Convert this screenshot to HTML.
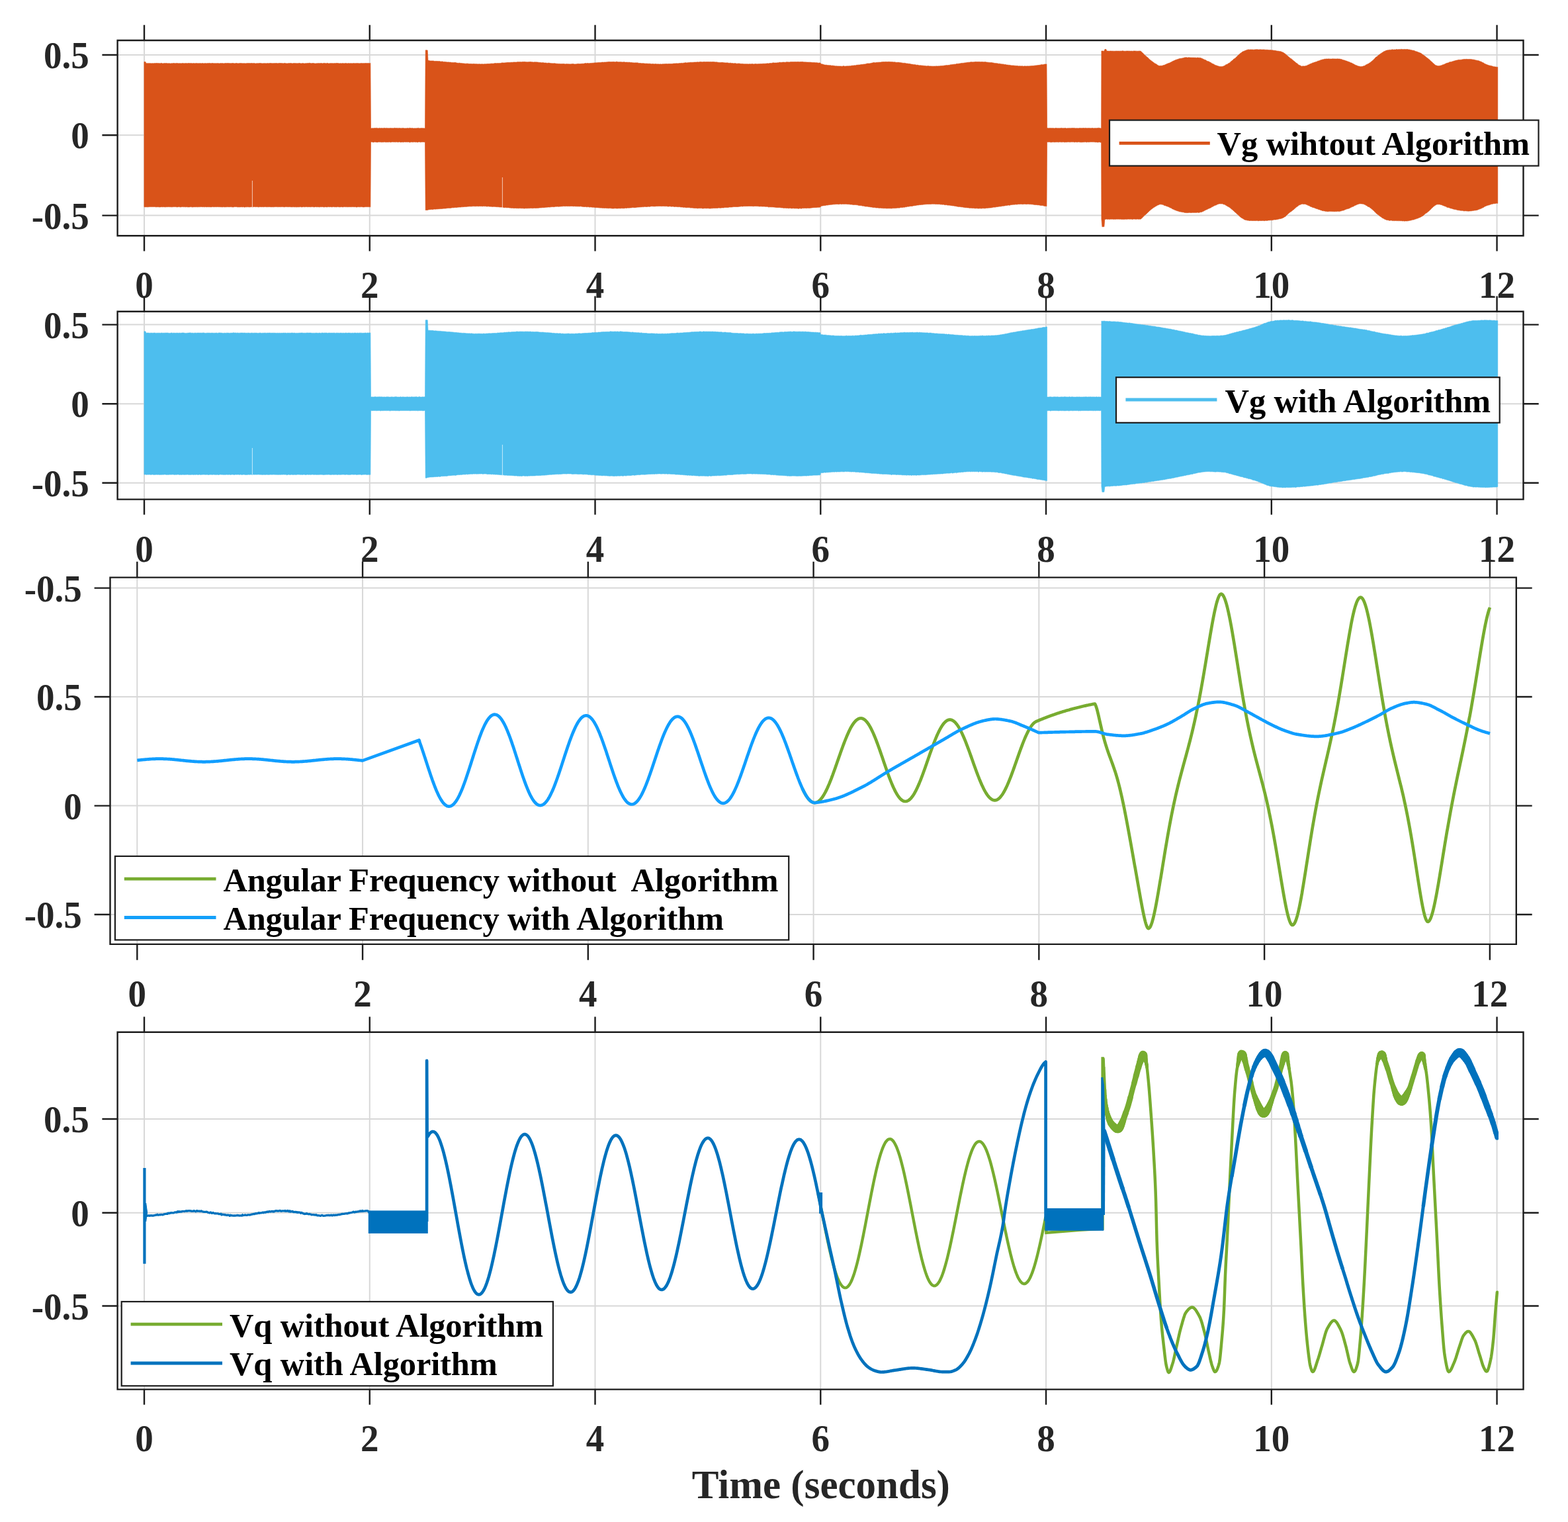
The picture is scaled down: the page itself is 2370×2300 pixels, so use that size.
<!DOCTYPE html>
<html lang="en">
<head>
<meta charset="utf-8">
<title>Vg, Angular Frequency and Vq with and without Algorithm</title>
<style>
html,body{margin:0;padding:0;background:#fff;}
body{width:2370px;height:2300px;overflow:hidden;}
svg{display:block;filter:blur(0.45px);}
text{font-family:"Liberation Serif", "DejaVu Serif", serif;font-weight:bold;}
.tk{font-size:55px;fill:#262626;}
.lg{font-size:50.5px;fill:#000;white-space:pre;}
.xl{font-size:61px;fill:#262626;}
.ax{stroke:#1c1c1c;stroke-width:2.4;fill:none;stroke-linecap:butt;}
.gr{stroke:#d8d8d8;stroke-width:2;fill:none;}
.lb{fill:#fff;stroke:#1c1c1c;stroke-width:2.2;}
</style>
</head>
<body>
<svg width="2370" height="2300" viewBox="0 0 2370 2300">
<rect x="0" y="0" width="2370" height="2300" fill="#fff"/>
<g id="plot1">
<path class="gr" d="M218 61V356.2M558.76 61V356.2M899.52 61V356.2M1240.28 61V356.2M1581.04 61V356.2M1921.8 61V356.2M2262.56 61V356.2M177.6 83H2302.5M177.6 204.2H2302.5M177.6 325.6H2302.5"/>
<clipPath id="cp1"><rect x="177.6" y="61" width="2087.36" height="295.2"/></clipPath>
<g clip-path="url(#cp1)">
<path d="M217.9 93.5L218.9 93.4L219.9 93.4L220.9 95.7L221.9 95.8L222.9 95.6L223.9 95.9L224.9 95.5L225.9 95.8L226.9 95.7L227.9 95.8L228.9 95.8L229.9 95.9L230.9 95.6L231.9 95.9L232.9 95.7L233.9 95.5L234.9 95.8L235.9 95.4L236.9 95.6L237.9 95.4L238.9 95.8L239.9 95.6L240.9 95.8L241.9 95.8L242.9 95.8L243.9 95.2L244.9 95.7L245.9 95.9L246.9 95.9L247.9 95.5L248.9 95.8L249.9 95.6L250.9 95.7L251.9 95.6L252.9 95.7L253.9 95.9L254.9 95.7L255.9 95.7L256.9 95.9L257.9 95.9L258.9 95.9L259.9 95.6L260.9 95.9L261.9 95.5L262.9 95.5L263.9 95.7L264.9 95.8L265.9 95.7L266.9 95.4L267.9 95.7L268.9 95.6L269.9 95.9L270.9 95.7L271.9 95.8L272.9 95.7L273.9 95.9L274.9 95.7L275.9 95.5L276.9 95.7L277.9 95.8L278.9 95.8L279.9 95.8L280.9 95.6L281.9 95.7L282.9 95.8L283.9 95.7L284.9 95.6L285.9 95.5L286.9 95.7L287.9 95.7L288.9 95.4L289.9 95.8L290.9 95.9L291.9 95.6L292.9 95.7L293.9 95.8L294.9 95.8L295.9 95.8L296.9 95.5L297.9 95.8L298.9 95.8L299.9 95.8L300.9 95.8L301.9 95.8L302.9 95.6L303.9 95.9L304.9 95.8L305.9 95.6L306.9 95.7L307.9 95.9L308.9 95.7L309.9 95.8L310.9 95.6L311.9 95.9L312.9 95.7L313.9 95.6L314.9 95.8L315.9 95.5L316.9 95.4L317.9 95.8L318.9 95.7L319.9 95.8L320.9 95.3L321.9 95.7L322.9 95.7L323.9 95.8L324.9 95.8L325.9 95.8L326.9 95.8L327.9 95.7L328.9 95.7L329.9 95.6L330.9 95.9L331.9 95.9L332.9 95.6L333.9 95.8L334.9 95.7L335.9 95.6L336.9 95.8L337.9 95.9L338.9 95.7L339.9 95.8L340.9 95.4L341.9 95.6L342.9 95.8L343.9 95.3L344.9 95.7L345.9 95.4L346.9 95.7L347.9 95.7L348.9 95.7L349.9 95.8L350.9 95.5L351.9 95.6L352.9 95.5L353.9 95.9L354.9 95.8L355.9 95.8L356.9 95.6L357.9 95.6L358.9 95.7L359.9 95.9L360.9 95.7L361.9 95.7L362.9 95.6L363.9 95.6L364.9 95.8L365.9 95.6L366.9 95.9L367.9 95.7L368.9 95.8L369.9 95.7L370.9 95.9L371.9 95.8L372.9 95.8L373.9 95.5L374.9 95.7L375.9 95.5L376.9 95.7L377.9 95.6L378.9 95.8L379.9 95.5L380.9 95.5L381.9 95.8L382.9 95.7L383.9 95.4L384.9 95.7L385.9 95.9L386.9 95.9L387.9 95.7L388.9 95.8L389.9 95.7L390.9 95.8L391.9 95.6L392.9 95.6L393.9 95.5L394.9 95.8L395.9 95.8L396.9 95.9L397.9 95.8L398.9 95.8L399.9 95.7L400.9 95.8L401.9 95.8L402.9 95.9L403.9 95.6L404.9 95.7L405.9 95.8L406.9 95.7L407.9 95.5L408.9 95.6L409.9 95.6L410.9 95.8L411.9 95.7L412.9 95.7L413.9 95.7L414.9 95.6L415.9 95.8L416.9 95.5L417.9 95.6L418.9 95.7L419.9 95.8L420.9 95.7L421.9 95.4L422.9 95.5L423.9 95.6L424.9 95.5L425.9 95.7L426.9 95.6L427.9 95.9L428.9 95.7L429.9 95.5L430.9 95.4L431.9 95.8L432.9 95.9L433.9 95.8L434.9 95.9L435.9 95.7L436.9 95.5L437.9 95.8L438.9 95.6L439.9 95.5L440.9 95.8L441.9 95.9L442.9 95.8L443.9 95.6L444.9 95.7L445.9 95.6L446.9 95.7L447.9 95.8L448.9 95.7L449.9 95.8L450.9 95.8L451.9 95.4L452.9 95.5L453.9 95.7L454.9 95.9L455.9 95.9L456.9 95.5L457.9 95.8L458.9 95.7L459.9 95.9L460.9 95.9L461.9 95.8L462.9 95.6L463.9 95.9L464.9 95.3L465.9 95.7L466.9 95.4L467.9 95.1L468.9 95.7L469.9 95.5L470.9 95.9L471.9 95.6L472.9 95.6L473.9 95.6L474.9 95.8L475.9 95.9L476.9 95.9L477.9 95.9L478.9 95.7L479.9 95.7L480.9 95.8L481.9 95.6L482.9 95.8L483.9 95.7L484.9 95.6L485.9 95.6L486.9 95.8L487.9 95.9L488.9 95.5L489.9 95.4L490.9 95.5L491.9 95.8L492.9 95.7L493.9 95.8L494.9 95.2L495.9 95.8L496.9 95.9L497.9 95.9L498.9 95.6L499.9 95.8L500.9 95.8L501.9 95.6L502.9 95.8L503.9 95.9L504.9 95.5L505.9 95.7L506.9 95.8L507.9 95.4L508.9 95.5L509.9 95.6L510.9 95.6L511.9 95.7L512.9 95.9L513.9 95.8L514.9 95.8L515.9 95.8L516.9 95.9L517.9 95.5L518.9 95.7L519.9 95.9L520.9 95.7L521.9 95.7L522.9 95.5L523.9 95.8L524.9 95.9L525.9 95.8L526.9 95.6L527.9 95.9L528.9 95.7L529.9 95.8L530.9 95.8L531.9 95.8L532.9 95.9L533.9 95.5L534.9 95.8L535.9 95.7L536.9 95.7L537.9 95.7L538.9 95.7L539.9 95.5L540.9 95.8L541.9 95.7L542.9 95.8L543.9 95.9L544.9 95.6L545.9 95.8L546.9 95.4L547.9 95.8L548.9 95.8L549.9 95.6L550.9 95.8L551.9 95.6L552.9 95.6L553.9 95.6L554.9 95.7L555.9 95.6L556.9 95.5L557.9 95.8L558.9 95.7L559.9 95.4L560.5 193.6L561.5 193.9L562.5 193.7L563.5 193.8L564.5 193.8L565.5 193.7L566.5 193.5L567.5 193.6L568.5 193.8L569.5 193.3L570.5 193.7L571.5 193.9L572.5 193.7L573.5 193.4L574.5 193.8L575.5 193.8L576.5 193.6L577.5 193.8L578.5 193.7L579.5 193.8L580.5 193.4L581.5 193.5L582.5 193.7L583.5 193.7L584.5 193.4L585.5 193.7L586.5 193.8L587.5 193.8L588.5 193.7L589.5 193.8L590.5 193.5L591.5 193.8L592.5 193.7L593.5 193.8L594.5 193.7L595.5 193.8L596.5 193.3L597.5 193.6L598.5 193.8L599.5 193.6L600.5 193.4L601.5 193.9L602.5 193.4L603.5 193.7L604.5 193.6L605.5 193.8L606.5 193.9L607.5 193.4L608.5 193.8L609.5 193.5L610.5 193.8L611.5 193.9L612.5 193.8L613.5 193.9L614.5 193.8L615.5 193.7L616.5 193.5L617.5 193.9L618.5 193.4L619.5 193.4L620.5 193.6L621.5 193.7L622.5 193.7L623.5 193.5L624.5 193.9L625.5 193.9L626.5 193.8L627.5 193.9L628.5 193.8L629.5 193.9L630.5 193.6L631.5 193.8L632.5 193.3L633.5 193.9L634.5 193.8L635.5 193.8L636.5 193.7L637.5 193.6L638.5 193.8L639.5 193.7L640.5 193.8L641.5 193.9L642.5 193.5L643.2 75.8L644.2 75.9L645.2 75.7L646.2 76.1L647 91.7L648 91.2L649 91.7L650 91.9L651 92L652 92L653 91.9L654 92.1L655 91.9L656 92.3L657 92.5L658 92.5L659 92.3L660 92.6L661 92.5L662 92.5L663 92.7L664 92.4L665 92.8L666 93L667 93.2L668 92.8L669 93.1L670 93.4L671 93.4L672 93.4L673 93.6L674 93.7L675 93.8L676 93.9L677 94L678 93.8L679 94.2L680 94.1L681 94.1L682 94.4L683 94.4L684 94.4L685 94.7L686 94.5L687 94.6L688 94.4L689 94.6L690 95.1L691 95.1L692 95.3L693 95.4L694 95.1L695 95.3L696 95.4L697 95.7L698 95.5L699 95.9L700 95.8L701 96L702 96L703 96.2L704 96.2L705 96.2L706 95.9L707 96.2L708 96.3L709 96.5L710 96.6L711 96.4L712 96.6L713 96.6L714 96.8L715 96.5L716 96.5L717 96.6L718 96.8L719 96.7L720 96.6L721 96.9L722 96.7L723 96.9L724 96.8L725 96.7L726 96.9L727 96.9L728 96.8L729 96.8L730 96.9L731 96.9L732 96.8L733 96.7L734 96.8L735 96.8L736 96.6L737 96.6L738 96.4L739 96.6L740 96.4L741 96.2L742 96.3L743 95.9L744 96.2L745 96.1L746 96.2L747 95.7L748 95.7L749 95.6L750 95.7L751 95.8L752 95.6L753 95.6L754 95.7L755 95.5L756 95.4L757 95.5L758 95.1L759 94.8L760 95.1L761 94.9L762 94.9L763 95L764 94.7L765 94.8L766 94.6L767 94.5L768 94.3L769 94.6L770 94.4L771 94.2L772 94.4L773 94.1L774 94.3L775 94.2L776 94L777 93.9L778 94L779 94L780 94L781 93.9L782 93.7L783 93.6L784 93.8L785 93.7L786 93.6L787 93.7L788 93.7L789 93.7L790 93.2L791 93.7L792 93.3L793 93.5L794 93.6L795 93.7L796 93.7L797 93.8L798 93.8L799 93.7L800 93.4L801 93.8L802 93.3L803 93.8L804 93.8L805 93.8L806 94L807 94L808 93.8L809 93.8L810 94L811 93.8L812 94.1L813 94L814 94.2L815 94.4L816 94.3L817 94.6L818 94.7L819 94.8L820 94.7L821 94.5L822 95L823 95.1L824 94.9L825 95.1L826 95.3L827 95.2L828 95.5L829 95.1L830 95.1L831 95.6L832 95.6L833 95.8L834 95.7L835 95.9L836 95.7L837 96.1L838 95.6L839 96L840 96L841 96.2L842 96.3L843 96.3L844 96.4L845 96.4L846 96.4L847 96.5L848 96.7L849 96.5L850 96.4L851 96.7L852 96.3L853 96.7L854 96.8L855 96.9L856 96.5L857 96.7L858 96.7L859 96.8L860 96.8L861 96.9L862 96.8L863 97L864 96.6L865 96.7L866 96.4L867 96.7L868 96.9L869 96.9L870 96.9L871 96.8L872 96.8L873 96.5L874 96.2L875 96.7L876 96.5L877 96.6L878 96.5L879 96.3L880 96.3L881 96.2L882 96.3L883 96.1L884 95.7L885 95.6L886 95.7L887 95.9L888 95.3L889 95.7L890 95.8L891 95.7L892 95.5L893 95.5L894 95.4L895 95.3L896 95.3L897 95.2L898 94.9L899 95.1L900 94.8L901 94.9L902 94.7L903 94.8L904 94.6L905 94.6L906 94.6L907 94.5L908 94.4L909 94.3L910 94.1L911 94L912 94.3L913 94L914 94L915 93.9L916 94L917 93.8L918 93.7L919 93.7L920 93.3L921 93.7L922 93.3L923 93.8L924 93.5L925 93.6L926 93.4L927 93.6L928 93.3L929 93.7L930 93.7L931 93.5L932 93.1L933 93.4L934 93.7L935 93.7L936 93.7L937 93.7L938 93.6L939 93.9L940 93.7L941 93.9L942 94L943 93.4L944 93.9L945 94.1L946 94.1L947 94.1L948 94L949 94.2L950 94.2L951 94L952 94.3L953 94.4L954 94.6L955 94.5L956 94.7L957 94.9L958 94.8L959 94.9L960 95L961 94.7L962 94.9L963 94.9L964 94.8L965 95.4L966 95.5L967 95.5L968 95.5L969 95.7L970 95.8L971 95.9L972 95.5L973 96L974 95.9L975 96L976 96.2L977 96.1L978 96.1L979 96.3L980 96.3L981 96.2L982 96.3L983 96.3L984 96.7L985 96.7L986 96.6L987 96.5L988 96.8L989 96.8L990 96.8L991 96.5L992 96.7L993 97L994 96.8L995 96.8L996 97L997 97L998 96.8L999 96.9L1000 97L1001 96.9L1002 96.6L1003 97L1004 96.6L1005 96.8L1006 96.6L1007 96.6L1008 96.6L1009 96.8L1010 96.4L1011 96.6L1012 96.4L1013 96.6L1014 96.5L1015 96.5L1016 96.5L1017 96.3L1018 96.1L1019 96.1L1020 96L1021 95.9L1022 96L1023 95.7L1024 96L1025 95.9L1026 95.8L1027 95.6L1028 95.7L1029 95.5L1030 95.3L1031 95.4L1032 95.4L1033 95.2L1034 95L1035 95.1L1036 94.5L1037 94.9L1038 94.9L1039 94.7L1040 94.8L1041 94.5L1042 94.6L1043 94.4L1044 94.1L1045 94.4L1046 94.2L1047 94.3L1048 94.2L1049 94.1L1050 94L1051 94.1L1052 93.9L1053 94L1054 93.8L1055 93.8L1056 93.9L1057 93.9L1058 93.2L1059 93.7L1060 93.5L1061 93.8L1062 93.8L1063 93.6L1064 93.5L1065 93.4L1066 93.7L1067 93.6L1068 93.6L1069 93.6L1070 93.6L1071 93.4L1072 93.7L1073 93.5L1074 93.4L1075 93.8L1076 93.5L1077 93.6L1078 93.6L1079 93.6L1080 93.8L1081 93.8L1082 94L1083 93.7L1084 94L1085 94.2L1086 94.3L1087 94.4L1088 94.4L1089 94.4L1090 94.6L1091 94.2L1092 94.3L1093 94.7L1094 94.6L1095 94.9L1096 94.8L1097 95L1098 94.9L1099 94.8L1100 95L1101 95.2L1102 95.3L1103 95.5L1104 94.9L1105 95.5L1106 95.7L1107 95.4L1108 95.8L1109 95.9L1110 95.7L1111 95.7L1112 95.7L1113 96.2L1114 96.2L1115 95.9L1116 96.2L1117 95.8L1118 96.3L1119 96.3L1120 96.5L1121 96.4L1122 96.4L1123 96.5L1124 96.8L1125 96.8L1126 96.7L1127 96.8L1128 96.8L1129 96.8L1130 96.7L1131 97L1132 96.8L1133 96.7L1134 96.7L1135 96.9L1136 96.6L1137 96.7L1138 96.6L1139 97L1140 96.9L1141 96.5L1142 96.6L1143 96.8L1144 96.7L1145 96.8L1146 96.8L1147 96.4L1148 96.7L1149 96.5L1150 96.4L1151 96.6L1152 96.5L1153 96.2L1154 96.3L1155 96.3L1156 96.2L1157 96.2L1158 96.1L1159 96.1L1160 95.7L1161 96L1162 95.9L1163 95.8L1164 95.3L1165 95.7L1166 95.5L1167 95.2L1168 95L1169 94.8L1170 95.1L1171 95.1L1172 95L1173 94.9L1174 95.1L1175 94.7L1176 94.8L1177 94.7L1178 94.2L1179 94L1180 94.5L1181 94.2L1182 94.3L1183 94.1L1184 94L1185 94L1186 94.3L1187 93.9L1188 94.2L1189 93.6L1190 93.7L1191 94L1192 93.8L1193 93.9L1194 93.9L1195 93.4L1196 93.5L1197 93.8L1198 93.5L1199 93.6L1200 93.7L1201 93.5L1202 93.4L1203 93.7L1204 93.4L1205 93.7L1206 93.3L1207 93.6L1208 93.7L1209 93.6L1210 93.5L1211 93.5L1212 93.5L1213 93.3L1214 93.8L1215 93.8L1216 93.8L1217 93.9L1218 93.8L1219 94L1220 94.1L1221 94L1222 94.1L1223 94.2L1224 93.9L1225 94.3L1226 94.1L1227 94.5L1228 94.4L1229 94.6L1230 94.6L1231 94.5L1232 94.7L1233 94.7L1234 94.8L1235 94.7L1236 95L1237 95.2L1238 95L1239 95L1240 95.1L1241 97.1L1242 96.7L1243 96.9L1244 97.3L1245 97.6L1246 98L1247 98.1L1248 98.3L1249 98.1L1250 98.4L1251 98.6L1252 98.8L1253 98.6L1254 99L1255 98.6L1256 99.1L1257 99.3L1258 99L1259 99.3L1260 99.3L1261 99.5L1262 99.7L1263 99.9L1264 99.7L1265 99.9L1266 99.9L1267 100L1268 100L1269 100L1270 100.1L1271 100L1272 100.2L1273 100.2L1274 100L1275 99.6L1276 100L1277 100.2L1278 100.1L1279 99.9L1280 99.9L1281 99.8L1282 99.9L1283 99.8L1284 99.7L1285 99.7L1286 99.7L1287 99.3L1288 99.1L1289 99.3L1290 98.9L1291 99L1292 98.7L1293 98.9L1294 98.7L1295 98.1L1296 98.3L1297 98.2L1298 97.9L1299 98.1L1300 97.9L1301 97.6L1302 97.6L1303 97.5L1304 97.3L1305 97.2L1306 97L1307 97L1308 96.9L1309 96.6L1310 96.2L1311 95.9L1312 96L1313 96L1314 95.9L1315 95.9L1316 95.6L1317 95.5L1318 95L1319 95.1L1320 94.5L1321 94.6L1322 94.7L1323 94.7L1324 94.7L1325 94.3L1326 94.2L1327 94.4L1328 94L1329 94.2L1330 94.1L1331 94.1L1332 93.9L1333 93.6L1334 93.7L1335 93.6L1336 93.5L1337 93.6L1338 93.7L1339 93.1L1340 93.7L1341 93.4L1342 93.6L1343 93.3L1344 93.4L1345 93.5L1346 93.4L1347 93.8L1348 93.4L1349 93.8L1350 93.7L1351 94L1352 93.7L1353 93.9L1354 94.2L1355 94.3L1356 94.3L1357 94.3L1358 94.1L1359 94.6L1360 94.5L1361 94.7L1362 94.8L1363 94.9L1364 95.2L1365 95.2L1366 95.5L1367 95.2L1368 95.4L1369 95.7L1370 95.9L1371 96.1L1372 96L1373 96.3L1374 96.6L1375 96.2L1376 96.8L1377 97L1378 97.1L1379 97.3L1380 97.3L1381 97.7L1382 97.8L1383 97.5L1384 98.1L1385 98.2L1386 98.3L1387 98.1L1388 98.6L1389 98.8L1390 98.9L1391 98.7L1392 99L1393 98.9L1394 99.3L1395 99.1L1396 99.4L1397 99.5L1398 99.4L1399 99.7L1400 99.8L1401 99.9L1402 99.7L1403 99.5L1404 99.9L1405 99.9L1406 99.9L1407 100L1408 100L1409 100.2L1410 100L1411 100.2L1412 100.1L1413 100L1414 100.2L1415 99.8L1416 100.1L1417 99.9L1418 100L1419 99.8L1420 99.9L1421 99.7L1422 99.6L1423 99.7L1424 99.4L1425 99.4L1426 99.4L1427 99.1L1428 99L1429 99L1430 98.5L1431 98.8L1432 98.7L1433 98.5L1434 98.5L1435 98.2L1436 98.2L1437 97.6L1438 97.9L1439 97.5L1440 97.6L1441 97.4L1442 97L1443 97.2L1444 97.1L1445 96.9L1446 96.3L1447 96.4L1448 96.4L1449 96.2L1450 96.1L1451 96L1452 95.8L1453 95.5L1454 95.4L1455 95.4L1456 95.3L1457 95.2L1458 95L1459 94.8L1460 94.9L1461 94.5L1462 94.4L1463 94.2L1464 94.2L1465 94.2L1466 94.1L1467 93.8L1468 93.7L1469 93.7L1470 93.9L1471 93.8L1472 93.7L1473 93.8L1474 93.3L1475 93.6L1476 93.4L1477 93.5L1478 93.6L1479 93.4L1480 93.4L1481 93.5L1482 93.7L1483 93.6L1484 93.6L1485 93.6L1486 93.7L1487 93.7L1488 93.8L1489 93.5L1490 93.8L1491 94L1492 94L1493 94.2L1494 94.2L1495 94.4L1496 94.4L1497 94.7L1498 94.5L1499 94.6L1500 95L1501 94.8L1502 95.3L1503 95.4L1504 95.4L1505 95.7L1506 95.7L1507 95.7L1508 96L1509 96.2L1510 96.4L1511 96L1512 96.7L1513 96.7L1514 96.8L1515 97.2L1516 96.7L1517 97.3L1518 97.5L1519 97.6L1520 97.5L1521 97.9L1522 98.1L1523 98.1L1524 98.2L1525 98.5L1526 98.2L1527 98.7L1528 98.8L1529 99L1530 99L1531 99L1532 99L1533 99.3L1534 99.2L1535 99.4L1536 99.5L1537 99.6L1538 99.6L1539 99.8L1540 100L1541 99.7L1542 99.8L1543 99.9L1544 100L1545 99.6L1546 100.2L1547 100.1L1548 100L1549 99.8L1550 100.1L1551 99.9L1552 100.1L1553 99.8L1554 100L1555 99.9L1556 99.8L1557 99.9L1558 99.6L1559 99.7L1560 99.6L1561 99.6L1562 99.6L1563 99.2L1564 99.2L1565 98.9L1566 99.1L1567 98.8L1568 98.8L1569 98.6L1570 98.6L1571 98.3L1572 98.2L1573 98L1574 97.6L1575 97.8L1576 97.7L1577 97.7L1578 97.2L1579 97.1L1580 97L1581 97.1L1582 96.9L1582.6 193.5L1583.6 193.5L1584.6 193.8L1585.6 193.8L1586.6 193.6L1587.6 193.8L1588.6 193.5L1589.6 193.8L1590.6 193.7L1591.6 193.6L1592.6 193.8L1593.6 193.9L1594.6 193.7L1595.6 193.5L1596.6 193.6L1597.6 193.8L1598.6 193.8L1599.6 193.8L1600.6 193.8L1601.6 193.8L1602.6 193.8L1603.6 193.6L1604.6 193.4L1605.6 193.8L1606.6 193.7L1607.6 193.7L1608.6 193.8L1609.6 193.6L1610.6 193.6L1611.6 193.9L1612.6 193.9L1613.6 193.7L1614.6 193.8L1615.6 193.8L1616.6 193.6L1617.6 193.9L1618.6 193.4L1619.6 193.7L1620.6 193.6L1621.6 193.5L1622.6 193.5L1623.6 193.7L1624.6 193.4L1625.6 193.9L1626.6 193.8L1627.6 193.8L1628.6 193.7L1629.6 193.9L1630.6 193.8L1631.6 193.6L1632.6 193.7L1633.6 193.6L1634.6 193.7L1635.6 193.7L1636.6 193.6L1637.6 193.6L1638.6 193.6L1639.6 193.8L1640.6 193.4L1641.6 193.6L1642.6 193.8L1643.6 193.8L1644.6 193.5L1645.6 193.7L1646.6 193.6L1647.6 193.8L1648.6 193.7L1649.6 193.7L1650.6 193.6L1651.6 193.6L1652.6 193.7L1653.6 193.9L1654.6 193.6L1655.6 193.7L1656.6 193.7L1657.6 193.7L1658.6 193.5L1659.6 193.6L1660.6 193.2L1661.6 193.5L1662.6 193.6L1663.6 193.9L1664.6 193.7L1664.9 77L1665.9 77L1666.9 77.1L1667.9 77.3L1668.9 77.3L1669.9 74.6L1670.9 74.6L1671.9 74.6L1672.9 77.3L1673.9 77.1L1674.9 77.1L1675.9 77.3L1676.9 77.3L1677.9 77L1678.9 77.1L1679.9 77.3L1680.9 77L1681.9 77.3L1682.9 77.2L1683.9 77.2L1684.9 77.3L1685.9 77.2L1686.9 77.1L1687.9 77.2L1688.9 77.1L1689.9 77.3L1690.9 77.1L1691.9 77.2L1692.9 77.2L1693.9 77.1L1694.9 77.2L1695.9 77.1L1696.9 76.8L1697.9 77L1698.9 77.3L1699.9 77.3L1700.9 77.2L1701.9 77.3L1702.9 77L1703.9 77.1L1704.9 77.1L1705.9 77.2L1706.9 77L1707.9 77.3L1708.9 77.3L1709.9 77.1L1710.9 77.3L1711.9 77.3L1712.9 77.2L1713.9 76.9L1714.9 77.1L1715.9 77L1716.9 77.2L1717.9 77.2L1718.9 77.2L1719.9 77.3L1720.9 77.3L1721.9 76.9L1722.9 77.3L1723.9 77.1L1724.9 77.9L1725.9 78.7L1726.9 79.9L1727.9 80.5L1728.9 81.9L1729.9 82.7L1730.9 83.7L1731.9 84.6L1732.9 85.4L1733.9 86.3L1734.9 87.1L1735.9 88.1L1736.9 89.2L1737.9 90L1738.9 91L1739.9 91.6L1740.9 92.4L1741.9 93L1742.9 94.1L1743.9 94.5L1744.9 95.4L1745.9 96.1L1746.9 96.4L1747.9 96.9L1748.9 97.7L1749.9 98.6L1750.9 99.1L1751.9 99.4L1752.9 99.6L1753.9 99.6L1754.9 99.2L1755.9 99.5L1756.9 99.2L1757.9 98.8L1758.9 98.6L1759.9 98.3L1760.9 97.9L1761.9 97.2L1762.9 97.1L1763.9 96.3L1764.9 96.2L1765.9 95.6L1766.9 95.5L1767.9 95L1768.9 94.5L1769.9 93.9L1770.9 93.4L1771.9 92.9L1772.9 92.3L1773.9 92L1774.9 91.6L1775.9 91L1776.9 90.6L1777.9 90.4L1778.9 89.8L1779.9 89.7L1780.9 89.2L1781.9 88.9L1782.9 88.6L1783.9 88.5L1784.9 88.2L1785.9 88.2L1786.9 88L1787.9 87.7L1788.9 87.6L1789.9 87.2L1790.9 86.8L1791.9 87.1L1792.9 86.6L1793.9 87.1L1794.9 87.1L1795.9 87L1796.9 86.7L1797.9 86.9L1798.9 87.1L1799.9 87.1L1800.9 87L1801.9 87.2L1802.9 87.1L1803.9 87.1L1804.9 87.3L1805.9 87.1L1806.9 87.2L1807.9 87.3L1808.9 87.4L1809.9 87.1L1810.9 87.1L1811.9 87.5L1812.9 87.2L1813.9 87.4L1814.9 87.6L1815.9 88L1816.9 88.5L1817.9 88.8L1818.9 89.4L1819.9 89.8L1820.9 90.4L1821.9 90.5L1822.9 91L1823.9 92L1824.9 92.4L1825.9 92.6L1826.9 93L1827.9 93.3L1828.9 94.2L1829.9 94.3L1830.9 95.2L1831.9 95.9L1832.9 96.3L1833.9 96.8L1834.9 97.2L1835.9 97.9L1836.9 98.4L1837.9 98.8L1838.9 99L1839.9 99.5L1840.9 99.8L1841.9 100.1L1842.9 100.4L1843.9 100.5L1844.9 100.7L1845.9 100.6L1846.9 100.7L1847.9 100.4L1848.9 100L1849.9 99.9L1850.9 98.9L1851.9 98.9L1852.9 97.6L1853.9 97.6L1854.9 97.2L1855.9 96.6L1856.9 95.5L1857.9 95.5L1858.9 94.7L1859.9 93.5L1860.9 92.8L1861.9 91.8L1862.9 91.3L1863.9 90.3L1864.9 89L1865.9 88.7L1866.9 87.9L1867.9 86.9L1868.9 86.1L1869.9 84.9L1870.9 84L1871.9 83.2L1872.9 82.3L1873.9 81.3L1874.9 80.4L1875.9 79.9L1876.9 78.9L1877.9 78.3L1878.9 77.8L1879.9 77.4L1880.9 77.1L1881.9 76.5L1882.9 76.2L1883.9 75.8L1884.9 75.4L1885.9 75.2L1886.9 74.8L1887.9 75.2L1888.9 75.1L1889.9 74.9L1890.9 75L1891.9 75L1892.9 75L1893.9 75.1L1894.9 75.2L1895.9 75.1L1896.9 74.9L1897.9 74.8L1898.9 75L1899.9 74.5L1900.9 74.9L1901.9 75.1L1902.9 74.9L1903.9 75L1904.9 74.8L1905.9 74.9L1906.9 75.1L1907.9 75L1908.9 75.1L1909.9 74.9L1910.9 75L1911.9 75.2L1912.9 75.3L1913.9 75.3L1914.9 75.3L1915.9 75.3L1916.9 75.6L1917.9 75.6L1918.9 75.7L1919.9 75.5L1920.9 75.7L1921.9 75.8L1922.9 76L1923.9 75.8L1924.9 76.3L1925.9 76.3L1926.9 76.3L1927.9 76.5L1928.9 76.7L1929.9 77L1930.9 77.2L1931.9 77.1L1932.9 77.4L1933.9 77.5L1934.9 77.8L1935.9 77.7L1936.9 78.3L1937.9 78.7L1938.9 79.1L1939.9 79.5L1940.9 80.2L1941.9 81L1942.9 81.4L1943.9 82.5L1944.9 83.4L1945.9 84.3L1946.8 84.9L1947.8 86.1L1948.8 86.7L1949.8 87.5L1950.8 88.4L1951.8 88.7L1952.8 89.7L1953.8 90.5L1954.8 91.5L1955.8 92.3L1956.8 93.1L1957.8 93.9L1958.8 94.8L1959.8 95.6L1960.8 95.9L1961.8 97.3L1962.8 97.9L1963.8 98.4L1964.8 98.8L1965.8 99.3L1966.8 100L1967.8 100.2L1968.8 99.9L1969.8 99.8L1970.8 100.1L1971.8 99.9L1972.8 99.8L1973.8 99.5L1974.8 99.2L1975.8 98.9L1976.8 98.1L1977.8 97.9L1978.8 97.5L1979.8 96.8L1980.8 96.4L1981.8 96.1L1982.8 95.7L1983.8 94.9L1984.8 94.9L1985.8 94.6L1986.8 94.1L1987.8 93.9L1988.8 93.4L1989.8 93.3L1990.8 92.9L1991.8 92.1L1992.8 92.2L1993.8 91.7L1994.8 91.5L1995.8 90.9L1996.8 90.5L1997.8 90.4L1998.8 90L1999.8 89.8L2000.8 89.8L2001.8 89.3L2002.8 89.1L2003.8 89.3L2004.8 88.9L2005.8 89L2006.8 89L2007.8 89.1L2008.8 88.7L2009.8 89.2L2010.8 89L2011.8 89.1L2012.8 89.1L2013.8 88.9L2014.8 88.8L2015.8 89L2016.8 88.9L2017.8 88.9L2018.8 89.1L2019.8 88.9L2020.8 89.1L2021.8 88.8L2022.8 89.1L2023.8 89.1L2024.8 89.1L2025.8 89.3L2026.8 89.5L2027.8 89.6L2028.8 90.2L2029.8 90.5L2030.8 90.8L2031.8 91.1L2032.8 91.2L2033.8 91.8L2034.8 92.1L2035.8 92.3L2036.8 92.7L2037.8 93.3L2038.8 93.3L2039.8 93.9L2040.8 94.3L2041.8 94.9L2042.8 95L2043.8 95.5L2044.8 96.2L2045.8 96.7L2046.8 97.1L2047.8 97.9L2048.8 98.2L2049.8 98.7L2050.8 99L2051.8 99.4L2052.8 99.9L2053.8 100.1L2054.8 100.3L2055.8 100.4L2056.8 100.7L2057.8 100.5L2058.8 100.6L2059.8 100.3L2060.8 99.8L2061.8 99.7L2062.8 99.2L2063.8 98.7L2064.8 97.8L2065.8 97.6L2066.8 96.9L2067.8 96.5L2068.8 96L2069.8 95.3L2070.8 94.7L2071.8 93.7L2072.8 93L2073.8 92.2L2074.8 91.4L2075.8 90.4L2076.8 89.5L2077.8 88.4L2078.8 87.2L2079.8 86.2L2080.8 85.8L2081.8 84.9L2082.8 84.1L2083.8 83.3L2084.8 82.6L2085.8 81.7L2086.8 81.1L2087.8 80.5L2088.8 79.8L2089.8 79.1L2090.8 78.5L2091.8 77.7L2092.8 77.4L2093.8 76.9L2094.8 76.6L2095.8 76.1L2096.8 76L2097.8 75.7L2098.8 75.8L2099.8 75.5L2100.8 75.3L2101.8 75.4L2102.8 75.3L2103.8 74.9L2104.8 74.8L2105.8 75.2L2106.8 75.1L2107.8 74.9L2108.8 75.1L2109.8 74.9L2110.8 74.4L2111.8 74.7L2112.8 74.9L2113.8 74.7L2114.8 74.6L2115.8 74.8L2116.8 74.7L2117.8 74.2L2118.8 74.5L2119.8 74.7L2120.8 74.6L2121.8 74.7L2122.8 74.4L2123.8 74.6L2124.8 74.7L2125.8 74.6L2126.8 74.5L2127.8 74.6L2128.8 74.9L2129.8 75L2130.8 75L2131.8 75.4L2132.8 75.6L2133.8 75.8L2134.8 76.1L2135.8 76.2L2136.8 76.3L2137.8 76.5L2138.8 77.2L2139.8 77.5L2140.8 77.9L2141.8 78L2142.8 78.5L2143.8 79L2144.8 79.3L2145.8 79.7L2146.8 80L2147.8 80.6L2148.8 81.2L2149.8 81.9L2150.8 82.7L2151.8 83.2L2152.8 84.3L2153.8 84.8L2154.8 85.6L2155.8 86.4L2156.8 87.2L2157.8 88L2158.8 88.8L2159.8 89.5L2160.8 90.2L2161.8 91.6L2162.8 92.3L2163.8 93.3L2164.8 94.1L2165.8 95.3L2166.8 96L2167.8 96.9L2168.8 97.7L2169.8 98.6L2170.8 99L2171.8 99.1L2172.8 99.7L2173.8 99.6L2174.8 99.7L2175.8 99.4L2176.8 99.3L2177.8 99.1L2178.8 98.8L2179.8 98.4L2180.8 97.7L2181.8 97.7L2182.8 97.3L2183.8 96.8L2184.8 96.3L2185.8 95.7L2186.8 95.4L2187.8 95.1L2188.8 95L2189.8 94.6L2190.8 93.9L2191.8 93.5L2192.8 93.7L2193.8 93.4L2194.8 93L2195.8 92.8L2196.8 92.5L2197.8 92L2198.8 91.9L2199.8 91.4L2200.8 91.3L2201.8 91L2202.8 91.1L2203.8 90.4L2204.8 90.4L2205.8 90.6L2206.8 90.3L2207.8 90.4L2208.8 90.2L2209.8 90.1L2210.8 89.8L2211.8 89.7L2212.8 89.4L2213.8 89.6L2214.8 89.4L2215.8 89.6L2216.8 89.3L2217.8 89.6L2218.8 89.6L2219.8 89.6L2220.8 89.5L2221.8 89.5L2222.8 89.6L2223.8 89.7L2224.8 89.7L2225.8 90L2226.8 90.2L2227.8 90.1L2228.8 90.5L2229.8 90.8L2230.8 90.9L2231.8 91.2L2232.8 91.3L2233.8 91.7L2234.8 91.7L2235.8 92L2236.8 92.7L2237.8 92.9L2238.8 93.2L2239.8 93.8L2240.8 94.5L2241.8 94.7L2242.8 95.2L2243.8 96.2L2244.8 96.6L2245.8 97.1L2246.8 97.4L2247.8 97.8L2248.8 98.2L2249.8 98.6L2250.8 98.9L2251.8 99.1L2252.8 99.4L2253.8 99.3L2254.8 99.9L2255.8 99.9L2256.8 100.5L2257.8 100.8L2258.8 100.7L2259.8 101L2260.8 101.1L2261.8 101.3L2262.8 101.4L2263.8 101.4L2263.8 307.2L2262.8 307.3L2261.8 307.1L2260.8 307.3L2259.8 307.9L2258.8 307.6L2257.8 307.7L2256.8 308L2255.8 308.3L2254.8 308.3L2253.8 308.7L2252.8 309L2251.8 309.6L2250.8 309.7L2249.8 310.1L2248.8 310.3L2247.8 310.4L2246.8 310.9L2245.8 311.5L2244.8 311.8L2243.8 312.2L2242.8 313.2L2241.8 313.6L2240.8 314.1L2239.8 314.6L2238.8 315.1L2237.8 315.6L2236.8 315.8L2235.8 316.2L2234.8 316.4L2233.8 316.9L2232.8 317.4L2231.8 317.4L2230.8 317.9L2229.8 317.8L2228.8 317.9L2227.8 318.2L2226.8 318.2L2225.8 318.5L2224.8 318.5L2223.8 318.9L2222.8 318.7L2221.8 318.9L2220.8 319L2219.8 319L2218.8 319.2L2217.8 318.8L2216.8 319L2215.8 318.7L2214.8 318.7L2213.8 318.7L2212.8 319L2211.8 318.5L2210.8 318.3L2209.8 318.3L2208.8 318.2L2207.8 318.2L2206.8 318L2205.8 317.8L2204.8 317.7L2203.8 317.5L2202.8 317.4L2201.8 317.1L2200.8 316.8L2199.8 316.6L2198.8 316.4L2197.8 316.2L2196.8 316L2195.8 315.7L2194.8 315.2L2193.8 315L2192.8 314.9L2191.8 314.5L2190.8 314.1L2189.8 313.8L2188.8 313.5L2187.8 313.5L2186.8 313.1L2185.8 312.3L2184.8 311.9L2183.8 311.6L2182.8 311.3L2181.8 310.7L2180.8 310.6L2179.8 309.9L2178.8 309.6L2177.8 309.4L2176.8 309.1L2175.8 308.9L2174.8 308.7L2173.8 309L2172.8 308.7L2171.8 309.1L2170.8 309.3L2169.8 310.1L2168.8 310.6L2167.8 311.4L2166.8 312.1L2165.8 312.9L2164.8 314L2163.8 314.8L2162.8 316L2161.8 317L2160.8 317.8L2159.8 319L2158.8 319.8L2157.8 320.5L2156.8 321.4L2155.8 322L2154.8 322.6L2153.8 323.6L2152.8 324.2L2151.8 325.2L2150.8 326.2L2149.8 326.4L2148.8 327.2L2147.8 327.7L2146.8 328.3L2145.8 328.7L2144.8 329.1L2143.8 329.6L2142.8 329.9L2141.8 330.2L2140.8 330.6L2139.8 331.1L2138.8 331.1L2137.8 331.7L2136.8 332.1L2135.8 332.1L2134.8 332.3L2133.8 332.5L2132.8 333L2131.8 333L2130.8 333.2L2129.8 333.5L2128.8 333.7L2127.8 333.8L2126.8 334.1L2125.8 333.9L2124.8 333.9L2123.8 333.9L2122.8 334.3L2121.8 333.8L2120.8 333.9L2119.8 334L2118.8 333.7L2117.8 333.7L2116.8 333.7L2115.8 333.7L2114.8 333.6L2113.8 333.8L2112.8 333.5L2111.8 333.7L2110.8 333.6L2109.8 333.4L2108.8 333.4L2107.8 333.8L2106.8 333.2L2105.8 333.7L2104.8 333.4L2103.8 333.2L2102.8 333.1L2101.8 332.9L2100.8 333.4L2099.8 333.2L2098.8 332.8L2097.8 332.7L2096.8 332.5L2095.8 332.4L2094.8 332.1L2093.8 331.5L2092.8 331.2L2091.8 330.5L2090.8 330L2089.8 329.6L2088.8 329L2087.8 328.1L2086.8 327.4L2085.8 326.7L2084.8 326L2083.8 325.1L2082.8 324.6L2081.8 323.6L2080.8 323.1L2079.8 322L2078.8 321.1L2077.8 319.9L2076.8 319L2075.8 318L2074.8 317L2073.8 316.2L2072.8 315.5L2071.8 314.4L2070.8 313.9L2069.8 313L2068.8 312.4L2067.8 312.4L2066.8 311.5L2065.8 310.7L2064.8 310.5L2063.8 309.6L2062.8 309.2L2061.8 308.8L2060.8 308.3L2059.8 308.2L2058.8 308.1L2057.8 307.9L2056.8 308L2055.8 307.7L2054.8 308L2053.8 308.2L2052.8 308.4L2051.8 309L2050.8 309.1L2049.8 310L2048.8 310.1L2047.8 310.7L2046.8 311L2045.8 311.9L2044.8 312.2L2043.8 312.6L2042.8 313.1L2041.8 313.6L2040.8 314.1L2039.8 314.7L2038.8 314.9L2037.8 315.4L2036.8 315.6L2035.8 315.8L2034.8 316.2L2033.8 316.6L2032.8 316.9L2031.8 317.4L2030.8 317.9L2029.8 318L2028.8 318.2L2027.8 318.6L2026.8 319L2025.8 319L2024.8 319.4L2023.8 319.4L2022.8 319.3L2021.8 319.3L2020.8 319.5L2019.8 319.6L2018.8 319.6L2017.8 319.5L2016.8 319.7L2015.8 319.5L2014.8 319.4L2013.8 319.4L2012.8 319.4L2011.8 319.3L2010.8 319.4L2009.8 319.2L2008.8 319.4L2007.8 319.5L2006.8 319.7L2005.8 319.5L2004.8 319.2L2003.8 319.5L2002.8 319L2001.8 318.9L2000.8 318.8L1999.8 318.4L1998.8 318.7L1997.8 317.9L1996.8 317.7L1995.8 317.4L1994.8 316.9L1993.8 316.7L1992.8 316.4L1991.8 316L1990.8 315.5L1989.8 315.4L1988.8 314.9L1987.8 314.7L1986.8 314.1L1985.8 313.9L1984.8 313.5L1983.8 313.5L1982.8 312.7L1981.8 312.4L1980.8 312.2L1979.8 311.4L1978.8 310.9L1977.8 310.6L1976.8 310.3L1975.8 309.6L1974.8 309.3L1973.8 308.8L1972.8 308.5L1971.8 308.3L1970.8 308.5L1969.8 308.5L1968.8 308.1L1967.8 308.5L1966.8 308.5L1965.8 309.2L1964.8 309.6L1963.8 309.8L1962.8 310.6L1961.8 311.4L1960.8 312.1L1959.8 312.7L1958.8 313.6L1957.8 314.5L1956.8 315.3L1955.8 316.4L1954.8 317L1953.8 317.8L1952.8 318.7L1951.8 319.4L1950.8 320.1L1949.8 320.8L1948.8 321.6L1947.8 322.4L1946.8 323.2L1945.9 324.3L1944.9 324.9L1943.9 325.9L1942.9 327.3L1941.9 327.4L1940.9 328.4L1939.9 328.8L1938.9 329.4L1937.9 329.8L1936.9 330.1L1935.9 330.5L1934.9 330.5L1933.9 330.8L1932.9 330.9L1931.9 331.3L1930.9 331.4L1929.9 331.6L1928.9 331.9L1927.9 332L1926.9 331.9L1925.9 332L1924.9 332.3L1923.9 332.2L1922.9 333L1921.9 332.6L1920.9 332.6L1919.9 332.9L1918.9 332.8L1917.9 332.9L1916.9 332.9L1915.9 333.3L1914.9 333.4L1913.9 333.3L1912.9 333.2L1911.9 333.5L1910.9 333.7L1909.9 333.4L1908.9 333.3L1907.9 333.5L1906.9 333.5L1905.9 333.4L1904.9 333.6L1903.9 333.4L1902.9 333.4L1901.9 333.9L1900.9 333.4L1899.9 333.3L1898.9 333.5L1897.9 333.6L1896.9 333.4L1895.9 333.6L1894.9 333.4L1893.9 333.5L1892.9 333.5L1891.9 333.5L1890.9 333.3L1889.9 333.4L1888.9 333.4L1887.9 333.4L1886.9 333.1L1885.9 333.1L1884.9 333.1L1883.9 332.6L1882.9 332.3L1881.9 332.4L1880.9 331.7L1879.9 331.2L1878.9 330.4L1877.9 329.9L1876.9 329.4L1875.9 328.7L1874.9 327.9L1873.9 327.3L1872.9 326.2L1871.9 325.1L1870.9 324.4L1869.9 323.4L1868.9 322.5L1867.9 321.6L1866.9 320.7L1865.9 319.9L1864.9 318.8L1863.9 318.1L1862.9 317.2L1861.9 316.2L1860.9 315.4L1859.9 314.7L1858.9 313.6L1857.9 313.2L1856.9 312.4L1855.9 312L1854.9 311.6L1853.9 310.7L1852.9 310.3L1851.9 309.6L1850.9 309.1L1849.9 308.7L1848.9 308.8L1847.9 307.9L1846.9 307.7L1845.9 308.2L1844.9 307.7L1843.9 307.9L1842.9 307.9L1841.9 308.2L1840.9 308.4L1839.9 308.9L1838.9 309.5L1837.9 310L1836.9 310.2L1835.9 310.6L1834.9 311.3L1833.9 311.6L1832.9 312.4L1831.9 312.6L1830.9 313.4L1829.9 313.9L1828.9 314.5L1827.9 314.8L1826.9 315.3L1825.9 315.5L1824.9 316.4L1823.9 316.6L1822.9 317.2L1821.9 317.6L1820.9 318.1L1819.9 318.8L1818.9 319.2L1817.9 319.6L1816.9 320.3L1815.9 320.4L1814.9 320.6L1813.9 320.8L1812.9 321.1L1811.9 321.6L1810.9 321.1L1809.9 321.1L1808.9 321.2L1807.9 321.3L1806.9 321.3L1805.9 321.3L1804.9 321.3L1803.9 321.3L1802.9 321.3L1801.9 321.2L1800.9 321.4L1799.9 321.5L1798.9 321.3L1797.9 321.3L1796.9 321.3L1795.9 321.5L1794.9 321.5L1793.9 321.6L1792.9 321.5L1791.9 321.3L1790.9 321.5L1789.9 321.1L1788.9 320.7L1787.9 320.7L1786.9 320.5L1785.9 320.2L1784.9 320.3L1783.9 319.7L1782.9 320.1L1781.9 319.4L1780.9 319.1L1779.9 318.8L1778.9 318.7L1777.9 318.1L1776.9 317.7L1775.9 317.6L1774.9 316.8L1773.9 316.5L1772.9 315.9L1771.9 315.7L1770.9 314.8L1769.9 314.3L1768.9 313.9L1767.9 313.6L1766.9 312.8L1765.9 312.6L1764.9 312.1L1763.9 311.7L1762.9 311.4L1761.9 311L1760.9 310.4L1759.9 310.8L1758.9 309.8L1757.9 309.3L1756.9 309.2L1755.9 308.8L1754.9 309L1753.9 308.6L1752.9 309L1751.9 309L1750.9 309.9L1749.9 309.8L1748.9 310.8L1747.9 311.1L1746.9 311.8L1745.9 312.3L1744.9 313.1L1743.9 313.6L1742.9 314.3L1741.9 315L1740.9 315.8L1739.9 316.5L1738.9 317.4L1737.9 318.2L1736.9 319.3L1735.9 320.2L1734.9 321L1733.9 322.2L1732.9 322.9L1731.9 324.1L1730.9 324.7L1729.9 325.5L1728.9 326.7L1727.9 327.5L1726.9 328.8L1725.9 329.6L1724.9 330.7L1723.9 331.2L1722.9 331.1L1721.9 331.2L1720.9 331.3L1719.9 331.1L1718.9 331.1L1717.9 331.2L1716.9 331.2L1715.9 331.2L1714.9 331.1L1713.9 331.1L1712.9 331.1L1711.9 331.6L1710.9 331.3L1709.9 331.1L1708.9 331.2L1707.9 331.1L1706.9 331.3L1705.9 331.1L1704.9 331.1L1703.9 331.3L1702.9 331.3L1701.9 331.2L1700.9 331.2L1699.9 331.3L1698.9 331.5L1697.9 331.3L1696.9 331.4L1695.9 331.3L1694.9 331.4L1693.9 331.1L1692.9 331.3L1691.9 331.2L1690.9 331.1L1689.9 331.3L1688.9 331.1L1687.9 331.2L1686.9 331.1L1685.9 331.5L1684.9 331.1L1683.9 331.4L1682.9 331.2L1681.9 331.3L1680.9 331.1L1679.9 331.2L1678.9 331.2L1677.9 331.1L1676.9 331.6L1675.9 331.2L1674.9 331.1L1673.9 331.6L1672.9 331.1L1671.9 331.1L1670.9 331.5L1669.9 331.3L1668.9 342.6L1667.9 342.6L1666.9 342.6L1665.9 342.8L1664.9 331.1L1664.6 215.2L1663.6 215.2L1662.6 214.9L1661.6 214.7L1660.6 214.7L1659.6 215.2L1658.6 214.9L1657.6 214.7L1656.6 214.9L1655.6 214.7L1654.6 214.7L1653.6 214.6L1652.6 214.6L1651.6 214.6L1650.6 214.5L1649.6 214.5L1648.6 214.6L1647.6 214.5L1646.6 214.7L1645.6 214.7L1644.6 214.7L1643.6 214.6L1642.6 215L1641.6 214.7L1640.6 214.6L1639.6 214.6L1638.6 214.8L1637.6 214.7L1636.6 214.7L1635.6 215L1634.6 214.8L1633.6 215.1L1632.6 214.7L1631.6 214.8L1630.6 214.6L1629.6 214.5L1628.6 214.8L1627.6 214.9L1626.6 214.5L1625.6 214.6L1624.6 214.9L1623.6 214.7L1622.6 214.6L1621.6 214.6L1620.6 214.6L1619.6 214.6L1618.6 214.6L1617.6 214.8L1616.6 214.7L1615.6 214.6L1614.6 214.6L1613.6 214.7L1612.6 214.6L1611.6 214.9L1610.6 214.7L1609.6 214.8L1608.6 215L1607.6 214.5L1606.6 214.6L1605.6 214.8L1604.6 214.7L1603.6 214.8L1602.6 214.6L1601.6 214.5L1600.6 214.8L1599.6 214.8L1598.6 214.7L1597.6 214.6L1596.6 214.7L1595.6 214.7L1594.6 214.7L1593.6 214.9L1592.6 214.6L1591.6 214.8L1590.6 214.7L1589.6 214.7L1588.6 215.2L1587.6 214.7L1586.6 214.5L1585.6 214.8L1584.6 214.5L1583.6 214.7L1582.6 214.5L1582 311.7L1581 311.4L1580 311.2L1579 311.4L1578 311.3L1577 310.8L1576 310.6L1575 310.4L1574 310.4L1573 310.4L1572 310.3L1571 310L1570 309.7L1569 309.9L1568 309.7L1567 309.5L1566 309.5L1565 309.6L1564 309.2L1563 309.4L1562 309.1L1561 308.8L1560 308.9L1559 308.7L1558 308.6L1557 308.7L1556 308.6L1555 308.4L1554 308.3L1553 308.4L1552 308.4L1551 308.7L1550 308.3L1549 308.4L1548 308.2L1547 308.5L1546 308.7L1545 308.5L1544 308.4L1543 308.3L1542 308.5L1541 308.6L1540 308.4L1539 308.5L1538 308.8L1537 308.9L1536 308.9L1535 308.8L1534 309L1533 309.2L1532 309.1L1531 309.3L1530 309.3L1529 309.5L1528 309.6L1527 309.7L1526 310.4L1525 310L1524 310L1523 310.2L1522 310.4L1521 310.6L1520 310.6L1519 311L1518 310.9L1517 311.2L1516 311.3L1515 311.2L1514 311.5L1513 312.1L1512 311.8L1511 312.1L1510 312.1L1509 312.2L1508 312.5L1507 312.5L1506 312.7L1505 312.8L1504 313.2L1503 313.1L1502 313.1L1501 313.3L1500 313.5L1499 313.8L1498 313.9L1497 314L1496 314L1495 314.2L1494 314.1L1493 314.5L1492 314.3L1491 314.4L1490 314.4L1489 315L1488 314.8L1487 314.7L1486 314.7L1485 314.8L1484 314.8L1483 315.2L1482 314.8L1481 314.8L1480 315.1L1479 315L1478 315L1477 314.8L1476 314.8L1475 314.7L1474 315L1473 314.7L1472 314.6L1471 314.5L1470 314.5L1469 314.6L1468 314.3L1467 314.2L1466 314.4L1465 314.2L1464 314L1463 313.9L1462 313.9L1461 313.7L1460 313.8L1459 313.7L1458 313.6L1457 313.3L1456 313.2L1455 312.9L1454 312.8L1453 312.9L1452 312.6L1451 312.5L1450 312.2L1449 312.4L1448 312.3L1447 312L1446 312L1445 311.5L1444 311.4L1443 311.4L1442 311L1441 310.9L1440 311L1439 310.7L1438 310.7L1437 310.4L1436 310.3L1435 310.2L1434 309.9L1433 310.2L1432 309.9L1431 309.7L1430 309.6L1429 309.5L1428 309.9L1427 309.1L1426 309L1425 309.2L1424 309.1L1423 308.7L1422 309.2L1421 308.6L1420 308.7L1419 308.5L1418 308.4L1417 308.7L1416 308.3L1415 308.6L1414 308.6L1413 308.2L1412 308.3L1411 308.3L1410 308.2L1409 308.2L1408 308.3L1407 308.5L1406 308.4L1405 308.4L1404 308.5L1403 308.6L1402 308.4L1401 308.6L1400 308.7L1399 308.6L1398 309L1397 308.8L1396 309L1395 309.2L1394 309.3L1393 309.2L1392 309.5L1391 309.5L1390 309.6L1389 309.7L1388 310L1387 309.9L1386 310.1L1385 310.3L1384 310.6L1383 310.8L1382 310.7L1381 310.9L1380 311L1379 311.5L1378 311.6L1377 311.4L1376 311.6L1375 311.8L1374 311.9L1373 312.2L1372 312.1L1371 312.3L1370 312.9L1369 312.6L1368 312.9L1367 313.2L1366 313.3L1365 313.1L1364 313.7L1363 313.4L1362 313.5L1361 313.5L1360 314.2L1359 314L1358 314.3L1357 314.1L1356 314.2L1355 314.5L1354 314.3L1353 314.8L1352 314.6L1351 314.5L1350 314.8L1349 314.6L1348 314.9L1347 315.1L1346 314.7L1345 315L1344 314.7L1343 314.9L1342 314.8L1341 314.9L1340 314.9L1339 314.8L1338 314.7L1337 314.7L1336 314.7L1335 314.8L1334 314.6L1333 314.6L1332 314.4L1331 314.3L1330 314.2L1329 314.4L1328 314.2L1327 314L1326 314L1325 314L1324 314.1L1323 313.7L1322 313.5L1321 313.5L1320 313.5L1319 313.4L1318 313L1317 313L1316 312.9L1315 312.7L1314 312.6L1313 312.5L1312 312.2L1311 312.1L1310 312.1L1309 311.9L1308 312L1307 311.8L1306 311.2L1305 311.3L1304 311.1L1303 311.2L1302 310.6L1301 310.5L1300 310.8L1299 310.3L1298 310.6L1297 310.1L1296 309.8L1295 309.7L1294 309.6L1293 309.5L1292 309.3L1291 309.5L1290 309.5L1289 309.2L1288 309.2L1287 308.9L1286 308.9L1285 309.1L1284 308.7L1283 308.5L1282 308.8L1281 308.4L1280 308.5L1279 308.3L1278 308.3L1277 308.4L1276 308.2L1275 308.5L1274 308.3L1273 308.2L1272 308.8L1271 308.3L1270 308.3L1269 308.3L1268 308.9L1267 308.4L1266 308.5L1265 308.4L1264 308.5L1263 308.5L1262 308.8L1261 308.8L1260 308.7L1259 309L1258 308.9L1257 309.2L1256 309.2L1255 309.3L1254 309.4L1253 309.5L1252 309.8L1251 310L1250 310L1249 310.1L1248 310.3L1247 310.7L1246 310.5L1245 310.7L1244 310.9L1243 311L1242 311.3L1241 311.2L1240 313L1239 313.1L1238 313.3L1237 313.3L1236 313.3L1235 313.4L1234 313.4L1233 313.7L1232 313.6L1231 313.7L1230 313.7L1229 313.7L1228 313.9L1227 313.9L1226 314.2L1225 314.2L1224 314.4L1223 314.5L1222 314.5L1221 314.3L1220 314.5L1219 314.7L1218 314.5L1217 314.4L1216 314.6L1215 314.6L1214 314.7L1213 314.6L1212 314.7L1211 315.4L1210 314.8L1209 314.8L1208 314.9L1207 315.4L1206 314.9L1205 314.9L1204 315L1203 314.7L1202 315L1201 314.9L1200 314.7L1199 314.7L1198 314.7L1197 314.9L1196 314.9L1195 314.5L1194 314.6L1193 314.5L1192 315L1191 314.4L1190 314.4L1189 314.5L1188 314.6L1187 314.2L1186 314.2L1185 314.5L1184 314.2L1183 314.1L1182 313.9L1181 314L1180 313.8L1179 313.7L1178 313.6L1177 313.6L1176 313.7L1175 313.4L1174 313.6L1173 313.4L1172 313.3L1171 313.2L1170 313L1169 313L1168 312.9L1167 312.8L1166 313L1165 312.7L1164 313L1163 312.5L1162 313.3L1161 312.5L1160 312.3L1159 312.2L1158 312.2L1157 312.3L1156 312.1L1155 312.1L1154 311.9L1153 312.1L1152 312L1151 311.9L1150 311.8L1149 311.9L1148 311.9L1147 311.9L1146 311.6L1145 311.7L1144 311.6L1143 311.6L1142 311.5L1141 311.5L1140 311.5L1139 311.8L1138 311.7L1137 311.5L1136 311.5L1135 311.5L1134 311.5L1133 311.4L1132 311.4L1131 311.5L1130 311.4L1129 311.7L1128 311.5L1127 311.6L1126 311.8L1125 311.6L1124 311.6L1123 311.9L1122 311.9L1121 311.8L1120 311.8L1119 312L1118 312.2L1117 312.1L1116 312.5L1115 312.4L1114 312.4L1113 312.6L1112 312.5L1111 312.4L1110 312.4L1109 312.6L1108 312.6L1107 312.9L1106 312.9L1105 313.1L1104 313L1103 313.1L1102 313L1101 313.4L1100 313.5L1099 313.4L1098 313.5L1097 313.5L1096 313.6L1095 313.6L1094 314.1L1093 313.9L1092 313.9L1091 314L1090 314.1L1089 314.4L1088 314.1L1087 314.2L1086 314.1L1085 314.2L1084 314.7L1083 314.3L1082 314.5L1081 314.6L1080 314.5L1079 314.6L1078 314.5L1077 314.8L1076 314.8L1075 314.8L1074 315.1L1073 315L1072 315.1L1071 314.8L1070 314.7L1069 314.7L1068 314.9L1067 314.7L1066 314.8L1065 314.7L1064 314.7L1063 315.1L1062 315.1L1061 314.8L1060 314.6L1059 314.6L1058 314.8L1057 314.5L1056 314.7L1055 314.7L1054 315L1053 314.4L1052 314.6L1051 314.6L1050 314.5L1049 314.4L1048 314.3L1047 314.2L1046 314L1045 314L1044 314.2L1043 313.8L1042 313.8L1041 313.6L1040 313.7L1039 313.6L1038 313.8L1037 313.7L1036 313.6L1035 313.2L1034 313.2L1033 313.5L1032 313L1031 313.1L1030 312.9L1029 313.1L1028 312.7L1027 312.6L1026 312.6L1025 312.7L1024 312.6L1023 312.5L1022 312.3L1021 312.2L1020 312.4L1019 312.4L1018 312.1L1017 312.1L1016 311.9L1015 312.3L1014 312L1013 311.8L1012 311.7L1011 311.9L1010 312.1L1009 312L1008 311.6L1007 311.7L1006 311.6L1005 311.8L1004 311.5L1003 311.5L1002 311.5L1001 311.5L1000 311.7L999 311.6L998 311.4L997 311.5L996 311.5L995 311.6L994 311.6L993 311.7L992 311.5L991 311.7L990 311.9L989 311.8L988 311.9L987 311.7L986 311.7L985 311.7L984 311.7L983 311.9L982 312.4L981 312.1L980 312.3L979 312L978 312.7L977 312.3L976 312.5L975 312.3L974 312.3L973 312.6L972 312.8L971 312.6L970 312.7L969 312.9L968 312.8L967 313L966 313L965 313L964 313.2L963 313.1L962 313.4L961 313.5L960 313.7L959 313.7L958 313.7L957 313.5L956 313.6L955 313.8L954 313.9L953 314.1L952 313.9L951 314.3L950 314.2L949 314.1L948 314.2L947 314.7L946 314.3L945 314.3L944 314.9L943 314.6L942 314.9L941 314.8L940 314.6L939 314.7L938 315L937 314.7L936 314.9L935 314.7L934 314.9L933 315.1L932 314.9L931 314.9L930 314.7L929 314.8L928 315L927 315L926 315.1L925 315L924 314.8L923 314.7L922 314.6L921 314.5L920 314.9L919 314.5L918 314.7L917 314.6L916 314.4L915 314.3L914 314.4L913 314.5L912 314.3L911 314.2L910 314.4L909 314L908 314.1L907 314.3L906 313.8L905 314.1L904 313.7L903 313.7L902 313.7L901 313.6L900 313.8L899 313.4L898 313.3L897 313.2L896 313.2L895 313.2L894 312.9L893 313L892 312.8L891 313.2L890 312.7L889 312.6L888 312.6L887 313L886 312.5L885 312.3L884 312.5L883 312.4L882 312.4L881 312.2L880 312.3L879 312L878 311.8L877 311.8L876 311.9L875 312L874 311.7L873 312L872 311.8L871 311.8L870 311.9L869 311.5L868 311.7L867 311.7L866 311.7L865 311.4L864 311.5L863 311.5L862 311.4L861 311.8L860 311.5L859 311.6L858 311.7L857 311.5L856 311.5L855 311.6L854 311.7L853 311.5L852 311.6L851 311.6L850 311.8L849 311.9L848 311.7L847 311.9L846 312.3L845 311.8L844 312.5L843 311.9L842 312L841 312.3L840 312.1L839 312.3L838 312.5L837 312.7L836 312.5L835 312.6L834 312.5L833 312.8L832 312.8L831 313.1L830 313L829 312.9L828 313L827 313.2L826 313.2L825 313.2L824 313.4L823 313.5L822 313.7L821 313.8L820 313.5L819 314L818 313.8L817 313.9L816 314.1L815 314L814 314.3L813 314.4L812 314.2L811 314.4L810 314.5L809 314.5L808 314.3L807 314.4L806 314.5L805 314.8L804 314.5L803 314.6L802 314.5L801 314.6L800 314.7L799 314.8L798 314.6L797 314.9L796 314.8L795 314.8L794 314.7L793 315.1L792 315L791 314.8L790 314.8L789 314.7L788 314.8L787 314.7L786 314.6L785 314.6L784 314.9L783 314.6L782 314.7L781 314.7L780 314.6L779 314.4L778 314.4L777 314.7L776 314.5L775 314.3L774 314.3L773 314.6L772 314L771 314.3L770 313.9L769 313.9L768 313.7L767 313.7L766 314.1L765 313.5L764 313.6L763 313.7L762 313.8L761 313.4L760 313.2L759 313.2L758 313L757 313L756 313.1L755 312.9L754 312.8L753 312.7L752 312.6L751 312.8L750 312.4L749 312.4L748 312.3L747 312.3L746 312.3L745 312.2L744 312.4L743 312.2L742 312L741 312.2L740 312.1L739 311.9L738 311.8L737 311.8L736 312.2L735 311.7L734 311.6L733 311.8L732 311.6L731 311.6L730 311.6L729 311.9L728 311.6L727 311.5L726 311.7L725 311.6L724 311.5L723 311.9L722 311.5L721 311.6L720 311.8L719 311.5L718 312L717 311.6L716 311.6L715 311.8L714 311.6L713 312.1L712 311.8L711 312L710 311.8L709 311.9L708 312L707 312.1L706 312.2L705 312.3L704 312.4L703 312.2L702 312.5L701 312.4L700 312.7L699 312.8L698 312.6L697 313L696 313L695 313.1L694 312.9L693 313.2L692 313.1L691 313.4L690 313.6L689 313.5L688 313.5L687 313.6L686 313.9L685 313.8L684 313.8L683 314L682 314.1L681 314.5L680 314.3L679 314.5L678 314.3L677 314.4L676 314.6L675 314.7L674 314.9L673 315L672 315.1L671 315.1L670 315.2L669 315.1L668 315.7L667 315.2L666 315.4L665 315.8L664 315.5L663 315.7L662 315.9L661 315.8L660 316L659 315.9L658 316.2L657 316L656 316.1L655 316.3L654 316.6L653 316.6L652 316.3L651 316.5L650 316.7L649 316.8L648 316.7L647 317.2L646.2 317.4L645.2 317.5L644.2 317.4L643.2 317.5L642.5 214.7L641.5 214.7L640.5 214.7L639.5 214.5L638.5 214.6L637.5 214.7L636.5 214.6L635.5 215L634.5 214.6L633.5 214.5L632.5 214.6L631.5 214.9L630.5 215L629.5 214.6L628.5 214.7L627.5 214.8L626.5 214.5L625.5 214.6L624.5 214.8L623.5 214.7L622.5 214.7L621.5 214.6L620.5 214.8L619.5 215.2L618.5 214.8L617.5 214.5L616.5 214.7L615.5 214.6L614.5 214.7L613.5 214.5L612.5 214.7L611.5 214.5L610.5 214.6L609.5 214.9L608.5 214.8L607.5 214.5L606.5 214.9L605.5 214.9L604.5 214.6L603.5 214.6L602.5 214.6L601.5 214.9L600.5 214.6L599.5 214.6L598.5 214.6L597.5 214.8L596.5 214.5L595.5 214.7L594.5 214.5L593.5 214.6L592.5 214.5L591.5 214.7L590.5 215L589.5 214.7L588.5 214.6L587.5 214.8L586.5 214.7L585.5 214.7L584.5 214.9L583.5 214.6L582.5 214.9L581.5 214.6L580.5 214.6L579.5 214.7L578.5 214.9L577.5 214.6L576.5 215L575.5 214.7L574.5 214.6L573.5 214.7L572.5 214.6L571.5 214.7L570.5 214.9L569.5 214.9L568.5 214.7L567.5 214.7L566.5 214.6L565.5 214.7L564.5 215L563.5 214.9L562.5 214.6L561.5 214.5L560.5 214.7L559.9 312.8L558.9 312.6L557.9 312.7L556.9 312.6L555.9 312.6L554.9 312.7L553.9 312.6L552.9 312.6L551.9 312.7L550.9 312.7L549.9 312.9L548.9 312.9L547.9 312.7L546.9 312.6L545.9 312.6L544.9 312.8L543.9 312.6L542.9 312.9L541.9 312.6L540.9 312.5L539.9 313L538.9 313.1L537.9 312.8L536.9 312.6L535.9 312.7L534.9 312.7L533.9 312.6L532.9 312.5L531.9 312.8L530.9 312.6L529.9 312.7L528.9 312.7L527.9 312.6L526.9 312.7L525.9 312.7L524.9 312.8L523.9 312.6L522.9 312.8L521.9 312.6L520.9 312.6L519.9 312.6L518.9 312.8L517.9 312.9L516.9 312.7L515.9 312.6L514.9 312.7L513.9 312.9L512.9 312.8L511.9 312.7L510.9 312.6L509.9 312.6L508.9 312.8L507.9 312.9L506.9 312.5L505.9 312.9L504.9 312.6L503.9 312.5L502.9 312.6L501.9 313L500.9 312.7L499.9 312.5L498.9 312.7L497.9 312.7L496.9 312.6L495.9 312.6L494.9 312.8L493.9 312.9L492.9 312.7L491.9 312.7L490.9 312.6L489.9 313.2L488.9 312.7L487.9 312.5L486.9 312.7L485.9 312.6L484.9 312.7L483.9 312.6L482.9 313.1L481.9 312.7L480.9 312.7L479.9 312.6L478.9 312.9L477.9 312.6L476.9 312.5L475.9 312.7L474.9 312.9L473.9 312.8L472.9 312.6L471.9 312.6L470.9 312.6L469.9 312.8L468.9 312.7L467.9 312.7L466.9 312.5L465.9 312.7L464.9 312.8L463.9 312.5L462.9 312.6L461.9 312.6L460.9 312.7L459.9 312.8L458.9 312.6L457.9 312.5L456.9 312.9L455.9 313L454.9 312.6L453.9 312.6L452.9 312.8L451.9 312.7L450.9 312.8L449.9 312.9L448.9 312.6L447.9 313.2L446.9 312.6L445.9 312.8L444.9 312.9L443.9 312.6L442.9 312.8L441.9 312.8L440.9 312.7L439.9 312.9L438.9 312.6L437.9 312.6L436.9 312.7L435.9 312.6L434.9 312.7L433.9 312.6L432.9 312.6L431.9 312.6L430.9 312.6L429.9 312.9L428.9 312.7L427.9 312.6L426.9 312.6L425.9 312.6L424.9 312.6L423.9 312.8L422.9 312.5L421.9 312.7L420.9 312.6L419.9 312.8L418.9 312.6L417.9 312.6L416.9 312.6L415.9 312.6L414.9 312.5L413.9 313L412.9 312.6L411.9 312.7L410.9 312.9L409.9 312.5L408.9 312.9L407.9 312.5L406.9 312.6L405.9 312.7L404.9 312.6L403.9 312.8L402.9 312.7L401.9 312.6L400.9 312.6L399.9 312.5L398.9 312.7L397.9 312.8L396.9 312.5L395.9 312.7L394.9 312.7L393.9 312.5L392.9 312.7L391.9 312.6L390.9 313L389.9 312.8L388.9 312.5L387.9 312.5L386.9 312.8L385.9 312.5L384.9 312.5L383.9 312.5L382.9 312.6L381.9 313L380.9 312.7L379.9 312.6L378.9 312.7L377.9 312.9L376.9 312.8L375.9 312.9L374.9 312.6L373.9 312.8L372.9 312.8L371.9 312.8L370.9 312.7L369.9 313.2L368.9 312.9L367.9 312.6L366.9 312.9L365.9 312.8L364.9 312.7L363.9 312.7L362.9 312.9L361.9 312.8L360.9 312.9L359.9 312.8L358.9 313L357.9 312.5L356.9 312.6L355.9 312.5L354.9 312.6L353.9 312.6L352.9 313L351.9 313L350.9 312.8L349.9 312.8L348.9 312.6L347.9 312.7L346.9 312.7L345.9 312.7L344.9 312.7L343.9 312.6L342.9 312.8L341.9 312.7L340.9 312.8L339.9 312.9L338.9 312.8L337.9 312.5L336.9 313L335.9 312.8L334.9 312.7L333.9 313L332.9 312.5L331.9 312.7L330.9 312.8L329.9 312.5L328.9 312.5L327.9 312.8L326.9 312.5L325.9 312.7L324.9 312.6L323.9 312.7L322.9 312.7L321.9 312.6L320.9 312.6L319.9 312.7L318.9 312.9L317.9 312.7L316.9 312.7L315.9 312.8L314.9 312.7L313.9 312.5L312.9 312.9L311.9 312.7L310.9 312.5L309.9 312.8L308.9 312.8L307.9 312.6L306.9 312.7L305.9 312.7L304.9 312.5L303.9 312.6L302.9 312.6L301.9 312.8L300.9 312.6L299.9 312.8L298.9 312.8L297.9 312.8L296.9 312.6L295.9 312.9L294.9 312.6L293.9 312.7L292.9 312.9L291.9 312.6L290.9 313.2L289.9 312.8L288.9 312.6L287.9 312.6L286.9 312.9L285.9 312.7L284.9 312.9L283.9 313L282.9 312.6L281.9 312.7L280.9 312.8L279.9 312.8L278.9 312.6L277.9 312.8L276.9 312.6L275.9 312.6L274.9 312.6L273.9 312.7L272.9 313L271.9 312.8L270.9 312.6L269.9 312.6L268.9 312.7L267.9 312.9L266.9 312.8L265.9 312.6L264.9 312.6L263.9 312.6L262.9 312.6L261.9 312.6L260.9 312.8L259.9 312.8L258.9 312.8L257.9 312.8L256.9 312.5L255.9 312.8L254.9 312.6L253.9 312.5L252.9 312.8L251.9 312.7L250.9 312.6L249.9 313.1L248.9 312.7L247.9 312.7L246.9 312.6L245.9 312.9L244.9 312.6L243.9 312.7L242.9 312.7L241.9 312.9L240.9 313L239.9 312.6L238.9 312.9L237.9 312.5L236.9 312.7L235.9 313L234.9 312.6L233.9 312.5L232.9 312.6L231.9 312.5L230.9 312.6L229.9 312.6L228.9 312.6L227.9 312.6L226.9 312.6L225.9 312.6L224.9 312.7L223.9 312.8L222.9 312.8L221.9 312.9L220.9 312.5L219.9 312.9L218.9 312.7L217.9 312.6Z" fill="#D95319" stroke="#D95319" stroke-width="0.6" stroke-linejoin="round"/>
<line x1="381.4" y1="273" x2="381.4" y2="313.5" stroke="#fff" stroke-width="0.8" stroke-opacity="0.85"/>
<line x1="759.4" y1="268" x2="759.4" y2="314" stroke="#fff" stroke-width="0.8" stroke-opacity="0.85"/>
</g>
<path class="ax" d="M177.6 61H2302.5V356.2H177.6ZM218 61V37.8M218 356.2V379.4M558.76 61V37.8M558.76 356.2V379.4M899.52 61V37.8M899.52 356.2V379.4M1240.28 61V37.8M1240.28 356.2V379.4M1581.04 61V37.8M1581.04 356.2V379.4M1921.8 61V37.8M1921.8 356.2V379.4M2262.56 61V37.8M2262.56 356.2V379.4M177.6 83H154.4M2302.5 83H2325.7M177.6 204.2H154.4M2302.5 204.2H2325.7M177.6 325.6H154.4M2302.5 325.6H2325.7"/>
<text class="tk" text-anchor="end" transform="translate(134.8 103) scale(1 1.04)">0.5</text>
<text class="tk" text-anchor="end" transform="translate(134.8 224.2) scale(1 1.04)">0</text>
<text class="tk" text-anchor="end" transform="translate(134.8 345.6) scale(1 1.04)">-0.5</text>
<text class="tk" text-anchor="middle" transform="translate(218 449.6) scale(1 1.04)">0</text>
<text class="tk" text-anchor="middle" transform="translate(558.76 449.6) scale(1 1.04)">2</text>
<text class="tk" text-anchor="middle" transform="translate(899.52 449.6) scale(1 1.04)">4</text>
<text class="tk" text-anchor="middle" transform="translate(1240.28 449.6) scale(1 1.04)">6</text>
<text class="tk" text-anchor="middle" transform="translate(1581.04 449.6) scale(1 1.04)">8</text>
<text class="tk" text-anchor="middle" transform="translate(1921.8 449.6) scale(1 1.04)">10</text>
<text class="tk" text-anchor="middle" transform="translate(2262.56 449.6) scale(1 1.04)">12</text>
</g>
<g id="plot2">
<path class="gr" d="M218 470.7V754.6M558.76 470.7V754.6M899.52 470.7V754.6M1240.28 470.7V754.6M1581.04 470.7V754.6M1921.8 470.7V754.6M2262.56 470.7V754.6M177.6 490.6H2302.5M177.6 610.2H2302.5M177.6 729.8H2302.5"/>
<clipPath id="cp2"><rect x="177.6" y="470.7" width="2087.36" height="283.9"/></clipPath>
<g clip-path="url(#cp2)">
<path d="M217.9 500.7L218.9 500.9L219.9 500.8L220.9 503.2L221.9 503.3L222.9 503L223.9 503L224.9 503.2L225.9 503.3L226.9 503.2L227.9 503.2L228.9 503.1L229.9 503.3L230.9 503.2L231.9 503.3L232.9 503L233.9 503.1L234.9 503.2L235.9 503.4L236.9 503.2L237.9 503.3L238.9 503.2L239.9 503.2L240.9 503.3L241.9 503.2L242.9 503.4L243.9 503L244.9 503L245.9 503.4L246.9 503.1L247.9 503.3L248.9 503.2L249.9 502.9L250.9 503.3L251.9 503L252.9 503L253.9 503.2L254.9 503.3L255.9 503.4L256.9 503.4L257.9 503.3L258.9 503L259.9 502.9L260.9 503.4L261.9 503.2L262.9 503.1L263.9 503.3L264.9 503.3L265.9 503.3L266.9 503.2L267.9 503.1L268.9 503.3L269.9 503.4L270.9 503L271.9 503.3L272.9 503.2L273.9 503.3L274.9 503.1L275.9 502.9L276.9 502.9L277.9 503.1L278.9 503.3L279.9 503.4L280.9 503.4L281.9 503.4L282.9 503.2L283.9 503.3L284.9 503.1L285.9 503.1L286.9 502.9L287.9 502.8L288.9 503.4L289.9 503L290.9 503.3L291.9 503.2L292.9 503.4L293.9 503.2L294.9 503.1L295.9 503.2L296.9 503.2L297.9 503.3L298.9 503.1L299.9 503L300.9 503.3L301.9 503L302.9 503.3L303.9 503L304.9 503.2L305.9 503.3L306.9 502.8L307.9 503.1L308.9 503.2L309.9 503.3L310.9 503.4L311.9 503.4L312.9 503L313.9 503.2L314.9 503.3L315.9 503L316.9 503.3L317.9 503.3L318.9 503.3L319.9 503.1L320.9 503.3L321.9 503.1L322.9 503.4L323.9 503.2L324.9 503.3L325.9 503.3L326.9 503L327.9 503.2L328.9 503.4L329.9 503.2L330.9 502.9L331.9 503L332.9 502.9L333.9 503.2L334.9 503.1L335.9 503.3L336.9 503.4L337.9 503.4L338.9 503.2L339.9 503.3L340.9 503.3L341.9 503.4L342.9 502.9L343.9 503.3L344.9 503.1L345.9 503.3L346.9 503.4L347.9 503.2L348.9 503.3L349.9 503.1L350.9 503.3L351.9 503.1L352.9 502.6L353.9 503.3L354.9 502.9L355.9 502.9L356.9 503.2L357.9 503.2L358.9 502.9L359.9 503.2L360.9 503.3L361.9 503.2L362.9 503.2L363.9 503L364.9 503.1L365.9 503L366.9 503.1L367.9 503.2L368.9 503.1L369.9 503.1L370.9 503.2L371.9 503.3L372.9 503.3L373.9 503.2L374.9 503.2L375.9 503.1L376.9 503.3L377.9 503.4L378.9 503.2L379.9 503.3L380.9 502.9L381.9 503.3L382.9 503.4L383.9 503.1L384.9 503.2L385.9 503.2L386.9 503.1L387.9 503.3L388.9 503.3L389.9 503.4L390.9 503.4L391.9 503.1L392.9 503.2L393.9 503L394.9 503.4L395.9 503.4L396.9 503.2L397.9 503.3L398.9 503.2L399.9 503.3L400.9 502.9L401.9 503.4L402.9 503.2L403.9 503.3L404.9 503.1L405.9 503.3L406.9 503.1L407.9 503.1L408.9 503.2L409.9 503.3L410.9 503.3L411.9 503.1L412.9 503.4L413.9 503L414.9 503.3L415.9 503.3L416.9 503.3L417.9 503.4L418.9 503.3L419.9 503.2L420.9 503.4L421.9 503.3L422.9 503.2L423.9 503.4L424.9 503.3L425.9 503.3L426.9 503.3L427.9 503.3L428.9 503.1L429.9 503.2L430.9 503.3L431.9 503.1L432.9 503.4L433.9 503.4L434.9 503.1L435.9 503.3L436.9 503.3L437.9 503.2L438.9 503.3L439.9 503.3L440.9 503L441.9 503L442.9 503.3L443.9 503.3L444.9 503.1L445.9 503.3L446.9 503.4L447.9 503.4L448.9 503.3L449.9 503.4L450.9 503.3L451.9 503.3L452.9 503.1L453.9 503.3L454.9 503L455.9 503.1L456.9 503L457.9 503.2L458.9 503.3L459.9 503.3L460.9 503.2L461.9 503.3L462.9 503.2L463.9 503L464.9 503L465.9 503.2L466.9 503.1L467.9 503.1L468.9 503.1L469.9 503.1L470.9 503.3L471.9 503.4L472.9 503.2L473.9 503.4L474.9 503.2L475.9 503.4L476.9 503.2L477.9 503.1L478.9 503.3L479.9 503.3L480.9 503.4L481.9 503.3L482.9 503.1L483.9 503.3L484.9 503.4L485.9 503.2L486.9 502.9L487.9 503.1L488.9 503.2L489.9 503.3L490.9 502.9L491.9 503.2L492.9 503L493.9 503.1L494.9 503.4L495.9 503.3L496.9 503.1L497.9 503.2L498.9 503.1L499.9 503.3L500.9 503.3L501.9 503.1L502.9 503.3L503.9 503.2L504.9 503L505.9 503.2L506.9 503.4L507.9 503.2L508.9 503.2L509.9 503L510.9 503.4L511.9 503.1L512.9 503.4L513.9 503.2L514.9 503.1L515.9 503.3L516.9 503.2L517.9 503.4L518.9 503.1L519.9 503.4L520.9 503.3L521.9 503.3L522.9 502.9L523.9 503.3L524.9 503.3L525.9 503.3L526.9 503.1L527.9 503.1L528.9 503.3L529.9 503.2L530.9 503.4L531.9 503.3L532.9 503.2L533.9 503.2L534.9 503.4L535.9 503.1L536.9 503L537.9 503.3L538.9 503.4L539.9 503L540.9 503.2L541.9 503.4L542.9 503L543.9 503.2L544.9 503.2L545.9 502.9L546.9 503.4L547.9 503.3L548.9 503.3L549.9 503.3L550.9 503.3L551.9 503L552.9 503L553.9 503.4L554.9 503.1L555.9 502.9L556.9 503.2L557.9 503.1L558.9 502.9L559.9 503.1L560.5 599.9L561.5 599.8L562.5 600L563.5 599.8L564.5 599.9L565.5 599.9L566.5 599.5L567.5 599.5L568.5 600L569.5 599.8L570.5 599.7L571.5 600L572.5 599.5L573.5 599.7L574.5 599.8L575.5 599.7L576.5 599.7L577.5 599.8L578.5 599.9L579.5 600L580.5 599.8L581.5 599.9L582.5 599.9L583.5 600L584.5 599.6L585.5 599.9L586.5 599.4L587.5 599.9L588.5 600L589.5 599.9L590.5 600L591.5 599.8L592.5 599.7L593.5 599.9L594.5 599.9L595.5 600L596.5 599.7L597.5 599.7L598.5 599.4L599.5 599.8L600.5 599.9L601.5 599.9L602.5 599.9L603.5 600L604.5 599.9L605.5 599.5L606.5 600L607.5 600L608.5 599.8L609.5 599.8L610.5 599.9L611.5 599.9L612.5 600L613.5 599.9L614.5 599.9L615.5 599.6L616.5 599.9L617.5 600L618.5 599.8L619.5 600L620.5 599.9L621.5 599.8L622.5 599.6L623.5 599.9L624.5 599.7L625.5 600L626.5 599.8L627.5 599.8L628.5 599.7L629.5 599.4L630.5 600L631.5 600L632.5 600L633.5 599.2L634.5 599.7L635.5 600L636.5 599.9L637.5 599.9L638.5 599.8L639.5 599.7L640.5 599.9L641.5 599.7L642.5 599.6L643.2 483.7L644.2 483.7L645.2 483.5L646.2 483.8L647 499.2L648 499.2L649 499.2L650 499.2L651 499.6L652 499.2L653 499.7L654 499.2L655 499.7L656 499.9L657 500L658 499.7L659 500.1L660 499.9L661 500.3L662 500.2L663 500.3L664 500.4L665 500.3L666 500.4L667 500.7L668 500.7L669 500.8L670 500.9L671 500.8L672 501.1L673 501.1L674 501.1L675 501.4L676 501.4L677 501.4L678 501.5L679 501.6L680 501.6L681 501.7L682 501.9L683 501.7L684 502.1L685 501.9L686 502.3L687 502.2L688 502.5L689 502.3L690 502.5L691 502.7L692 502.8L693 502.8L694 503L695 503.1L696 503.1L697 503.2L698 503.3L699 503.4L700 503.4L701 503.2L702 503.5L703 503.5L704 503.7L705 503.8L706 503.9L707 503.8L708 503.9L709 504L710 503.7L711 504.2L712 503.9L713 503.8L714 504.2L715 504.2L716 504.3L717 504.4L718 504.4L719 504.1L720 504.4L721 504.3L722 504.2L723 504.3L724 504.1L725 504.3L726 504.3L727 504.3L728 504.3L729 504.4L730 504.3L731 503.9L732 504.3L733 504.3L734 504.3L735 504.1L736 504L737 504.1L738 503.9L739 503.8L740 503.8L741 503.9L742 503.8L743 503.9L744 503.5L745 503.7L746 503.5L747 503.6L748 503.4L749 503.4L750 503.5L751 503.4L752 502.9L753 503.1L754 503.1L755 503L756 502.8L757 502.8L758 502.8L759 502.8L760 502.8L761 502.7L762 502.2L763 502.2L764 502.3L765 502.3L766 501.9L767 502.2L768 501.9L769 501.7L770 501.9L771 502L772 501.9L773 501.7L774 501.6L775 501.7L776 501.5L777 501.6L778 501.6L779 501.5L780 501.2L781 501.1L782 500.9L783 501.3L784 501.3L785 501L786 501.2L787 501L788 501.1L789 501.3L790 501L791 501.2L792 501.3L793 501.2L794 500.9L795 501.2L796 501L797 501.2L798 501L799 501.3L800 501.3L801 501.1L802 501.1L803 501.5L804 501.4L805 501.3L806 501.6L807 501.6L808 501.6L809 501.7L810 501.3L811 501.5L812 501.6L813 501.4L814 501.8L815 501.9L816 502L817 502L818 502.2L819 502.1L820 501.9L821 502.3L822 502.1L823 502.4L824 502.5L825 502.5L826 502.7L827 502.8L828 502.6L829 502.8L830 502.9L831 502.8L832 503.1L833 503.1L834 503.1L835 503.5L836 503.4L837 503.3L838 503.6L839 503.8L840 503.8L841 503.7L842 503.7L843 503.8L844 503.9L845 504.1L846 503.7L847 503.8L848 504.2L849 504.3L850 504L851 504.2L852 504.3L853 504.4L854 504.3L855 504.4L856 504.1L857 504.4L858 504L859 504L860 504.2L861 504.2L862 504.5L863 504.3L864 504.2L865 504.3L866 504.3L867 504.3L868 504.4L869 504.3L870 504.1L871 504.1L872 504.2L873 504.1L874 503.9L875 503.8L876 503.8L877 504L878 504L879 504L880 503.7L881 503.8L882 503.6L883 503.7L884 503.2L885 503.6L886 503.3L887 503.5L888 503.3L889 503.3L890 503.1L891 503.2L892 503L893 503.1L894 503L895 502.6L896 502.5L897 502.7L898 502.5L899 502.5L900 502.5L901 502.2L902 502.4L903 502.4L904 502.1L905 502L906 502.1L907 502.1L908 502L909 501.6L910 501.9L911 501.4L912 501.5L913 501.7L914 501.5L915 501.6L916 501.4L917 501.5L918 501.3L919 501.4L920 501.5L921 501.3L922 501.2L923 500.6L924 501.3L925 500.9L926 501.3L927 501.1L928 501.3L929 501L930 500.9L931 501.2L932 501.3L933 500.8L934 501.2L935 501.3L936 501.2L937 501.2L938 500.6L939 501.3L940 501L941 501.3L942 501.4L943 501.5L944 501.6L945 501.4L946 501.6L947 501.6L948 501.5L949 501.7L950 501.8L951 501.8L952 501.9L953 502L954 502.2L955 502.2L956 501.8L957 502.2L958 502.3L959 502.4L960 502.4L961 502.6L962 502.7L963 502.7L964 502.8L965 502.7L966 502.8L967 503.1L968 503.2L969 502.7L970 503.1L971 503.4L972 503.3L973 503.5L974 503.5L975 503.6L976 503.6L977 503.5L978 503.8L979 503.9L980 504L981 503.9L982 504.1L983 503.9L984 504L985 503.8L986 503.9L987 504L988 504.1L989 504L990 504.2L991 504.4L992 504L993 504.2L994 504.3L995 504.5L996 504.5L997 504.3L998 504.4L999 504.4L1000 504.3L1001 504.2L1002 504.2L1003 504.4L1004 504.4L1005 504.2L1006 504.2L1007 504.4L1008 504.3L1009 504L1010 504.2L1011 504.2L1012 503.9L1013 504L1014 503.8L1015 503.8L1016 503.6L1017 503.7L1018 503.8L1019 503.6L1020 503.8L1021 503.6L1022 503.6L1023 503L1024 503L1025 503.2L1026 503.2L1027 503.3L1028 502.9L1029 503.1L1030 503L1031 503L1032 502.9L1033 502.8L1034 502.5L1035 502.7L1036 502.6L1037 502.6L1038 502.4L1039 502.2L1040 502.3L1041 502.3L1042 502.2L1043 502L1044 502L1045 501.8L1046 501.6L1047 501.8L1048 501.7L1049 501.6L1050 501.6L1051 501.4L1052 501.5L1053 501.4L1054 501.3L1055 501.5L1056 501.4L1057 501.1L1058 501.1L1059 500.9L1060 501.3L1061 501.4L1062 501.3L1063 501.1L1064 500.8L1065 501.2L1066 501.2L1067 500.9L1068 501.2L1069 501.1L1070 501.2L1071 501L1072 501.3L1073 501L1074 501.3L1075 501.1L1076 501.3L1077 501.1L1078 501.1L1079 501.5L1080 501.3L1081 501.1L1082 501.6L1083 501.6L1084 501.5L1085 501.6L1086 501.8L1087 501.8L1088 501.8L1089 501.9L1090 501.6L1091 502L1092 502.2L1093 502.2L1094 502.3L1095 502L1096 502.1L1097 502.1L1098 502.4L1099 502.6L1100 502.6L1101 502.6L1102 502.8L1103 502.6L1104 502.6L1105 502.9L1106 503.1L1107 503.3L1108 503.3L1109 503.4L1110 503.4L1111 503.4L1112 503.4L1113 503.6L1114 503.6L1115 503.5L1116 503.9L1117 503.8L1118 503.9L1119 503.5L1120 504L1121 503.8L1122 504L1123 503.9L1124 503.8L1125 504.3L1126 504.3L1127 504.4L1128 504.1L1129 504.2L1130 504.1L1131 504.4L1132 504.3L1133 504.4L1134 504.3L1135 504.4L1136 504.4L1137 504.4L1138 504.1L1139 504.2L1140 504.4L1141 504.4L1142 504.4L1143 504L1144 504.3L1145 504.2L1146 504.3L1147 504L1148 504.3L1149 504.1L1150 504.1L1151 504.2L1152 503.9L1153 504L1154 503.7L1155 503.4L1156 503.6L1157 503.7L1158 503.4L1159 503.5L1160 503.3L1161 503.6L1162 503.3L1163 503.3L1164 503.3L1165 503.3L1166 503.1L1167 502.6L1168 503.1L1169 502.8L1170 502.7L1171 502.7L1172 502.5L1173 502.3L1174 502.4L1175 502.3L1176 502.2L1177 502.4L1178 502.3L1179 501.5L1180 502.1L1181 501.7L1182 501.6L1183 501.9L1184 501.9L1185 501.8L1186 501.4L1187 501.3L1188 501.7L1189 501.5L1190 501.3L1191 501.6L1192 501.1L1193 501.2L1194 501.3L1195 500.8L1196 501.4L1197 501.3L1198 501.3L1199 501.3L1200 500.6L1201 501.3L1202 501.1L1203 501.2L1204 501.2L1205 501.2L1206 501.3L1207 501.1L1208 501.3L1209 501L1210 501.3L1211 501.2L1212 501.3L1213 501.1L1214 501.2L1215 501.2L1216 501.4L1217 501.1L1218 501.2L1219 501.6L1220 501.5L1221 501.6L1222 501.4L1223 501.7L1224 501.8L1225 501.8L1226 502L1227 502L1228 502L1229 502.1L1230 502.1L1231 502.3L1232 502.2L1233 502L1234 502.4L1235 502.3L1236 502.3L1237 502.7L1238 502.8L1239 502.6L1240 502.9L1240.3 505.7L1241.3 505.7L1242.3 505.6L1243.3 505.8L1244.3 506.2L1245.3 506L1246.3 506.1L1247.3 506.2L1248.3 505.9L1249.3 506.4L1250.3 506.7L1251.3 506.5L1252.3 506.8L1253.3 506.6L1254.3 507L1255.3 506.8L1256.3 507.1L1257.3 507.2L1258.3 506.9L1259.3 507.1L1260.3 507.1L1261.3 507.4L1262.3 507.4L1263.3 507.5L1264.3 507.5L1265.3 507.6L1266.3 507.5L1267.3 507.5L1268.3 507.6L1269.3 507.7L1270.3 507.5L1271.3 507.6L1272.3 507.6L1273.3 507.8L1274.3 507.8L1275.3 507.8L1276.3 507.7L1277.3 507.8L1278.3 507.5L1279.3 507.1L1280.3 507.8L1281.3 507.4L1282.3 507.6L1283.3 507.5L1284.3 507.6L1285.3 507.4L1286.3 507.6L1287.3 507.5L1288.3 507.3L1289.3 507.2L1290.3 507.4L1291.3 507.4L1292.3 507.2L1293.3 506.9L1294.3 507.2L1295.3 507.1L1296.3 507.1L1297.3 507L1298.3 506.9L1299.3 506.7L1300.3 506.3L1301.3 506.3L1302.3 506.6L1303.3 506.5L1304.3 506.5L1305.3 506.2L1306.3 506.3L1307.3 506.1L1308.3 505.9L1309.3 506.1L1310.3 505.9L1311.3 505.7L1312.3 505.6L1313.3 505.4L1314.3 505.5L1315.3 505.4L1316.3 505.3L1317.3 505.4L1318.3 505.2L1319.3 505L1320.3 504.9L1321.3 504.8L1322.3 504.9L1323.3 504.7L1324.3 504.6L1325.3 504.7L1326.3 504.7L1327.3 504.3L1328.3 504.1L1329.3 504.3L1330.3 504.3L1331.3 504.1L1332.3 504L1333.4 504.2L1334.4 504.1L1335.4 503.8L1336.4 503.6L1337.4 504.1L1338.4 504L1339.4 503.9L1340.4 503.8L1341.4 503.5L1342.4 503.5L1343.4 503.5L1344.4 503.7L1345.4 503.5L1346.4 503.3L1347.4 503.2L1348.4 503.4L1349.4 503.4L1350.4 503.3L1351.4 503.1L1352.4 503.3L1353.4 502.7L1354.4 503.1L1355.4 503.2L1356.4 502.9L1357.4 503L1358.4 503L1359.4 502.9L1360.4 502.8L1361.4 502.6L1362.4 502.7L1363.4 502.5L1364.4 502.7L1365.4 502.4L1366.4 502.2L1367.4 502.3L1368.4 502.4L1369.4 502.6L1370.4 502.5L1371.4 502.3L1372.4 502.6L1373.4 502.4L1374.4 502.4L1375.4 502.3L1376.4 502.3L1377.4 502.5L1378.4 502.1L1379.4 502.3L1380.4 502.4L1381.4 502.4L1382.4 502.4L1383.4 502.3L1384.4 502.5L1385.4 502.2L1386.4 502L1387.4 502.5L1388.4 502.5L1389.4 502.2L1390.4 502.3L1391.4 502.5L1392.4 502.5L1393.4 502.6L1394.4 502.7L1395.4 502.8L1396.4 502.8L1397.4 502.8L1398.4 503L1399.4 502.8L1400.4 503.1L1401.4 502.7L1402.4 503.1L1403.4 503.3L1404.4 503.2L1405.4 503.1L1406.4 503.1L1407.4 503.2L1408.4 503.5L1409.4 503.4L1410.4 503.8L1411.4 503.5L1412.4 503.9L1413.4 504L1414.4 504L1415.4 503.9L1416.4 504L1417.4 504.2L1418.4 504.2L1419.4 504.4L1420.4 504.3L1421.4 504.4L1422.4 504.5L1423.4 504.6L1424.4 504.6L1425.4 504.6L1426.4 504.7L1427.4 504.6L1428.4 505.1L1429.4 505L1430.4 504.8L1431.4 505.3L1432.4 505.3L1433.4 505.1L1434.4 504.9L1435.4 505.5L1436.4 505.4L1437.4 505.5L1438.4 505.7L1439.4 505.7L1440.4 505.6L1441.4 505.9L1442.4 506.1L1443.4 506.1L1444.4 506.3L1445.4 506.2L1446.4 506.3L1447.4 506.3L1448.4 506.6L1449.4 506.4L1450.4 506.8L1451.4 506.5L1452.4 506.8L1453.4 506.8L1454.4 506.6L1455.4 507.2L1456.4 507L1457.4 507.2L1458.4 506.9L1459.4 507.3L1460.4 507.2L1461.4 507.5L1462.4 507.3L1463.4 507.3L1464.5 507.6L1465.5 507.8L1466.5 507.7L1467.5 507.7L1468.5 507.7L1469.5 507.4L1470.5 507.7L1471.5 507.7L1472.5 507.6L1473.5 507.5L1474.5 507.8L1475.5 507.6L1476.5 507.7L1477.5 507.7L1478.5 507.5L1479.5 507.7L1480.5 507.6L1481.5 507.2L1482.5 507.4L1483.5 507.5L1484.5 506.9L1485.5 507.3L1486.5 507.4L1487.5 507.5L1488.5 507.5L1489.5 507.4L1490.5 507.5L1491.5 507.1L1492.5 507.4L1493.5 507.2L1494.5 507L1495.5 507.3L1496.5 507.3L1497.5 507.2L1498.5 507L1499.5 507.1L1500.5 507L1501.5 507.1L1502.5 506.9L1503.5 506.9L1504.5 506.7L1505.5 506.8L1506.5 506.8L1507.5 506.5L1508.5 506.6L1509.5 506.3L1510.5 506.3L1511.5 506L1512.5 505.8L1513.5 505.8L1514.5 505.6L1515.5 505.3L1516.5 505.1L1517.5 505.2L1518.5 504.8L1519.5 504.4L1520.5 504.5L1521.5 504.3L1522.5 504L1523.5 504L1524.5 503.6L1525.5 503.2L1526.5 503.2L1527.5 502.7L1528.5 502.7L1529.5 502.6L1530.5 502.5L1531.5 502.1L1532.5 502L1533.5 502L1534.5 501.7L1535.5 501.7L1536.5 501.3L1537.5 501.1L1538.5 501L1539.5 500.7L1540.5 500.8L1541.5 500.6L1542.5 500.2L1543.5 500.2L1544.5 500.1L1545.5 499.8L1546.5 499.6L1547.5 499.7L1548.5 499.4L1549.5 499L1550.5 499.2L1551.5 498.8L1552.5 498.8L1553.5 498.6L1554.5 498.4L1555.5 498.1L1556.5 498.3L1557.5 498L1558.5 497.7L1559.5 497.6L1560.5 497.6L1561.5 497.4L1562.5 497.2L1563.5 497.1L1564.5 496.9L1565.5 496.6L1566.5 496.5L1567.5 496.4L1568.5 496L1569.5 495.8L1570.5 495.8L1571.5 495.6L1572.5 495.5L1573.5 495.5L1574.5 495.2L1575.5 495L1576.5 494.6L1577.5 494.6L1578.5 494.6L1579.5 494.5L1580.5 494.3L1581.5 494L1582.5 493.9L1582.6 600L1583.6 600L1584.6 599.9L1585.6 599.9L1586.6 599.7L1587.6 599.7L1588.6 599.8L1589.6 600L1590.6 599.9L1591.6 600L1592.6 599.7L1593.6 599.7L1594.6 599.8L1595.6 599.8L1596.6 599.9L1597.6 599.7L1598.6 599.7L1599.6 599.9L1600.6 600L1601.6 600L1602.6 600L1603.6 599.8L1604.6 599.8L1605.6 599.9L1606.6 599.8L1607.6 599.9L1608.6 599.7L1609.6 599.5L1610.6 599.8L1611.6 600L1612.6 599.8L1613.6 599.9L1614.6 600L1615.6 599.8L1616.6 599.6L1617.6 600L1618.6 599.9L1619.6 599.8L1620.6 599.8L1621.6 599.8L1622.6 600L1623.6 600L1624.6 600L1625.6 600L1626.6 600L1627.6 599.7L1628.6 600L1629.6 599.8L1630.6 600L1631.6 599.7L1632.6 599.9L1633.6 600L1634.6 599.9L1635.6 599.9L1636.6 600L1637.6 599.8L1638.6 600L1639.6 599.8L1640.6 599.8L1641.6 599.8L1642.6 599.8L1643.6 599.9L1644.6 599.9L1645.6 599.8L1646.6 599.7L1647.6 600L1648.6 599.6L1649.6 599.9L1650.6 599.9L1651.6 599.7L1652.6 599.9L1653.6 599.8L1654.6 599.9L1655.6 600L1656.6 599.8L1657.6 599.7L1658.6 599.9L1659.6 600L1660.6 599.7L1661.6 599.9L1662.6 599.9L1663.6 600L1664.6 599.9L1664.9 485.1L1665.9 485.4L1666.9 485.3L1667.9 485.3L1668.9 485.1L1669.9 485.2L1670.9 485.5L1671.9 485.5L1672.9 485.6L1673.9 485.5L1674.9 485.7L1675.9 485.8L1676.9 485.5L1677.9 485.5L1678.9 485.9L1679.9 486L1680.9 485.9L1681.9 486.1L1682.9 486.1L1683.9 485.8L1684.9 486.1L1685.9 486.2L1686.9 485.9L1687.9 486.5L1688.9 486.2L1689.9 486L1690.9 486.4L1691.9 486.8L1692.9 486.4L1693.9 486.8L1694.9 486.8L1695.9 486.9L1696.9 487L1697.9 487.4L1698.9 487.3L1699.9 487.5L1700.9 487.7L1701.9 487.7L1702.9 487.8L1703.9 488.1L1704.9 488L1705.9 488.2L1706.9 487.9L1707.9 488L1708.9 488.4L1709.9 488.6L1710.9 488.6L1711.9 488.8L1712.9 489L1713.9 489.1L1714.9 489.2L1715.9 489.5L1716.9 489.5L1717.9 489.7L1718.9 489.9L1719.9 489.9L1720.9 490.1L1721.9 490.2L1722.9 490.2L1723.9 490.3L1724.9 490.7L1725.9 490.7L1726.9 490.7L1727.9 490.9L1728.9 491L1729.9 491.1L1730.9 491.2L1731.9 491.4L1732.9 491.7L1733.9 491.7L1734.9 491.8L1735.9 492.1L1736.9 492.3L1737.9 492.3L1738.9 492.5L1739.9 492.4L1740.9 492.9L1741.9 493.1L1742.9 492.8L1743.9 493.3L1744.9 493.2L1745.9 493.1L1746.9 493.7L1747.9 493.9L1748.9 493.9L1749.9 494.2L1750.9 494.1L1751.9 494.3L1752.9 494.5L1753.9 494.6L1754.9 495L1755.9 495.1L1756.9 495.3L1757.9 495.4L1758.9 495.7L1759.9 495.9L1760.9 495.7L1761.9 496.1L1762.9 496.4L1763.9 496.3L1764.9 496.8L1765.9 496.8L1766.9 497.1L1767.9 497.1L1768.9 497.3L1769.9 497.3L1770.9 497.8L1771.9 498L1772.9 498.1L1773.9 498.2L1774.9 498.2L1775.9 498.9L1776.9 499L1777.9 499L1778.9 499.1L1779.9 499.5L1780.9 499.9L1781.9 499.9L1782.9 500.2L1783.9 500.3L1784.9 500.5L1785.9 500.8L1786.9 501.1L1787.9 500.9L1788.9 501.5L1789.9 501.7L1790.9 501.7L1791.9 502.2L1792.9 502.4L1793.9 502.4L1794.9 502.7L1795.9 502.9L1796.9 503.1L1797.9 503.4L1798.9 503.5L1799.9 503.6L1800.9 504L1801.9 504L1802.9 504L1803.9 504.4L1804.9 504.9L1805.9 504.9L1806.9 505.3L1807.9 505.4L1808.9 505.4L1809.9 505.8L1810.9 506.2L1811.9 506.3L1812.9 506.5L1813.9 506.3L1814.9 506.9L1815.9 507L1816.9 507L1817.9 507.3L1818.9 507.1L1819.9 507.2L1820.9 507.6L1821.9 507.3L1822.9 507.6L1823.9 507.5L1824.9 507.8L1825.9 507.4L1826.9 507.8L1827.9 507.7L1828.9 507.8L1829.9 507.8L1830.9 507.8L1831.9 507.4L1832.9 507.6L1833.9 507.5L1834.9 507.5L1835.9 507.4L1836.9 507.7L1837.9 507.4L1838.9 507.5L1839.9 507.3L1840.9 507.5L1841.9 507.4L1842.9 507.4L1843.9 507.4L1844.9 507.1L1845.9 507.1L1846.9 507.1L1847.9 507.2L1848.9 506.8L1849.9 506.9L1850.9 506.6L1851.9 506.6L1852.9 506.3L1853.9 506L1854.9 505.7L1855.9 505.5L1856.9 505.3L1857.9 504.8L1858.9 504.6L1859.9 504.3L1860.9 504L1861.9 503.7L1862.9 503.2L1863.9 503.2L1864.9 503L1865.9 502.5L1866.9 502.3L1867.9 502.3L1868.9 501.7L1869.9 501.6L1870.9 501.4L1871.9 501.3L1872.9 500.7L1873.9 500.6L1874.9 500.5L1875.9 500.2L1876.9 500L1877.9 499.6L1878.9 499.3L1879.9 499L1880.9 499L1881.9 498.7L1882.9 498.3L1883.9 498.1L1884.9 497.8L1885.9 497.7L1886.9 497.2L1887.9 497L1888.9 496.5L1889.9 496.5L1890.9 496.1L1891.9 495.9L1892.9 495.4L1893.9 495.3L1894.9 495L1895.9 494.8L1896.9 494.4L1897.9 493.9L1898.9 493.6L1899.9 493.5L1900.9 493.1L1901.9 492.3L1902.9 492.4L1903.9 491.9L1904.9 491.6L1905.9 490.9L1906.9 490.5L1907.9 490L1908.9 489.8L1909.9 489.1L1910.9 488.6L1911.9 488.6L1912.9 488.2L1913.9 487.9L1914.9 487.4L1915.9 487.1L1916.9 486.5L1917.9 486.6L1918.9 486.2L1919.9 485.9L1920.9 485.6L1921.9 485.5L1922.9 485.4L1923.9 485.3L1924.9 485.1L1925.9 485.1L1926.9 484.6L1927.9 484.1L1928.9 484.6L1929.9 484.3L1930.9 484.1L1931.9 484.2L1932.9 484.2L1933.9 484L1934.9 484L1935.9 483.8L1936.9 484L1937.9 483.9L1938.9 483.9L1939.9 483.8L1940.9 483.7L1941.9 483.9L1942.9 483.8L1943.9 483.9L1944.9 483.8L1945.9 483.7L1946.8 483.9L1947.8 483.3L1948.8 483.8L1949.8 483.9L1950.8 483.9L1951.8 484.1L1952.8 483.7L1953.8 483.8L1954.8 484.1L1955.8 484.3L1956.8 484.3L1957.8 484.4L1958.8 484.1L1959.8 484.5L1960.8 484.2L1961.8 484.6L1962.8 484.5L1963.8 484.7L1964.8 484.8L1965.8 484.9L1966.8 485.1L1967.8 485L1968.8 484.8L1969.8 485.1L1970.8 485.3L1971.8 485.4L1972.8 485.5L1973.8 485.2L1974.8 485.7L1975.8 485.9L1976.8 485.8L1977.8 485.9L1978.8 486.1L1979.8 485.9L1980.8 485.8L1981.8 486.1L1982.8 486.5L1983.8 486.4L1984.8 486.7L1985.8 486.9L1986.8 486.8L1987.8 486.9L1988.8 486.9L1989.8 487.1L1990.8 487.2L1991.8 487.6L1992.8 487.2L1993.8 487.9L1994.8 487.7L1995.8 488.1L1996.8 488.2L1997.8 488.5L1998.8 488.6L1999.8 488.6L2000.8 488.7L2001.8 489.1L2002.8 488.9L2003.8 489.3L2004.8 489.5L2005.8 489.6L2006.8 489.8L2007.8 489.9L2008.8 490.3L2009.8 490.4L2010.8 490.7L2011.8 490.8L2012.8 490.6L2013.8 491L2014.8 490.8L2015.8 491.5L2016.8 491.6L2017.8 491.8L2018.8 491.6L2019.8 491.9L2020.8 492.3L2021.8 492.4L2022.8 492.2L2023.8 492.7L2024.8 492.9L2025.8 492.7L2026.8 493.1L2027.8 493L2028.8 493.5L2029.8 493.4L2030.8 493.7L2031.8 493.6L2032.8 494L2033.8 494.1L2034.8 494.3L2035.8 494.3L2036.8 494.4L2037.8 494.7L2038.8 494.8L2039.8 495L2040.8 495.1L2041.8 494.8L2042.8 495.5L2043.8 495.3L2044.8 495.7L2045.8 495.8L2046.8 496L2047.8 496.1L2048.8 496L2049.8 496.3L2050.8 496.4L2051.8 496.7L2052.8 496.9L2053.8 497.1L2054.8 497.3L2055.8 497.4L2056.8 497.6L2057.8 497.7L2058.8 497.7L2059.8 497.9L2060.8 498.1L2061.8 498.3L2062.8 498L2063.8 498.8L2064.8 498.4L2065.8 498.7L2066.8 499.2L2067.8 499.4L2068.8 499.5L2069.8 499.6L2070.8 500.1L2071.8 500.3L2072.8 500.4L2073.8 500.8L2074.8 500.9L2075.8 501.1L2076.8 501.2L2077.8 501.1L2078.8 501.9L2079.8 501.9L2080.8 502.2L2081.8 502.2L2082.8 502.4L2083.8 502.9L2084.8 502.9L2085.8 503L2086.8 503.6L2087.8 503.7L2088.8 503.8L2089.8 504.1L2090.8 504.2L2091.8 504.3L2092.8 504.6L2093.8 504.6L2094.8 504.8L2095.8 505L2096.8 504.9L2097.8 505.1L2098.8 505.2L2099.8 505.5L2100.8 505.7L2101.8 505.7L2102.8 506.1L2103.8 506.3L2104.8 506.3L2105.8 506.5L2106.8 506.7L2107.8 506.8L2108.8 507L2109.8 507.1L2110.8 507L2111.8 507.3L2112.8 507.2L2113.8 507.4L2114.8 507.5L2115.8 507.6L2116.8 507.6L2117.8 507.1L2118.8 507.8L2119.8 507.8L2120.8 507.7L2121.8 507.5L2122.8 507.7L2123.8 507.6L2124.8 507.5L2125.8 507.7L2126.8 507.6L2127.8 507.4L2128.8 507.4L2129.8 507.2L2130.8 507.3L2131.8 507L2132.8 507L2133.8 506.9L2134.8 506.5L2135.8 506.7L2136.8 506.7L2137.8 506.4L2138.8 506.5L2139.8 506.3L2140.8 506.2L2141.8 506.1L2142.8 505.9L2143.8 505.8L2144.8 505.8L2145.8 505.5L2146.8 505.3L2147.8 505.3L2148.8 505.1L2149.8 505L2150.8 504.8L2151.8 504.4L2152.8 504.4L2153.8 504.2L2154.8 504L2155.8 503.4L2156.8 503.1L2157.8 503.3L2158.8 503L2159.8 502.9L2160.8 502.1L2161.8 502.1L2162.8 501.9L2163.8 501.6L2164.8 501.5L2165.8 501.2L2166.8 501L2167.8 500.7L2168.8 500.4L2169.8 500.1L2170.8 499.6L2171.8 499.4L2172.8 499.4L2173.8 498.7L2174.8 498.6L2175.8 498.4L2176.8 498.3L2177.8 497.9L2178.8 497.6L2179.8 497.3L2180.8 497L2181.8 496.6L2182.8 496.4L2183.8 496.3L2184.8 495.6L2185.8 495.7L2186.8 495.2L2187.8 494.7L2188.8 494.5L2189.8 494.3L2190.8 494L2191.8 493.7L2192.8 493.3L2193.8 493L2194.8 492.4L2195.8 492.3L2196.8 492L2197.8 491.5L2198.8 491.3L2199.8 490.9L2200.8 490.8L2201.8 490.6L2202.8 490.3L2203.8 490L2204.8 489.7L2205.8 489.4L2206.8 489.3L2207.8 489L2208.8 488.5L2209.8 488.5L2210.8 488.2L2211.8 487.8L2212.8 487.4L2213.8 487.3L2214.8 486.9L2215.8 486.7L2216.8 486.3L2217.8 486.1L2218.8 486L2219.8 485.7L2220.8 485.3L2221.8 485.2L2222.8 485.2L2223.8 484.9L2224.8 484.8L2225.8 484.4L2226.8 484.6L2227.8 484.3L2228.8 484.5L2229.8 484.5L2230.8 484.3L2231.8 484.4L2232.8 484.4L2233.8 484.3L2234.8 484.2L2235.8 484.3L2236.8 484.2L2237.8 484.1L2238.8 484L2239.8 483.8L2240.8 484.1L2241.8 484L2242.8 483.9L2243.8 483.8L2244.8 483.7L2245.8 483.9L2246.8 483.8L2247.8 483.9L2248.8 483.9L2249.8 484L2250.8 484L2251.8 483.7L2252.8 484L2253.8 484L2254.8 484.2L2255.8 484.3L2256.8 484.2L2257.8 484.2L2258.8 484.1L2259.8 484.5L2260.8 484.6L2261.8 484.6L2262.8 484.7L2263.8 484.6L2263.8 735.5L2262.8 735.7L2261.8 736.1L2260.8 736L2259.8 736.1L2258.8 736.1L2257.8 736.1L2256.8 736.1L2255.8 736.2L2254.8 736.3L2253.8 736.3L2252.8 736.3L2251.8 736.4L2250.8 736.4L2249.8 736.5L2248.8 736.8L2247.8 736.6L2246.8 736.6L2245.8 736.9L2244.8 736.6L2243.8 736.6L2242.8 736.6L2241.8 736.5L2240.8 736.4L2239.8 736.6L2238.8 736.3L2237.8 736.6L2236.8 736.3L2235.8 736.2L2234.8 736.3L2233.8 736.1L2232.8 736.1L2231.8 736L2230.8 736.3L2229.8 735.9L2228.8 736.1L2227.8 735.9L2226.8 736.2L2225.8 735.7L2224.8 735.6L2223.8 735.4L2222.8 735.3L2221.8 735L2220.8 734.9L2219.8 734.9L2218.8 734.6L2217.8 734.2L2216.8 733.9L2215.8 733.6L2214.8 734.1L2213.8 733.3L2212.8 733.1L2211.8 732.7L2210.8 732.3L2209.8 732.1L2208.8 731.7L2207.8 731.4L2206.8 731.6L2205.8 731L2204.8 730.7L2203.8 730.4L2202.8 730L2201.8 729.8L2200.8 729.7L2199.8 729.3L2198.8 729.1L2197.8 728.6L2196.8 728.4L2195.8 728.1L2194.8 727.7L2193.8 727.3L2192.8 727L2191.8 726.8L2190.8 726.3L2189.8 726.1L2188.8 725.8L2187.8 725.4L2186.8 725.2L2185.8 724.7L2184.8 724.5L2183.8 724.5L2182.8 723.8L2181.8 723.6L2180.8 723.9L2179.8 723.1L2178.8 722.8L2177.8 722.4L2176.8 722.5L2175.8 722L2174.8 721.8L2173.8 721.5L2172.8 721.1L2171.8 721.3L2170.8 720.6L2169.8 720.3L2168.8 720.2L2167.8 719.9L2166.8 720L2165.8 719.1L2164.8 718.9L2163.8 718.6L2162.8 718.5L2161.8 718.1L2160.8 718L2159.8 717.9L2158.8 717.5L2157.8 717.1L2156.8 716.8L2155.8 716.6L2154.8 716.4L2153.8 716.2L2152.8 716.1L2151.8 715.7L2150.8 715.6L2149.8 715.6L2148.8 715.2L2147.8 715.2L2146.8 715L2145.8 714.7L2144.8 714.7L2143.8 714.5L2142.8 714.4L2141.8 714.4L2140.8 714.2L2139.8 714.2L2138.8 713.9L2137.8 713.9L2136.8 713.7L2135.8 713.7L2134.8 713.8L2133.8 713.4L2132.8 713.3L2131.8 713.7L2130.8 713L2129.8 713.2L2128.8 712.9L2127.8 712.9L2126.8 713.3L2125.8 712.8L2124.8 712.7L2123.8 712.7L2122.8 712.6L2121.8 712.6L2120.8 712.9L2119.8 712.9L2118.8 713L2117.8 712.8L2116.8 712.8L2115.8 712.8L2114.8 713.2L2113.8 712.9L2112.8 713L2111.8 713.4L2110.8 713.2L2109.8 713.3L2108.8 713.8L2107.8 713.5L2106.8 713.7L2105.8 714L2104.8 714.1L2103.8 714.1L2102.8 714.3L2101.8 714.7L2100.8 714.6L2099.8 714.9L2098.8 715.3L2097.8 715.4L2096.8 715.3L2095.8 715.4L2094.8 715.6L2093.8 715.7L2092.8 715.8L2091.8 716.1L2090.8 716.6L2089.8 716.6L2088.8 716.5L2087.8 716.7L2086.8 717.2L2085.8 717.1L2084.8 717.5L2083.8 717.4L2082.8 717.8L2081.8 717.9L2080.8 718.4L2079.8 718.6L2078.8 719L2077.8 719.3L2076.8 719L2075.8 719.5L2074.8 719.8L2073.8 720.1L2072.8 720.2L2071.8 720.4L2070.8 720.4L2069.8 720.5L2068.8 721L2067.8 721.2L2066.8 721.3L2065.8 721.3L2064.8 721.7L2063.8 721.8L2062.8 721.9L2061.8 722.1L2060.8 722.1L2059.8 722.3L2058.8 722.9L2057.8 722.8L2056.8 722.9L2055.8 723.4L2054.8 723.2L2053.8 723.6L2052.8 723.5L2051.8 723.8L2050.8 723.8L2049.8 724.1L2048.8 724L2047.8 724.5L2046.8 724.5L2045.8 724.6L2044.8 724.8L2043.8 724.8L2042.8 725.2L2041.8 725.1L2040.8 725.5L2039.8 725.5L2038.8 725.6L2037.8 725.9L2036.8 725.8L2035.8 726.1L2034.8 726.1L2033.8 726.4L2032.8 726.7L2031.8 726.6L2030.8 726.7L2029.8 727L2028.8 727L2027.8 727.5L2026.8 727.4L2025.8 727.7L2024.8 727.7L2023.8 727.9L2022.8 727.8L2021.8 728.2L2020.8 728.4L2019.8 728.5L2018.8 728.7L2017.8 728.8L2016.8 728.8L2015.8 729.1L2014.8 729.1L2013.8 729.5L2012.8 729.7L2011.8 729.9L2010.8 730L2009.8 730L2008.8 730.1L2007.8 730.4L2006.8 730.6L2005.8 730.9L2004.8 731.1L2003.8 731.2L2002.8 731.2L2001.8 731.5L2000.8 731.8L1999.8 731.9L1998.8 731.9L1997.8 732.1L1996.8 732.3L1995.8 732.4L1994.8 732.4L1993.8 732.6L1992.8 732.9L1991.8 733.3L1990.8 733L1989.8 733.1L1988.8 733.2L1987.8 733.3L1986.8 733.5L1985.8 733.6L1984.8 733.9L1983.8 733.9L1982.8 734L1981.8 734.1L1980.8 734.2L1979.8 734.2L1978.8 734.4L1977.8 734.6L1976.8 734.5L1975.8 734.7L1974.8 734.8L1973.8 734.9L1972.8 735.1L1971.8 735.2L1970.8 735.1L1969.8 735.1L1968.8 735.6L1967.8 735.5L1966.8 735.5L1965.8 735.4L1964.8 736L1963.8 735.7L1962.8 735.9L1961.8 735.8L1960.8 735.9L1959.8 735.9L1958.8 736.7L1957.8 736.4L1956.8 736.3L1955.8 736.2L1954.8 736.4L1953.8 736.2L1952.8 736.4L1951.8 736.5L1950.8 736.7L1949.8 736.5L1948.8 736.7L1947.8 736.6L1946.8 736.7L1945.9 736.5L1944.9 736.4L1943.9 736.6L1942.9 737L1941.9 736.8L1940.9 736.7L1939.9 736.7L1938.9 737L1937.9 736.7L1936.9 736.6L1935.9 736.4L1934.9 736.5L1933.9 736.6L1932.9 736.3L1931.9 736.2L1930.9 736.2L1929.9 735.9L1928.9 735.8L1927.9 735.8L1926.9 735.5L1925.9 735.5L1924.9 735.3L1923.9 735.1L1922.9 735.1L1921.9 735L1920.9 734.8L1919.9 734.7L1918.9 734.5L1917.9 733.9L1916.9 733.7L1915.9 733.4L1914.9 733.5L1913.9 732.6L1912.9 732.3L1911.9 731.9L1910.9 731.6L1909.9 731.1L1908.9 730.8L1907.9 730.2L1906.9 730L1905.9 729.4L1904.9 729L1903.9 728.5L1902.9 728.3L1901.9 728L1900.9 727.3L1899.9 727L1898.9 726.9L1897.9 726.2L1896.9 726.2L1895.9 725.6L1894.9 725.7L1893.9 725.4L1892.9 725L1891.9 724.6L1890.9 724.1L1889.9 723.9L1888.9 723.5L1887.9 723.6L1886.9 723.6L1885.9 722.7L1884.9 722.8L1883.9 722.5L1882.9 721.9L1881.9 722L1880.9 721.7L1879.9 721.7L1878.9 720.9L1877.9 720.8L1876.9 720.4L1875.9 720.4L1874.9 720.3L1873.9 719.8L1872.9 719.8L1871.9 719.2L1870.9 718.9L1869.9 718.9L1868.9 718.5L1867.9 718.1L1866.9 717.9L1865.9 717.8L1864.9 717.6L1863.9 717.1L1862.9 717L1861.9 716.6L1860.9 716.2L1859.9 715.9L1858.9 715.8L1857.9 715.9L1856.9 715.1L1855.9 714.8L1854.9 714.8L1853.9 714.5L1852.9 714L1851.9 713.8L1850.9 713.8L1849.9 713.5L1848.9 713.9L1847.9 713.2L1846.9 713.7L1845.9 713.3L1844.9 713L1843.9 713.2L1842.9 712.9L1841.9 713L1840.9 713L1839.9 712.8L1838.9 713L1837.9 713L1836.9 713.2L1835.9 713L1834.9 712.9L1833.9 712.9L1832.9 712.8L1831.9 712.7L1830.9 712.8L1829.9 712.8L1828.9 712.8L1827.9 712.6L1826.9 712.6L1825.9 712.7L1824.9 712.6L1823.9 712.7L1822.9 712.8L1821.9 712.8L1820.9 712.9L1819.9 713L1818.9 713.1L1817.9 713.2L1816.9 713.3L1815.9 713.6L1814.9 713.8L1813.9 714L1812.9 714L1811.9 714.1L1810.9 714.2L1809.9 714.5L1808.9 714.9L1807.9 714.9L1806.9 715.2L1805.9 715.7L1804.9 715.6L1803.9 715.8L1802.9 716.4L1801.9 716.4L1800.9 716.6L1799.9 716.7L1798.9 716.9L1797.9 717.2L1796.9 717.6L1795.9 717.6L1794.9 717.8L1793.9 717.9L1792.9 718L1791.9 718.7L1790.9 718.4L1789.9 718.7L1788.9 719.2L1787.9 719.1L1786.9 719.5L1785.9 719.7L1784.9 719.7L1783.9 720L1782.9 720.2L1781.9 720.2L1780.9 720.7L1779.9 721.1L1778.9 721L1777.9 721.3L1776.9 721.3L1775.9 721.7L1774.9 721.9L1773.9 722.3L1772.9 722.2L1771.9 722.5L1770.9 722.8L1769.9 723L1768.9 723.3L1767.9 723.1L1766.9 723.4L1765.9 723.5L1764.9 723.6L1763.9 724.1L1762.9 724.1L1761.9 724.3L1760.9 724.6L1759.9 724.9L1758.9 724.8L1757.9 725L1756.9 725.3L1755.9 725.3L1754.9 725.3L1753.9 725.8L1752.9 725.7L1751.9 726L1750.9 726.3L1749.9 726.1L1748.9 726.4L1747.9 726.4L1746.9 726.7L1745.9 726.8L1744.9 726.9L1743.9 727.2L1742.9 727.5L1741.9 727.3L1740.9 727.5L1739.9 727.8L1738.9 728.1L1737.9 728L1736.9 728.1L1735.9 728.2L1734.9 728.5L1733.9 728.8L1732.9 729L1731.9 728.8L1730.9 729L1729.9 729.4L1728.9 729.5L1727.9 729.4L1726.9 729.6L1725.9 729.9L1724.9 730L1723.9 730L1722.9 730L1721.9 730.3L1720.9 730.2L1719.9 730.6L1718.9 730.6L1717.9 730.6L1716.9 730.9L1715.9 731L1714.9 731.5L1713.9 731.1L1712.9 731.4L1711.9 731.5L1710.9 731.6L1709.9 731.7L1708.9 731.8L1707.9 731.9L1706.9 732.2L1705.9 732.2L1704.9 732.5L1703.9 732.5L1702.9 732.9L1701.9 733L1700.9 732.7L1699.9 733.1L1698.9 733L1697.9 733L1696.9 733.2L1695.9 733.2L1694.9 733.7L1693.9 733.7L1692.9 733.8L1691.9 733.9L1690.9 734.1L1689.9 734L1688.9 733.8L1687.9 734.2L1686.9 734.3L1685.9 734.2L1684.9 734.3L1683.9 734.1L1682.9 734.3L1681.9 734.4L1680.9 734.5L1679.9 734.6L1678.9 734.5L1677.9 734.9L1676.9 735L1675.9 734.6L1674.9 735.1L1673.9 734.7L1672.9 735L1671.9 734.9L1670.9 735.4L1669.9 735L1668.9 743.4L1667.9 743.5L1666.9 743.5L1665.9 743.6L1664.9 735.1L1664.6 620.6L1663.6 620.6L1662.6 620.5L1661.6 620.7L1660.6 620.4L1659.6 620.4L1658.6 620.6L1657.6 620.4L1656.6 620.5L1655.6 620.8L1654.6 620.5L1653.6 620.6L1652.6 620.7L1651.6 620.6L1650.6 620.6L1649.6 620.5L1648.6 620.4L1647.6 620.4L1646.6 620.4L1645.6 620.4L1644.6 620.7L1643.6 620.4L1642.6 620.4L1641.6 620.5L1640.6 620.5L1639.6 620.4L1638.6 620.5L1637.6 620.6L1636.6 620.5L1635.6 620.5L1634.6 620.5L1633.6 620.7L1632.6 620.8L1631.6 620.4L1630.6 621L1629.6 620.6L1628.6 620.6L1627.6 620.6L1626.6 620.5L1625.6 620.5L1624.6 620.6L1623.6 620.4L1622.6 620.6L1621.6 620.7L1620.6 620.6L1619.6 620.4L1618.6 620.5L1617.6 620.5L1616.6 620.8L1615.6 620.7L1614.6 620.8L1613.6 620.4L1612.6 620.5L1611.6 620.7L1610.6 620.5L1609.6 620.9L1608.6 620.5L1607.6 620.7L1606.6 620.6L1605.6 620.6L1604.6 620.7L1603.6 620.4L1602.6 620.5L1601.6 620.7L1600.6 620.4L1599.6 620.9L1598.6 620.4L1597.6 620.5L1596.6 620.6L1595.6 620.6L1594.6 620.4L1593.6 620.4L1592.6 620.4L1591.6 620.5L1590.6 620.5L1589.6 620.5L1588.6 620.8L1587.6 621L1586.6 620.5L1585.6 620.4L1584.6 620.4L1583.6 620.7L1582.6 620.4L1582.5 726.6L1581.5 726.3L1580.5 726.3L1579.5 726.1L1578.5 725.9L1577.5 725.5L1576.5 725.7L1575.5 725.3L1574.5 725.2L1573.5 725L1572.5 724.9L1571.5 724.7L1570.5 724.5L1569.5 724.5L1568.5 724.4L1567.5 724.3L1566.5 723.9L1565.5 723.7L1564.5 723.6L1563.5 723.4L1562.5 723.1L1561.5 723.2L1560.5 723.2L1559.5 722.8L1558.5 722.6L1557.5 722.5L1556.5 722.3L1555.5 722.1L1554.5 722.2L1553.5 721.7L1552.5 721.7L1551.5 721.4L1550.5 721.2L1549.5 721.3L1548.5 721.2L1547.5 721L1546.5 721L1545.5 720.6L1544.5 720.5L1543.5 720.1L1542.5 719.9L1541.5 720.1L1540.5 719.6L1539.5 719.7L1538.5 719.3L1537.5 719.2L1536.5 719L1535.5 718.8L1534.5 718.6L1533.5 718.4L1532.5 718.4L1531.5 718.2L1530.5 718L1529.5 718.1L1528.5 717.6L1527.5 717.5L1526.5 717.3L1525.5 717L1524.5 717L1523.5 716.5L1522.5 716.8L1521.5 716.1L1520.5 715.9L1519.5 716L1518.5 715.7L1517.5 715.3L1516.5 715.3L1515.5 715L1514.5 715.2L1513.5 714.5L1512.5 714.6L1511.5 714.2L1510.5 714.5L1509.5 714.4L1508.5 714L1507.5 713.7L1506.5 713.7L1505.5 713.6L1504.5 713.8L1503.5 713.5L1502.5 713.3L1501.5 713.3L1500.5 713.2L1499.5 713.3L1498.5 713.3L1497.5 713.1L1496.5 713.1L1495.5 713.1L1494.5 713.1L1493.5 713.1L1492.5 713.1L1491.5 713.1L1490.5 713L1489.5 713.1L1488.5 713.2L1487.5 712.8L1486.5 713L1485.5 713.1L1484.5 713.3L1483.5 712.8L1482.5 712.9L1481.5 712.7L1480.5 712.6L1479.5 713.1L1478.5 713.3L1477.5 712.6L1476.5 712.7L1475.5 712.8L1474.5 712.7L1473.5 712.7L1472.5 712.8L1471.5 712.7L1470.5 712.6L1469.5 712.9L1468.5 712.6L1467.5 712.8L1466.5 712.9L1465.5 712.6L1464.5 712.7L1463.4 712.8L1462.4 712.8L1461.4 712.8L1460.4 712.9L1459.4 713.1L1458.4 713.1L1457.4 713.1L1456.4 713.3L1455.4 713.5L1454.4 713.4L1453.4 713.4L1452.4 713.4L1451.4 713.9L1450.4 713.7L1449.4 713.8L1448.4 714L1447.4 714.3L1446.4 714L1445.4 714.9L1444.4 714.1L1443.4 714.3L1442.4 714.7L1441.4 714.5L1440.4 715L1439.4 715.1L1438.4 714.6L1437.4 714.7L1436.4 715L1435.4 715L1434.4 715.3L1433.4 715.1L1432.4 715.2L1431.4 715.1L1430.4 715.2L1429.4 715.5L1428.4 715.3L1427.4 715.7L1426.4 715.5L1425.4 715.9L1424.4 716L1423.4 715.9L1422.4 715.9L1421.4 716.1L1420.4 716.2L1419.4 716L1418.4 716.2L1417.4 716.2L1416.4 716.3L1415.4 716.4L1414.4 716.6L1413.4 716.4L1412.4 716.8L1411.4 716.5L1410.4 716.7L1409.4 716.9L1408.4 716.7L1407.4 716.9L1406.4 717L1405.4 717L1404.4 717.2L1403.4 717.1L1402.4 717.3L1401.4 717.3L1400.4 717.6L1399.4 717.4L1398.4 717.7L1397.4 717.6L1396.4 717.6L1395.4 717.7L1394.4 717.6L1393.4 717.6L1392.4 717.8L1391.4 718L1390.4 717.7L1389.4 718.3L1388.4 717.9L1387.4 717.9L1386.4 717.9L1385.4 718.3L1384.4 718.3L1383.4 718L1382.4 718L1381.4 718.2L1380.4 718.1L1379.4 717.9L1378.4 718.2L1377.4 718.4L1376.4 717.9L1375.4 718L1374.4 718.2L1373.4 717.9L1372.4 718L1371.4 717.8L1370.4 718.5L1369.4 717.8L1368.4 718L1367.4 718L1366.4 717.7L1365.4 718L1364.4 717.8L1363.4 717.9L1362.4 717.6L1361.4 717.5L1360.4 717.6L1359.4 717.4L1358.4 717.4L1357.4 717.3L1356.4 717.3L1355.4 717.4L1354.4 717.4L1353.4 717.1L1352.4 717.2L1351.4 717L1350.4 717.2L1349.4 716.9L1348.4 717.2L1347.4 717.5L1346.4 717.3L1345.4 716.7L1344.4 717.1L1343.4 716.7L1342.4 716.7L1341.4 716.7L1340.4 716.6L1339.4 716.4L1338.4 716.5L1337.4 716.4L1336.4 716.4L1335.4 716.6L1334.4 716.5L1333.4 716.4L1332.3 716.3L1331.3 716L1330.3 716.4L1329.3 715.9L1328.3 715.9L1327.3 715.8L1326.3 715.9L1325.3 715.8L1324.3 715.6L1323.3 715.6L1322.3 715.4L1321.3 715.5L1320.3 715.3L1319.3 715.4L1318.3 715.3L1317.3 715.4L1316.3 715L1315.3 715.1L1314.3 714.9L1313.3 714.8L1312.3 714.7L1311.3 714.7L1310.3 714.6L1309.3 714.4L1308.3 714.8L1307.3 714.2L1306.3 714.2L1305.3 714.1L1304.3 714L1303.3 713.9L1302.3 713.9L1301.3 713.7L1300.3 713.7L1299.3 714L1298.3 713.5L1297.3 713.5L1296.3 713.3L1295.3 713.5L1294.3 713.3L1293.3 713.5L1292.3 713.1L1291.3 713L1290.3 713.1L1289.3 713L1288.3 712.9L1287.3 712.9L1286.3 713.2L1285.3 712.7L1284.3 713L1283.3 712.7L1282.3 712.7L1281.3 712.6L1280.3 712.8L1279.3 712.7L1278.3 712.5L1277.3 712.6L1276.3 713L1275.3 712.7L1274.3 713.1L1273.3 712.8L1272.3 712.6L1271.3 713L1270.3 712.8L1269.3 713L1268.3 713L1267.3 713L1266.3 712.9L1265.3 713L1264.3 713.2L1263.3 712.9L1262.3 713L1261.3 713.2L1260.3 713.2L1259.3 713.1L1258.3 713.2L1257.3 713.3L1256.3 713.3L1255.3 713.6L1254.3 713.7L1253.3 713.6L1252.3 713.7L1251.3 714L1250.3 713.8L1249.3 713.8L1248.3 714.3L1247.3 714L1246.3 714L1245.3 714.1L1244.3 714.4L1243.3 714.6L1242.3 714.4L1241.3 714.6L1240.3 714.8L1240 717.5L1239 717.6L1238 718.2L1237 717.7L1236 717.9L1235 718.2L1234 718L1233 718.1L1232 718.2L1231 718.1L1230 718.1L1229 718.3L1228 718.3L1227 718.4L1226 718.6L1225 718.5L1224 718.6L1223 718.8L1222 718.9L1221 718.9L1220 718.7L1219 719.3L1218 718.9L1217 719L1216 719.1L1215 719.1L1214 719.1L1213 719.3L1212 719.1L1211 719.5L1210 719.2L1209 719.3L1208 719.3L1207 719.2L1206 719.5L1205 719.3L1204 719.4L1203 719.2L1202 719.2L1201 719.1L1200 719.3L1199 719.1L1198 719.1L1197 719.3L1196 719.2L1195 719.3L1194 719.4L1193 719.2L1192 719.2L1191 719.1L1190 719.4L1189 718.8L1188 718.9L1187 718.9L1186 718.6L1185 718.9L1184 718.6L1183 718.6L1182 718.4L1181 718.4L1180 718.2L1179 718.6L1178 718.2L1177 718.2L1176 718.2L1175 717.9L1174 718.2L1173 717.8L1172 717.8L1171 717.6L1170 717.7L1169 717.7L1168 717.4L1167 717.3L1166 717.8L1165 717.5L1164 717.1L1163 717L1162 717L1161 716.9L1160 717L1159 716.9L1158 716.7L1157 716.6L1156 716.7L1155 716.5L1154 716.6L1153 716.5L1152 716.4L1151 716.3L1150 716.6L1149 716.2L1148 716.4L1147 716.1L1146 716.4L1145 716.2L1144 716L1143 716.2L1142 716.1L1141 716.3L1140 715.9L1139 716L1138 716.2L1137 716.2L1136 716.1L1135 715.9L1134 715.9L1133 715.9L1132 716L1131 715.9L1130 716L1129 716L1128 716.3L1127 716.4L1126 716.2L1125 716.4L1124 716.4L1123 716.3L1122 716.3L1121 716.3L1120 716.4L1119 716.6L1118 716.5L1117 717L1116 716.6L1115 716.8L1114 716.6L1113 716.9L1112 716.8L1111 717.1L1110 716.9L1109 717.1L1108 717.3L1107 717.5L1106 717.4L1105 717.4L1104 717.6L1103 717.4L1102 717.5L1101 717.5L1100 717.6L1099 717.8L1098 718.1L1097 718.3L1096 717.9L1095 718.2L1094 718.1L1093 718.4L1092 718.2L1091 718.5L1090 718.5L1089 718.8L1088 718.7L1087 718.8L1086 718.8L1085 718.6L1084 718.8L1083 719L1082 718.8L1081 718.9L1080 719L1079 718.9L1078 719L1077 719.1L1076 719.1L1075 719.4L1074 719.4L1073 719.1L1072 719.1L1071 719.3L1070 719.9L1069 719.3L1068 719.3L1067 719.4L1066 719.3L1065 719.2L1064 719.2L1063 719.1L1062 719.2L1061 719.2L1060 719.1L1059 719.2L1058 719.1L1057 719.5L1056 719.3L1055 719L1054 719.1L1053 718.9L1052 719.1L1051 718.7L1050 718.9L1049 718.6L1048 718.6L1047 718.7L1046 718.8L1045 718.4L1044 718.3L1043 718.2L1042 718.5L1041 718.1L1040 718.1L1039 718.4L1038 717.9L1037 717.9L1036 718.1L1035 717.7L1034 717.8L1033 717.8L1032 717.4L1031 717.4L1030 717.3L1029 717.5L1028 717.3L1027 717.1L1026 717.3L1025 716.9L1024 717.1L1023 717.1L1022 717L1021 717.1L1020 716.7L1019 716.5L1018 716.5L1017 716.6L1016 716.4L1015 716.4L1014 716.4L1013 716.2L1012 716.2L1011 716.1L1010 716.2L1009 716.4L1008 716.1L1007 716L1006 716.1L1005 716.3L1004 716L1003 715.9L1002 716L1001 716.1L1000 716.1L999 716.3L998 715.9L997 715.9L996 715.9L995 716.1L994 716L993 716.2L992 716.3L991 716L990 716.3L989 716.6L988 716.3L987 716.3L986 716.4L985 716.4L984 716.3L983 716.7L982 716.4L981 716.5L980 716.8L979 716.5L978 717L977 716.9L976 716.7L975 717.5L974 717.1L973 717L972 717.3L971 717L970 717.1L969 717.2L968 717.2L967 717.7L966 717.6L965 717.6L964 717.5L963 717.7L962 717.8L961 718L960 717.9L959 718.4L958 718L957 718L956 718.1L955 718.2L954 718.4L953 718.7L952 718.4L951 718.8L950 718.6L949 718.6L948 718.8L947 718.8L946 719.2L945 718.8L944 718.9L943 718.8L942 719.4L941 719.2L940 719L939 719L938 719.1L937 719.2L936 719.3L935 719.1L934 719.2L933 719.1L932 719.6L931 719.2L930 719.2L929 719.5L928 719.5L927 719.4L926 719.2L925 719.2L924 719.1L923 719.3L922 719.2L921 719.4L920 719L919 719.2L918 719L917 718.9L916 718.8L915 719L914 718.8L913 718.7L912 718.7L911 718.7L910 719L909 718.7L908 718.5L907 718.4L906 718.6L905 718.3L904 718.4L903 718.1L902 718.4L901 718L900 718.3L899 717.7L898 718L897 717.6L896 717.6L895 717.9L894 717.6L893 717.8L892 717.3L891 717.3L890 717.4L889 717.3L888 717L887 716.9L886 716.8L885 716.9L884 716.7L883 716.7L882 717.1L881 716.8L880 716.7L879 716.5L878 716.4L877 716.4L876 716.4L875 716.8L874 716.4L873 716.5L872 716.5L871 716.1L870 716.4L869 716.1L868 716.4L867 716.3L866 716.4L865 716.4L864 716.3L863 715.9L862 716L861 716L860 715.9L859 715.9L858 715.9L857 716L856 716.2L855 716L854 716.1L853 716.1L852 716L851 716.1L850 716.2L849 716.2L848 716.5L847 716.5L846 716.5L845 716.6L844 716.8L843 716.6L842 716.5L841 716.7L840 716.7L839 716.7L838 716.9L837 716.9L836 716.9L835 717.1L834 717.1L833 717.4L832 717.1L831 717.3L830 717.3L829 717.6L828 717.6L827 717.7L826 718L825 717.8L824 718.1L823 718.2L822 717.9L821 718.3L820 718.2L819 718.1L818 718.5L817 718.4L816 718.5L815 718.5L814 718.8L813 718.5L812 718.7L811 718.6L810 718.7L809 718.9L808 718.9L807 719L806 718.9L805 719.1L804 719.1L803 719L802 719.1L801 719L800 719.3L799 719.1L798 719.2L797 719.5L796 719.3L795 719.1L794 719.6L793 719.3L792 719.1L791 719.1L790 719.1L789 719.6L788 719.6L787 719.2L786 719.3L785 719.6L784 719L783 719.4L782 719.2L781 718.9L780 719L779 719L778 719.1L777 718.9L776 718.7L775 718.7L774 718.7L773 718.6L772 718.4L771 718.5L770 718.4L769 718.3L768 718.4L767 718.4L766 718.1L765 718.2L764 718.1L763 718.2L762 718L761 717.8L760 717.7L759 717.9L758 717.5L757 717.8L756 717.4L755 717.4L754 717.2L753 717.2L752 717.2L751 717L750 716.9L749 717.3L748 716.8L747 716.9L746 716.9L745 716.7L744 716.6L743 716.9L742 716.7L741 716.4L740 716.4L739 716.7L738 716.3L737 716.7L736 716.4L735 716.1L734 716.1L733 716.1L732 716.1L731 716L730 716.6L729 716L728 715.9L727 716L726 716.1L725 716.1L724 716L723 716.2L722 716.1L721 716.2L720 716.2L719 716.1L718 716.1L717 716.2L716 716.1L715 716.1L714 716.5L713 716.2L712 716.3L711 716.3L710 716.4L709 716.5L708 716.5L707 716.9L706 716.8L705 716.6L704 716.7L703 717.2L702 716.8L701 716.9L700 717L699 717L698 717.4L697 717.3L696 717.3L695 717.4L694 717.6L693 717.6L692 717.6L691 717.7L690 717.9L689 718.3L688 718.4L687 718.1L686 718.2L685 718.3L684 718.2L683 718.4L682 718.5L681 718.7L680 718.8L679 718.7L678 718.8L677 719L676 719.3L675 719.4L674 719.4L673 719.3L672 719.5L671 719.6L670 719.5L669 719.8L668 719.6L667 719.7L666 720L665 720.4L664 720.2L663 720L662 720.3L661 720.6L660 720.3L659 720.5L658 720.6L657 720.7L656 720.5L655 720.9L654 720.9L653 720.8L652 721L651 720.9L650 721L649 721.1L648 721.4L647 721.3L646.2 721.7L645.2 722.1L644.2 722.3L643.2 722.2L642.5 620.5L641.5 620.5L640.5 620.5L639.5 620.9L638.5 620.4L637.5 620.6L636.5 620.5L635.5 620.5L634.5 620.4L633.5 620.6L632.5 620.6L631.5 620.8L630.5 620.6L629.5 620.5L628.5 620.6L627.5 620.6L626.5 620.4L625.5 620.4L624.5 620.4L623.5 620.4L622.5 620.4L621.5 620.4L620.5 620.7L619.5 620.7L618.5 620.6L617.5 620.4L616.5 620.5L615.5 620.5L614.5 620.4L613.5 620.4L612.5 620.4L611.5 620.5L610.5 620.6L609.5 620.4L608.5 620.5L607.5 620.6L606.5 620.4L605.5 620.5L604.5 620.5L603.5 620.9L602.5 620.5L601.5 620.8L600.5 620.4L599.5 620.5L598.5 620.8L597.5 620.4L596.5 620.4L595.5 620.5L594.5 620.6L593.5 620.4L592.5 620.4L591.5 620.6L590.5 620.6L589.5 621.1L588.5 620.6L587.5 620.6L586.5 620.5L585.5 620.4L584.5 620.6L583.5 620.6L582.5 620.5L581.5 620.4L580.5 620.4L579.5 620.6L578.5 620.7L577.5 620.5L576.5 620.4L575.5 621.1L574.5 620.5L573.5 620.6L572.5 620.4L571.5 620.6L570.5 620.5L569.5 620.7L568.5 620.6L567.5 620.6L566.5 620.5L565.5 620.4L564.5 620.5L563.5 620.4L562.5 620.7L561.5 620.6L560.5 620.5L559.9 717.3L558.9 717.1L557.9 717.4L556.9 717.1L555.9 717.3L554.9 717.4L553.9 717.2L552.9 717L551.9 717.1L550.9 717.1L549.9 717.2L548.9 717.1L547.9 717.3L546.9 717.5L545.9 717.6L544.9 717L543.9 717L542.9 717.2L541.9 717.1L540.9 717.2L539.9 717.2L538.9 717.5L537.9 717.1L536.9 717.1L535.9 717.1L534.9 717.3L533.9 717.1L532.9 717.1L531.9 717L530.9 717.1L529.9 717.2L528.9 717.4L527.9 717.2L526.9 717.3L525.9 717.4L524.9 717L523.9 717L522.9 717.2L521.9 717.2L520.9 717.3L519.9 717L518.9 717.1L517.9 717.1L516.9 717.1L515.9 717.2L514.9 717.2L513.9 717.3L512.9 717.2L511.9 717.1L510.9 717.3L509.9 717.6L508.9 717.1L507.9 717.3L506.9 717.1L505.9 717.2L504.9 717.3L503.9 717.3L502.9 717.1L501.9 717.2L500.9 717.3L499.9 717.4L498.9 717.2L497.9 717.2L496.9 717.1L495.9 717.1L494.9 717.3L493.9 717.1L492.9 717.2L491.9 717.2L490.9 717.2L489.9 717.5L488.9 717.5L487.9 717.2L486.9 717.3L485.9 717.1L484.9 717.2L483.9 717.1L482.9 717.3L481.9 717.2L480.9 717.3L479.9 717.3L478.9 717.2L477.9 717.4L476.9 717L475.9 717.3L474.9 717.2L473.9 717.3L472.9 717.1L471.9 717L470.9 717.1L469.9 717.6L468.9 717.1L467.9 717.2L466.9 717.2L465.9 717.3L464.9 717.1L463.9 717.1L462.9 717.4L461.9 717.4L460.9 717.3L459.9 717.1L458.9 717.1L457.9 717.3L456.9 717.4L455.9 717L454.9 717.4L453.9 717.1L452.9 717.2L451.9 717.1L450.9 717.1L449.9 717.1L448.9 717.1L447.9 717.4L446.9 717.3L445.9 717.2L444.9 717.2L443.9 717.3L442.9 717.4L441.9 717.3L440.9 717.1L439.9 717.2L438.9 717.4L437.9 717.3L436.9 717.3L435.9 717L434.9 717.2L433.9 718L432.9 717.3L431.9 717L430.9 717.3L429.9 717.1L428.9 717.1L427.9 717.1L426.9 717.2L425.9 717.1L424.9 717.2L423.9 717.3L422.9 717.2L421.9 717.2L420.9 717.2L419.9 717.4L418.9 717.1L417.9 717.3L416.9 717.3L415.9 717.1L414.9 717.2L413.9 717L412.9 717L411.9 717.3L410.9 717.1L409.9 717.3L408.9 717.1L407.9 717.1L406.9 717.4L405.9 717.3L404.9 717.2L403.9 717.3L402.9 717.1L401.9 717.3L400.9 717.4L399.9 717.1L398.9 717.4L397.9 717.1L396.9 717.4L395.9 717.5L394.9 717L393.9 717.2L392.9 717.2L391.9 717.1L390.9 717L389.9 717.1L388.9 717.1L387.9 717.2L386.9 717.1L385.9 717.1L384.9 717.3L383.9 717.1L382.9 717.1L381.9 717.3L380.9 717.5L379.9 717L378.9 717.1L377.9 717.2L376.9 717.3L375.9 717.1L374.9 717.2L373.9 717.3L372.9 717.5L371.9 717.3L370.9 717.6L369.9 717.2L368.9 717.1L367.9 717.1L366.9 717.2L365.9 717.4L364.9 717.3L363.9 717.1L362.9 717L361.9 717.5L360.9 717.1L359.9 717.1L358.9 717.1L357.9 717.3L356.9 717L355.9 717.1L354.9 717.3L353.9 717.4L352.9 717.2L351.9 717.1L350.9 717L349.9 717.2L348.9 717.2L347.9 717.5L346.9 717.1L345.9 717L344.9 717.6L343.9 717L342.9 717.2L341.9 717.1L340.9 717.3L339.9 717.4L338.9 717.1L337.9 717.4L336.9 717.2L335.9 717.1L334.9 717.2L333.9 717L332.9 717L331.9 717.1L330.9 717.5L329.9 717.4L328.9 717.2L327.9 717.1L326.9 717.5L325.9 717.2L324.9 717.2L323.9 717.2L322.9 717.1L321.9 717.1L320.9 717.5L319.9 717.1L318.9 717.2L317.9 717.1L316.9 717.2L315.9 717.2L314.9 717.7L313.9 717.1L312.9 717.2L311.9 717.1L310.9 717.4L309.9 717L308.9 717.2L307.9 717.1L306.9 717L305.9 717.2L304.9 717.2L303.9 717.2L302.9 717.6L301.9 717.1L300.9 717.1L299.9 717.4L298.9 717.5L297.9 717L296.9 717.1L295.9 717.6L294.9 717.1L293.9 717.2L292.9 717.6L291.9 717.2L290.9 717.1L289.9 717.4L288.9 717L287.9 717.5L286.9 717.4L285.9 717.1L284.9 717.5L283.9 717.1L282.9 717.1L281.9 717.2L280.9 717.2L279.9 717.2L278.9 717.3L277.9 717.4L276.9 717L275.9 717.3L274.9 717.2L273.9 717.5L272.9 717L271.9 717.6L270.9 717.3L269.9 717.1L268.9 717.1L267.9 717L266.9 717.3L265.9 717.3L264.9 717.1L263.9 717.5L262.9 717.2L261.9 717L260.9 717L259.9 717.1L258.9 717.2L257.9 717.1L256.9 717.2L255.9 717.1L254.9 717.3L253.9 717.4L252.9 717.1L251.9 717.4L250.9 717.2L249.9 717L248.9 717L247.9 717.1L246.9 717.2L245.9 717.3L244.9 717L243.9 717.4L242.9 717.2L241.9 717.2L240.9 717.6L239.9 717L238.9 717.3L237.9 717.3L236.9 717.1L235.9 717.2L234.9 717.2L233.9 717.3L232.9 717.5L231.9 717.3L230.9 717L229.9 717.1L228.9 717.2L227.9 717.5L226.9 717.1L225.9 717.1L224.9 717.3L223.9 717L222.9 717.1L221.9 717.5L220.9 717.1L219.9 717.1L218.9 717.1L217.9 717.1Z" fill="#4DBEEE" stroke="#4DBEEE" stroke-width="0.6" stroke-linejoin="round"/>
<line x1="381.4" y1="677" x2="381.4" y2="717.5" stroke="#fff" stroke-width="0.8" stroke-opacity="0.85"/>
<line x1="759.4" y1="672" x2="759.4" y2="718" stroke="#fff" stroke-width="0.8" stroke-opacity="0.85"/>
</g>
<path class="ax" d="M177.6 470.7H2302.5V754.6H177.6ZM218 470.7V447.5M218 754.6V777.8M558.76 470.7V447.5M558.76 754.6V777.8M899.52 470.7V447.5M899.52 754.6V777.8M1240.28 470.7V447.5M1240.28 754.6V777.8M1581.04 470.7V447.5M1581.04 754.6V777.8M1921.8 470.7V447.5M1921.8 754.6V777.8M2262.56 470.7V447.5M2262.56 754.6V777.8M177.6 490.6H154.4M2302.5 490.6H2325.7M177.6 610.2H154.4M2302.5 610.2H2325.7M177.6 729.8H154.4M2302.5 729.8H2325.7"/>
<text class="tk" text-anchor="end" transform="translate(134.8 510.6) scale(1 1.04)">0.5</text>
<text class="tk" text-anchor="end" transform="translate(134.8 630.2) scale(1 1.04)">0</text>
<text class="tk" text-anchor="end" transform="translate(134.8 749.8) scale(1 1.04)">-0.5</text>
<text class="tk" text-anchor="middle" transform="translate(218 848.6) scale(1 1.04)">0</text>
<text class="tk" text-anchor="middle" transform="translate(558.76 848.6) scale(1 1.04)">2</text>
<text class="tk" text-anchor="middle" transform="translate(899.52 848.6) scale(1 1.04)">4</text>
<text class="tk" text-anchor="middle" transform="translate(1240.28 848.6) scale(1 1.04)">6</text>
<text class="tk" text-anchor="middle" transform="translate(1581.04 848.6) scale(1 1.04)">8</text>
<text class="tk" text-anchor="middle" transform="translate(1921.8 848.6) scale(1 1.04)">10</text>
<text class="tk" text-anchor="middle" transform="translate(2262.56 848.6) scale(1 1.04)">12</text>
</g>
<g id="plot3">
<path class="gr" d="M207.3 872.6V1426.9M548.06 872.6V1426.9M888.82 872.6V1426.9M1229.58 872.6V1426.9M1570.34 872.6V1426.9M1911.1 872.6V1426.9M2251.86 872.6V1426.9M166.5 888.6H2291.8M166.5 1053H2291.8M166.5 1217.6H2291.8M166.5 1382H2291.8"/>
<clipPath id="cp3"><rect x="166.5" y="872.6" width="2087.76" height="554.3"/></clipPath>
<g clip-path="url(#cp3)">
<path d="M1212.5 1191.1L1213.5 1193.3L1214.5 1195.3L1215.5 1197.2L1216.5 1199.1L1217.5 1200.8L1218.5 1202.5L1219.5 1204L1220.5 1205.4L1221.5 1206.7L1222.5 1207.9L1223.5 1209L1224.5 1210L1225.5 1210.8L1226.5 1211.5L1227.5 1212.1L1228.5 1212.5L1229.5 1212.8L1230.5 1213L1231.5 1213.1L1232.5 1213L1233.5 1212.8L1234.5 1212.5L1235.5 1212L1236.5 1211.4L1237.5 1210.7L1238.5 1209.9L1239.5 1208.9L1240.5 1207.8L1241.5 1206.6L1242.5 1205.3L1243.5 1203.9L1244.5 1202.3L1245.5 1200.7L1246.5 1198.9L1247.5 1197.1L1248.5 1195.1L1249.5 1193.1L1250.5 1191L1251.5 1188.7L1252.5 1186.4L1253.5 1184.1L1254.5 1181.6L1255.5 1179.1L1256.5 1176.6L1257.5 1173.9L1258.5 1171.3L1259.5 1168.5L1260.5 1165.8L1261.5 1163L1262.5 1160.2L1263.5 1157.3L1264.5 1154.5L1265.5 1151.6L1266.5 1148.7L1267.5 1145.9L1268.5 1143L1269.5 1140.2L1270.5 1137.3L1271.5 1134.5L1272.5 1131.7L1273.5 1129L1274.5 1126.3L1275.5 1123.6L1276.5 1121L1277.5 1118.5L1278.5 1116L1279.5 1113.6L1280.5 1111.2L1281.5 1109L1282.5 1106.8L1283.4 1104.7L1284.4 1102.7L1285.4 1100.7L1286.4 1098.9L1287.4 1097.2L1288.4 1095.6L1289.4 1094.1L1290.4 1092.7L1291.4 1091.4L1292.4 1090.3L1293.4 1089.2L1294.4 1088.3L1295.4 1087.5L1296.4 1086.9L1297.4 1086.3L1298.4 1085.9L1299.4 1085.6L1300.4 1085.5L1301.4 1085.4L1302.4 1085.5L1303.4 1085.8L1304.4 1086.2L1305.4 1086.7L1306.4 1087.3L1307.4 1088.1L1308.4 1089L1309.4 1090.1L1310.4 1091.2L1311.4 1092.5L1312.4 1093.9L1313.4 1095.4L1314.4 1097.1L1315.4 1098.8L1316.4 1100.7L1317.4 1102.7L1318.4 1104.7L1319.4 1106.9L1320.4 1109.1L1321.4 1111.5L1322.4 1113.9L1323.4 1116.4L1324.4 1118.9L1325.4 1121.6L1326.4 1124.2L1327.4 1127L1328.4 1129.7L1329.4 1132.6L1330.4 1135.4L1331.4 1138.3L1332.4 1141.2L1333.4 1144.1L1334.4 1147L1335.4 1150L1336.4 1152.9L1337.4 1155.8L1338.4 1158.7L1339.4 1161.6L1340.4 1164.4L1341.4 1167.2L1342.4 1170L1343.4 1172.7L1344.4 1175.4L1345.4 1178L1346.4 1180.5L1347.4 1183L1348.4 1185.4L1349.4 1187.7L1350.4 1190L1351.4 1192.1L1352.4 1194.1L1353.4 1196.1L1354.4 1197.9L1355.4 1199.7L1356.4 1201.3L1357.4 1202.8L1358.4 1204.2L1359.4 1205.4L1360.3 1206.6L1361.3 1207.6L1362.3 1208.5L1363.3 1209.2L1364.3 1209.9L1365.3 1210.4L1366.3 1210.7L1367.3 1210.9L1368.3 1211L1369.3 1211L1370.3 1210.8L1371.3 1210.5L1372.3 1210L1373.3 1209.4L1374.3 1208.7L1375.3 1207.9L1376.3 1206.9L1377.3 1205.8L1378.3 1204.6L1379.3 1203.2L1380.3 1201.8L1381.3 1200.2L1382.3 1198.5L1383.3 1196.7L1384.3 1194.8L1385.3 1192.8L1386.3 1190.7L1387.3 1188.6L1388.3 1186.3L1389.3 1184L1390.3 1181.5L1391.3 1179.1L1392.3 1176.5L1393.3 1173.9L1394.3 1171.2L1395.3 1168.5L1396.3 1165.8L1397.3 1163L1398.3 1160.2L1399.3 1157.3L1400.3 1154.5L1401.3 1151.6L1402.3 1148.7L1403.3 1145.8L1404.3 1143L1405.3 1140.1L1406.3 1137.3L1407.3 1134.5L1408.3 1131.7L1409.3 1128.9L1410.3 1126.3L1411.3 1123.6L1412.3 1121L1413.3 1118.5L1414.3 1116L1415.3 1113.6L1416.3 1111.3L1417.3 1109.1L1418.3 1107L1419.3 1104.9L1420.3 1103L1421.3 1101.1L1422.3 1099.4L1423.3 1097.7L1424.3 1096.2L1425.3 1094.8L1426.3 1093.5L1427.3 1092.3L1428.3 1091.3L1429.3 1090.4L1430.3 1089.6L1431.3 1088.9L1432.3 1088.4L1433.3 1088L1434.3 1087.7L1435.3 1087.6L1436.2 1087.6L1437.2 1087.7L1438.2 1088L1439.2 1088.4L1440.2 1088.9L1441.2 1089.5L1442.2 1090.3L1443.2 1091.2L1444.2 1092.2L1445.2 1093.4L1446.2 1094.6L1447.2 1096L1448.2 1097.5L1449.2 1099.1L1450.2 1100.8L1451.2 1102.6L1452.2 1104.5L1453.2 1106.5L1454.2 1108.6L1455.2 1110.7L1456.2 1113L1457.2 1115.3L1458.2 1117.7L1459.2 1120.2L1460.2 1122.7L1461.2 1125.3L1462.2 1127.9L1463.2 1130.6L1464.2 1133.3L1465.2 1136L1466.2 1138.8L1467.2 1141.6L1468.2 1144.4L1469.2 1147.2L1470.2 1150L1471.2 1152.9L1472.2 1155.7L1473.2 1158.5L1474.2 1161.2L1475.2 1164L1476.2 1166.7L1477.2 1169.3L1478.2 1172L1479.2 1174.5L1480.2 1177.1L1481.2 1179.5L1482.2 1181.9L1483.2 1184.2L1484.2 1186.5L1485.2 1188.6L1486.2 1190.7L1487.2 1192.7L1488.2 1194.6L1489.2 1196.4L1490.2 1198.1L1491.2 1199.6L1492.2 1201.1L1493.2 1202.5L1494.2 1203.7L1495.2 1204.8L1496.2 1205.8L1497.2 1206.7L1498.2 1207.5L1499.2 1208.1L1500.2 1208.6L1501.2 1209L1502.2 1209.2L1503.2 1209.4L1504.2 1209.3L1505.2 1209.2L1506.2 1208.9L1507.2 1208.5L1508.2 1207.9L1509.2 1207.2L1510.2 1206.4L1511.2 1205.5L1512.2 1204.4L1513.1 1203.2L1514.1 1201.9L1515.1 1200.5L1516.1 1198.9L1517.1 1197.2L1518.1 1195.5L1519.1 1193.6L1520.1 1191.6L1521.1 1189.5L1522.1 1187.4L1523.1 1185.1L1524.1 1182.8L1525.1 1180.4L1526.1 1177.9L1527.1 1175.4L1528.1 1172.8L1529.1 1170.1L1530.1 1167.4L1531.1 1164.7L1532.1 1161.9L1533.1 1159.1L1534.1 1156.3L1535.1 1153.4L1536.1 1150.6L1537.1 1147.7L1538.1 1144.9L1539.1 1142.1L1540.1 1139.2L1541.1 1136.4L1542.1 1133.7L1543.1 1130.9L1544.1 1128.3L1545.1 1125.6L1546.1 1123L1547.1 1120.5L1548.1 1118L1549.1 1115.6L1550.1 1113.3L1551.1 1111.1L1552.1 1109L1553.1 1106.9L1554.1 1104.9L1555.1 1103.1L1556.1 1101.3L1557.1 1099.7L1558.1 1098.2L1559.1 1096.7L1560.1 1095.5L1561.1 1094.3L1562.1 1093.2L1563.1 1092.3L1564.1 1091.5L1565.1 1090.9L1566.1 1090.3L1567.1 1089.9L1568.1 1089.5L1569.1 1089.1L1570.1 1088.7L1571.1 1088.2L1572.1 1087.8L1573.1 1087.4L1574.1 1087L1575.1 1086.6L1576.1 1086.2L1577.1 1085.8L1578 1085.4L1579 1085L1580 1084.7L1581 1084.3L1582 1083.9L1583 1083.5L1584 1083.1L1585 1082.8L1586 1082.4L1587 1082L1588 1081.6L1589 1081.3L1590 1080.9L1591 1080.6L1592 1080.2L1593 1079.9L1594 1079.5L1595 1079.2L1596 1078.8L1597 1078.5L1598 1078.1L1599 1077.8L1600 1077.5L1601 1077.2L1602 1076.8L1603 1076.5L1604 1076.2L1605 1075.9L1606 1075.6L1607 1075.3L1608 1075L1609 1074.7L1610 1074.4L1611 1074.1L1612 1073.8L1613 1073.5L1614 1073.2L1615 1073L1616 1072.7L1616.9 1072.4L1617.9 1072.1L1618.9 1071.8L1619.9 1071.6L1620.9 1071.3L1621.9 1071L1622.9 1070.8L1623.9 1070.5L1624.9 1070.2L1625.9 1070L1626.9 1069.7L1627.9 1069.5L1628.9 1069.2L1629.9 1069L1630.9 1068.7L1631.9 1068.5L1632.9 1068.2L1633.9 1068L1634.9 1067.7L1635.9 1067.5L1636.9 1067.3L1637.9 1067L1638.9 1066.8L1639.9 1066.6L1640.9 1066.4L1641.9 1066.1L1642.9 1065.9L1643.9 1065.7L1644.9 1065.5L1645.9 1065.3L1646.9 1065.1L1647.9 1064.9L1648.9 1064.7L1649.9 1064.5L1650.9 1064.3L1651.9 1064.1L1652.9 1063.9L1653.9 1063.7L1654.8 1063.5L1655.7 1065L1656.5 1067L1657.3 1069.4L1658.1 1072.2L1658.9 1075.2L1659.7 1078.5L1660.5 1081.9L1661.3 1085.4L1662.1 1089L1662.9 1092.5L1663.7 1096.1L1664.5 1099.6L1665.3 1103L1666.1 1106.3L1666.9 1109.6L1667.7 1112.7L1668.5 1115.7L1669.3 1118.7L1670.1 1121.5L1670.9 1124.2L1671.7 1126.8L1672.5 1129.3L1673.3 1131.8L1674.1 1134.1L1674.9 1136.4L1675.7 1138.7L1676.5 1140.9L1677.3 1143.1L1678.1 1145.2L1678.9 1147.4L1679.7 1149.5L1680.5 1151.7L1681.3 1153.9L1682.1 1156.1L1682.9 1158.4L1683.7 1160.7L1684.5 1163.1L1685.4 1165.6L1686.2 1168.1L1687 1170.7L1687.8 1173.4L1688.6 1176.2L1689.4 1179L1690.2 1182L1691 1185L1691.8 1188.2L1692.6 1191.4L1693.4 1194.7L1694.2 1198.2L1695 1201.7L1695.8 1205.3L1696.6 1208.9L1697.4 1212.7L1698.2 1216.5L1699 1220.4L1699.8 1224.4L1700.6 1228.5L1701.4 1232.6L1702.2 1236.7L1703 1240.9L1703.8 1245.2L1704.6 1249.5L1705.4 1253.8L1706.2 1258.2L1707 1262.6L1707.8 1267L1708.6 1271.4L1709.4 1275.9L1710.2 1280.4L1711 1284.9L1711.8 1289.4L1712.6 1294L1713.4 1298.5L1714.2 1303.1L1715 1307.6L1715.9 1312.2L1716.7 1316.8L1717.5 1321.4L1718.3 1325.9L1719.1 1330.5L1719.9 1335.1L1720.7 1339.6L1721.5 1344.2L1722.3 1348.7L1723.1 1353.2L1723.9 1357.6L1724.7 1362L1725.5 1366.3L1726.3 1370.6L1727.1 1374.7L1727.9 1378.7L1728.7 1382.5L1729.5 1386.2L1730.3 1389.6L1731.1 1392.8L1731.9 1395.6L1732.7 1398.1L1733.5 1400.1L1734.3 1401.7L1735.1 1402.7L1735.9 1403.1L1736.7 1402.8L1737.5 1402.1L1738.3 1401.1L1739.1 1399.6L1739.9 1397.7L1740.7 1395.5L1741.5 1393L1742.3 1390.2L1743.1 1387.2L1743.9 1383.8L1744.7 1380.3L1745.5 1376.6L1746.3 1372.6L1747.1 1368.5L1747.9 1364.3L1748.7 1359.9L1749.5 1355.4L1750.3 1350.8L1751.1 1346.2L1751.9 1341.4L1752.7 1336.6L1753.5 1331.7L1754.4 1326.8L1755.2 1321.9L1756 1317L1756.8 1312L1757.6 1307.1L1758.4 1302.2L1759.2 1297.3L1760 1292.4L1760.8 1287.5L1761.6 1282.7L1762.4 1278L1763.2 1273.3L1764 1268.6L1764.8 1264L1765.6 1259.5L1766.4 1255L1767.2 1250.6L1768 1246.3L1768.8 1242L1769.6 1237.8L1770.4 1233.7L1771.2 1229.6L1772 1225.7L1772.8 1221.8L1773.6 1217.9L1774.4 1214.2L1775.2 1210.5L1776 1206.9L1776.8 1203.3L1777.6 1199.8L1778.4 1196.4L1779.2 1193L1780 1189.7L1780.8 1186.4L1781.6 1183.2L1782.4 1180L1783.2 1176.9L1784 1173.8L1784.8 1170.8L1785.6 1167.8L1786.4 1164.8L1787.2 1161.8L1788 1158.9L1788.8 1155.9L1789.6 1153L1790.4 1150.1L1791.2 1147.2L1792 1144.3L1792.8 1141.3L1793.6 1138.4L1794.4 1135.4L1795.2 1132.5L1796 1129.5L1796.8 1126.4L1797.6 1123.4L1798.4 1120.3L1799.2 1117.1L1800 1114L1800.8 1110.7L1801.6 1107.5L1802.4 1104.1L1803.2 1100.8L1804 1097.3L1804.8 1093.8L1805.6 1090.2L1806.4 1086.6L1807.2 1082.9L1808 1079.1L1808.8 1075.3L1809.6 1071.4L1810.5 1067.4L1811.3 1063.4L1812.1 1059.3L1812.9 1055.1L1813.7 1050.8L1814.5 1046.5L1815.3 1042.1L1816.1 1037.7L1816.9 1033.2L1817.7 1028.6L1818.5 1024L1819.3 1019.4L1820.1 1014.7L1820.9 1009.9L1821.7 1005.1L1822.5 1000.3L1823.3 995.5L1824.1 990.7L1824.9 985.8L1825.7 981L1826.5 976.1L1827.3 971.3L1828.1 966.5L1828.9 961.8L1829.7 957.1L1830.5 952.5L1831.3 947.9L1832.1 943.4L1832.9 939.1L1833.7 934.8L1834.5 930.7L1835.3 926.8L1836.1 923L1836.9 919.4L1837.7 916L1838.5 912.8L1839.3 909.8L1840.1 907.2L1840.9 904.8L1841.7 902.7L1842.5 900.9L1843.3 899.5L1844.1 898.4L1844.9 897.8L1845.7 897.6L1846.5 897.7L1847.3 898.2L1848.1 899L1848.9 900.1L1849.7 901.6L1850.5 903.3L1851.3 905.2L1852.1 907.5L1852.9 910L1853.7 912.7L1854.5 915.6L1855.3 918.8L1856.1 922.2L1856.9 925.7L1857.7 929.5L1858.5 933.4L1859.3 937.4L1860.1 941.6L1860.9 945.9L1861.7 950.4L1862.5 954.9L1863.3 959.6L1864.1 964.3L1864.9 969.1L1865.7 973.9L1866.5 978.8L1867.3 983.8L1868.1 988.8L1868.9 993.8L1869.7 998.8L1870.5 1003.8L1871.3 1008.8L1872.1 1013.8L1872.9 1018.8L1873.7 1023.8L1874.4 1028.7L1875.2 1033.6L1876 1038.4L1876.8 1043.2L1877.6 1048L1878.4 1052.7L1879.2 1057.3L1880 1061.8L1880.8 1066.3L1881.6 1070.8L1882.4 1075.1L1883.2 1079.4L1884 1083.6L1884.8 1087.7L1885.6 1091.8L1886.4 1095.8L1887.2 1099.7L1888 1103.5L1888.8 1107.3L1889.6 1111L1890.4 1114.6L1891.2 1118.1L1892 1121.6L1892.8 1125L1893.6 1128.4L1894.4 1131.7L1895.2 1135L1896 1138.2L1896.8 1141.3L1897.6 1144.5L1898.4 1147.6L1899.2 1150.6L1900 1153.6L1900.8 1156.7L1901.6 1159.7L1902.4 1162.6L1903.2 1165.6L1904 1168.6L1904.8 1171.6L1905.6 1174.6L1906.4 1177.6L1907.2 1180.6L1908 1183.6L1908.8 1186.7L1909.6 1189.8L1910.4 1193L1911.2 1196.2L1912 1199.4L1912.8 1202.7L1913.6 1206L1914.4 1209.4L1915.2 1212.9L1916 1216.4L1916.8 1220L1917.6 1223.7L1918.3 1227.5L1919.1 1231.3L1919.9 1235.2L1920.7 1239.1L1921.5 1243.2L1922.3 1247.3L1923.1 1251.5L1923.9 1255.8L1924.7 1260.1L1925.5 1264.5L1926.3 1269L1927.1 1273.6L1927.9 1278.2L1928.7 1282.8L1929.5 1287.6L1930.3 1292.3L1931.1 1297.1L1931.9 1302L1932.7 1306.8L1933.5 1311.7L1934.3 1316.6L1935.1 1321.4L1935.9 1326.3L1936.7 1331.1L1937.5 1335.9L1938.3 1340.7L1939.1 1345.4L1939.9 1350L1940.7 1354.5L1941.5 1358.9L1942.3 1363.1L1943.1 1367.2L1943.9 1371.2L1944.7 1375L1945.5 1378.5L1946.3 1381.9L1947.1 1385L1947.9 1387.8L1948.7 1390.3L1949.5 1392.6L1950.3 1394.4L1951.1 1395.9L1951.9 1397L1952.7 1397.7L1953.5 1398L1954.3 1397.8L1955.1 1397.2L1955.9 1396.3L1956.7 1395.1L1957.5 1393.5L1958.3 1391.7L1959.1 1389.5L1959.9 1387L1960.7 1384.3L1961.5 1381.3L1962.3 1378.1L1963.1 1374.6L1963.9 1370.9L1964.7 1367.1L1965.5 1363L1966.3 1358.8L1967.1 1354.4L1967.9 1349.9L1968.6 1345.3L1969.4 1340.6L1970.2 1335.8L1971 1330.9L1971.8 1325.9L1972.6 1320.9L1973.4 1315.8L1974.2 1310.7L1975 1305.6L1975.8 1300.5L1976.6 1295.4L1977.4 1290.3L1978.2 1285.2L1979 1280.1L1979.8 1275.1L1980.6 1270.1L1981.4 1265.2L1982.2 1260.3L1983 1255.4L1983.8 1250.7L1984.6 1246L1985.4 1241.3L1986.2 1236.8L1987 1232.3L1987.8 1227.8L1988.6 1223.5L1989.4 1219.2L1990.2 1215L1991 1210.9L1991.8 1206.8L1992.6 1202.8L1993.4 1198.9L1994.2 1195L1995 1191.2L1995.8 1187.5L1996.6 1183.8L1997.4 1180.1L1998.2 1176.5L1999 1172.9L1999.8 1169.4L2000.6 1165.9L2001.4 1162.4L2002.2 1159L2003 1155.5L2003.8 1152.1L2004.6 1148.6L2005.4 1145.2L2006.2 1141.7L2007 1138.2L2007.8 1134.7L2008.6 1131.2L2009.4 1127.7L2010.2 1124.1L2011 1120.5L2011.8 1116.8L2012.6 1113.1L2013.4 1109.3L2014.2 1105.5L2015 1101.6L2015.8 1097.6L2016.6 1093.6L2017.4 1089.5L2018.2 1085.4L2019 1081.1L2019.8 1076.8L2020.6 1072.5L2021.4 1068L2022.2 1063.6L2023 1059L2023.8 1054.4L2024.6 1049.7L2025.4 1044.9L2026.2 1040.1L2027 1035.3L2027.8 1030.4L2028.6 1025.5L2029.4 1020.5L2030.2 1015.5L2031 1010.5L2031.8 1005.5L2032.6 1000.5L2033.4 995.5L2034.2 990.5L2035 985.5L2035.8 980.6L2036.6 975.7L2037.4 970.9L2038.2 966.2L2039 961.5L2039.8 956.9L2040.6 952.4L2041.4 948.1L2042.1 943.9L2042.9 939.8L2043.7 935.9L2044.5 932.1L2045.3 928.5L2046.1 925.1L2046.9 921.9L2047.7 919L2048.5 916.2L2049.3 913.7L2050.1 911.4L2050.9 909.4L2051.7 907.6L2052.5 906.1L2053.3 904.9L2054.1 903.9L2054.9 903.2L2055.7 902.8L2056.5 902.7L2057.3 902.8L2058.1 903.3L2058.9 904L2059.7 905L2060.5 906.4L2061.3 907.9L2062.1 909.8L2062.9 911.9L2063.7 914.3L2064.5 916.9L2065.3 919.7L2066.1 922.7L2066.9 926L2067.7 929.4L2068.5 933L2069.3 936.8L2070.1 940.8L2070.9 944.9L2071.7 949.1L2072.5 953.5L2073.3 958L2074.1 962.6L2074.9 967.3L2075.7 972L2076.5 976.9L2077.3 981.8L2078.1 986.7L2078.9 991.7L2079.7 996.7L2080.5 1001.8L2081.3 1006.8L2082.1 1011.9L2082.9 1017L2083.7 1022L2084.5 1027.1L2085.3 1032.1L2086.1 1037L2086.9 1042L2087.7 1046.9L2088.5 1051.7L2089.3 1056.5L2090.1 1061.3L2090.9 1065.9L2091.7 1070.6L2092.5 1075.1L2093.3 1079.6L2094.1 1084L2094.9 1088.3L2095.7 1092.6L2096.5 1096.8L2097.3 1100.9L2098.1 1104.9L2098.9 1108.9L2099.7 1112.8L2100.5 1116.6L2101.3 1120.4L2102.1 1124.1L2102.9 1127.7L2103.7 1131.3L2104.5 1134.8L2105.3 1138.3L2106.1 1141.7L2106.9 1145.1L2107.7 1148.5L2108.5 1151.8L2109.3 1155.1L2110.1 1158.3L2110.9 1161.5L2111.7 1164.8L2112.5 1168L2113.3 1171.2L2114.1 1174.4L2114.9 1177.7L2115.7 1180.9L2116.5 1184.2L2117.4 1187.5L2118.2 1190.8L2119 1194.2L2119.8 1197.6L2120.6 1201.1L2121.4 1204.6L2122.2 1208.2L2123 1211.9L2123.8 1215.6L2124.6 1219.4L2125.4 1223.2L2126.2 1227.2L2127 1231.2L2127.8 1235.3L2128.6 1239.5L2129.4 1243.7L2130.2 1248.1L2131 1252.5L2131.8 1257.1L2132.6 1261.7L2133.4 1266.4L2134.2 1271.2L2135 1276L2135.8 1280.9L2136.6 1285.9L2137.4 1290.9L2138.2 1296L2139 1301.1L2139.8 1306.3L2140.6 1311.4L2141.4 1316.6L2142.2 1321.8L2143 1327L2143.8 1332.1L2144.6 1337.2L2145.4 1342.2L2146.2 1347.1L2147 1351.9L2147.8 1356.6L2148.6 1361.1L2149.4 1365.5L2150.2 1369.6L2151 1373.5L2151.8 1377.2L2152.6 1380.5L2153.4 1383.6L2154.2 1386.2L2155 1388.5L2155.8 1390.3L2156.6 1391.7L2157.4 1392.6L2158.2 1392.9L2159 1392.7L2159.8 1392.1L2160.6 1391.1L2161.4 1389.7L2162.2 1388.1L2163 1386.1L2163.8 1383.8L2164.6 1381.2L2165.4 1378.4L2166.2 1375.3L2167 1372L2167.8 1368.5L2168.6 1364.8L2169.4 1360.9L2170.2 1356.9L2171 1352.7L2171.8 1348.4L2172.6 1343.9L2173.4 1339.4L2174.2 1334.8L2175 1330L2175.8 1325.3L2176.6 1320.4L2177.4 1315.6L2178.2 1310.7L2179 1305.8L2179.8 1300.8L2180.6 1295.9L2181.4 1290.9L2182.2 1286L2183 1281.1L2183.8 1276.2L2184.6 1271.4L2185.4 1266.6L2186.2 1261.8L2187 1257L2187.9 1252.3L2188.7 1247.7L2189.5 1243.1L2190.3 1238.6L2191.1 1234.1L2191.9 1229.6L2192.7 1225.2L2193.5 1220.9L2194.3 1216.6L2195.1 1212.4L2195.9 1208.2L2196.7 1204.1L2197.5 1200L2198.3 1196L2199.1 1192L2199.9 1188.1L2200.7 1184.2L2201.5 1180.3L2202.3 1176.4L2203.1 1172.6L2203.9 1168.8L2204.7 1165L2205.5 1161.2L2206.3 1157.4L2207.1 1153.6L2207.9 1149.9L2208.7 1146.1L2209.5 1142.3L2210.3 1138.5L2211.1 1134.7L2211.9 1130.8L2212.7 1126.9L2213.5 1123L2214.3 1119.1L2215.1 1115.1L2215.9 1111.1L2216.7 1107.1L2217.5 1103L2218.3 1098.8L2219.1 1094.6L2219.9 1090.3L2220.7 1086L2221.6 1081.7L2222.4 1077.3L2223.2 1072.8L2224 1068.3L2224.8 1063.7L2225.6 1059L2226.4 1054.4L2227.2 1049.6L2228 1044.9L2228.8 1040L2229.6 1035.2L2230.4 1030.3L2231.2 1025.4L2232 1020.5L2232.8 1015.5L2233.6 1010.6L2234.4 1005.6L2235.2 1000.6L2236 995.7L2236.8 990.8L2237.6 985.9L2238.4 981.1L2239.2 976.3L2240 971.6L2240.8 966.9L2241.6 962.4L2242.4 957.9L2243.2 953.6L2244 949.4L2244.8 945.3L2245.6 941.4L2246.4 937.7L2247.2 934.2L2248 930.9L2248.8 927.8L2249.6 924.9L2250.4 922.3L2251.2 920L2252 918" fill="none" stroke="#77AC30" stroke-width="4.7" stroke-linejoin="round" stroke-linecap="butt"/>
<path d="M207.3 1149L208.2 1148.9L209 1148.8L209.9 1148.7L210.7 1148.6L211.6 1148.5L212.4 1148.4L213.3 1148.3L214.1 1148.2L215 1148.2L215.8 1148.1L216.7 1148L217.5 1147.9L218.4 1147.8L219.2 1147.8L220.1 1147.7L220.9 1147.6L221.8 1147.5L222.6 1147.5L223.5 1147.4L224.3 1147.3L225.2 1147.3L226 1147.2L226.9 1147.1L227.7 1147.1L228.6 1147L229.4 1147L230.3 1146.9L231.2 1146.9L232 1146.9L232.9 1146.8L233.7 1146.8L234.6 1146.8L235.4 1146.7L236.3 1146.7L237.1 1146.7L238 1146.7L238.8 1146.7L239.7 1146.7L240.5 1146.7L241.4 1146.7L242.2 1146.7L243.1 1146.7L243.9 1146.7L244.8 1146.7L245.6 1146.7L246.5 1146.7L247.3 1146.8L248.2 1146.8L249 1146.8L249.9 1146.9L250.7 1146.9L251.6 1146.9L252.5 1147L253.3 1147L254.2 1147.1L255 1147.1L255.9 1147.2L256.7 1147.2L257.6 1147.3L258.4 1147.4L259.3 1147.4L260.1 1147.5L261 1147.6L261.8 1147.7L262.7 1147.7L263.5 1147.8L264.4 1147.9L265.2 1148L266.1 1148.1L266.9 1148.1L267.8 1148.2L268.6 1148.3L269.5 1148.4L270.3 1148.5L271.2 1148.6L272 1148.7L272.9 1148.8L273.7 1148.9L274.6 1149L275.5 1149L276.3 1149.1L277.2 1149.2L278 1149.3L278.9 1149.4L279.7 1149.5L280.6 1149.6L281.4 1149.7L282.3 1149.8L283.1 1149.8L284 1149.9L284.8 1150L285.7 1150.1L286.5 1150.2L287.4 1150.2L288.2 1150.3L289.1 1150.4L289.9 1150.5L290.8 1150.5L291.6 1150.6L292.5 1150.7L293.3 1150.7L294.2 1150.8L295 1150.8L295.9 1150.9L296.7 1150.9L297.6 1151L298.5 1151L299.3 1151.1L300.2 1151.1L301 1151.1L301.9 1151.2L302.7 1151.2L303.6 1151.2L304.4 1151.2L305.3 1151.2L306.1 1151.3L307 1151.3L307.8 1151.3L308.7 1151.3L309.5 1151.3L310.4 1151.3L311.2 1151.2L312.1 1151.2L312.9 1151.2L313.8 1151.2L314.6 1151.2L315.5 1151.1L316.3 1151.1L317.2 1151.1L318 1151L318.9 1151L319.8 1150.9L320.6 1150.9L321.5 1150.8L322.3 1150.8L323.2 1150.7L324 1150.7L324.9 1150.6L325.7 1150.5L326.6 1150.5L327.4 1150.4L328.3 1150.3L329.1 1150.3L330 1150.2L330.8 1150.1L331.7 1150L332.5 1149.9L333.4 1149.9L334.2 1149.8L335.1 1149.7L335.9 1149.6L336.8 1149.5L337.6 1149.4L338.5 1149.3L339.3 1149.2L340.2 1149.2L341 1149.1L341.9 1149L342.8 1148.9L343.6 1148.8L344.5 1148.7L345.3 1148.6L346.2 1148.5L347 1148.4L347.9 1148.3L348.7 1148.2L349.6 1148.2L350.4 1148.1L351.3 1148L352.1 1147.9L353 1147.8L353.8 1147.8L354.7 1147.7L355.5 1147.6L356.4 1147.5L357.2 1147.5L358.1 1147.4L358.9 1147.3L359.8 1147.3L360.6 1147.2L361.5 1147.1L362.3 1147.1L363.2 1147L364 1147L364.9 1146.9L365.8 1146.9L366.6 1146.9L367.5 1146.8L368.3 1146.8L369.2 1146.8L370 1146.7L370.9 1146.7L371.7 1146.7L372.6 1146.7L373.4 1146.7L374.3 1146.7L375.1 1146.7L376 1146.7L376.8 1146.7L377.7 1146.7L378.5 1146.7L379.4 1146.7L380.2 1146.7L381.1 1146.7L381.9 1146.8L382.8 1146.8L383.6 1146.8L384.5 1146.9L385.3 1146.9L386.2 1146.9L387.1 1147L387.9 1147L388.8 1147.1L389.6 1147.1L390.5 1147.2L391.3 1147.2L392.2 1147.3L393 1147.4L393.9 1147.4L394.7 1147.5L395.6 1147.6L396.4 1147.7L397.3 1147.7L398.1 1147.8L399 1147.9L399.8 1148L400.7 1148.1L401.5 1148.1L402.4 1148.2L403.2 1148.3L404.1 1148.4L404.9 1148.5L405.8 1148.6L406.6 1148.7L407.5 1148.8L408.3 1148.9L409.2 1149L410.1 1149L410.9 1149.1L411.8 1149.2L412.6 1149.3L413.5 1149.4L414.3 1149.5L415.2 1149.6L416 1149.7L416.9 1149.8L417.7 1149.8L418.6 1149.9L419.4 1150L420.3 1150.1L421.1 1150.2L422 1150.2L422.8 1150.3L423.7 1150.4L424.5 1150.5L425.4 1150.5L426.2 1150.6L427.1 1150.7L427.9 1150.7L428.8 1150.8L429.6 1150.8L430.5 1150.9L431.3 1150.9L432.2 1151L433.1 1151L433.9 1151.1L434.8 1151.1L435.6 1151.1L436.5 1151.2L437.3 1151.2L438.2 1151.2L439 1151.2L439.9 1151.2L440.7 1151.3L441.6 1151.3L442.4 1151.3L443.3 1151.3L444.1 1151.3L445 1151.3L445.8 1151.2L446.7 1151.2L447.5 1151.2L448.4 1151.2L449.2 1151.2L450.1 1151.1L450.9 1151.1L451.8 1151.1L452.6 1151L453.5 1151L454.4 1150.9L455.2 1150.9L456.1 1150.8L456.9 1150.8L457.8 1150.7L458.6 1150.7L459.5 1150.6L460.3 1150.5L461.2 1150.5L462 1150.4L462.9 1150.3L463.7 1150.3L464.6 1150.2L465.4 1150.1L466.3 1150L467.1 1149.9L468 1149.9L468.8 1149.8L469.7 1149.7L470.5 1149.6L471.4 1149.5L472.2 1149.4L473.1 1149.3L473.9 1149.2L474.8 1149.2L475.6 1149.1L476.5 1149L477.4 1148.9L478.2 1148.8L479.1 1148.7L479.9 1148.6L480.8 1148.5L481.6 1148.4L482.5 1148.3L483.3 1148.2L484.2 1148.2L485 1148.1L485.9 1148L486.7 1147.9L487.6 1147.8L488.4 1147.8L489.3 1147.7L490.1 1147.6L491 1147.5L491.8 1147.5L492.7 1147.4L493.5 1147.3L494.4 1147.3L495.2 1147.2L496.1 1147.1L496.9 1147.1L497.8 1147L498.6 1147L499.5 1146.9L500.4 1146.9L501.2 1146.9L502.1 1146.8L502.9 1146.8L503.8 1146.8L504.6 1146.7L505.5 1146.7L506.3 1146.7L507.2 1146.7L508 1146.7L508.9 1146.7L509.7 1146.7L510.6 1146.7L511.4 1146.7L512.3 1146.7L513.1 1146.7L514 1146.7L514.8 1146.7L515.7 1146.7L516.5 1146.8L517.4 1146.8L518.2 1146.8L519.1 1146.9L519.9 1146.9L520.8 1146.9L521.7 1147L522.5 1147L523.4 1147.1L524.2 1147.1L525.1 1147.2L525.9 1147.2L526.8 1147.3L527.6 1147.4L528.5 1147.4L529.3 1147.5L530.2 1147.6L531 1147.7L531.9 1147.7L532.7 1147.8L533.6 1147.9L534.4 1148L535.3 1148.1L536.1 1148.1L537 1148.2L537.8 1148.3L538.7 1148.4L539.5 1148.5L540.4 1148.6L541.2 1148.7L542.1 1148.8L542.9 1148.9L543.8 1149L544.7 1149L545.5 1149.1L546.4 1149.2L547.2 1149.3L548.1 1149.4L633.5 1118.5L634.5 1122L635.5 1124.8L636.5 1127.6L637.5 1130.6L638.5 1133.5L639.5 1136.5L640.5 1139.5L641.5 1142.6L642.5 1145.6L643.5 1148.7L644.5 1151.8L645.5 1154.9L646.5 1157.9L647.5 1161L648.5 1164L649.5 1167L650.5 1170L651.5 1172.9L652.5 1175.8L653.5 1178.7L654.5 1181.4L655.5 1184.1L656.5 1186.8L657.5 1189.4L658.5 1191.9L659.5 1194.3L660.5 1196.6L661.5 1198.8L662.5 1200.9L663.5 1203L664.5 1204.9L665.5 1206.7L666.5 1208.4L667.5 1209.9L668.5 1211.4L669.5 1212.7L670.5 1213.9L671.5 1214.9L672.5 1215.9L673.5 1216.7L674.5 1217.3L675.5 1217.9L676.5 1218.2L677.5 1218.5L678.5 1218.6L679.5 1218.5L680.5 1218.4L681.5 1218L682.5 1217.6L683.5 1217L684.5 1216.2L685.5 1215.3L686.5 1214.3L687.5 1213.1L688.5 1211.8L689.5 1210.4L690.5 1208.9L691.5 1207.2L692.5 1205.4L693.5 1203.5L694.5 1201.5L695.5 1199.3L696.5 1197.1L697.5 1194.8L698.5 1192.3L699.5 1189.8L700.5 1187.2L701.5 1184.5L702.5 1181.8L703.5 1179L704.5 1176.1L705.5 1173.1L706.5 1170.1L707.5 1167.1L708.5 1164L709.5 1160.9L710.5 1157.8L711.5 1154.7L712.5 1151.5L713.5 1148.4L714.5 1145.2L715.5 1142L716.5 1138.9L717.5 1135.8L718.5 1132.7L719.5 1129.7L720.5 1126.6L721.5 1123.7L722.5 1120.8L723.5 1117.9L724.5 1115.1L725.5 1112.4L726.5 1109.8L727.5 1107.2L728.5 1104.7L729.5 1102.3L730.5 1100.1L731.5 1097.9L732.5 1095.8L733.5 1093.8L734.5 1092L735.5 1090.2L736.5 1088.6L737.5 1087.2L738.5 1085.8L739.5 1084.6L740.5 1083.5L741.5 1082.5L742.5 1081.7L743.5 1081L744.5 1080.5L745.5 1080.1L746.5 1079.8L747.5 1079.7L748.5 1079.8L749.5 1080L750.5 1080.3L751.5 1080.7L752.5 1081.3L753.5 1082.1L754.5 1083L755.5 1084L756.5 1085.1L757.5 1086.4L758.5 1087.8L759.5 1089.4L760.5 1091L761.5 1092.8L762.5 1094.7L763.5 1096.7L764.5 1098.8L765.5 1101.1L766.5 1103.4L767.5 1105.8L768.5 1108.3L769.5 1110.9L770.5 1113.5L771.5 1116.3L772.5 1119.1L773.5 1121.9L774.5 1124.9L775.5 1127.8L776.5 1130.8L777.5 1133.9L778.5 1137L779.5 1140.1L780.5 1143.2L781.5 1146.3L782.5 1149.5L783.5 1152.6L784.5 1155.7L785.5 1158.8L786.5 1161.9L787.5 1165L788.5 1168L789.5 1171L790.5 1173.9L791.5 1176.8L792.5 1179.6L793.5 1182.4L794.5 1185.1L795.5 1187.7L796.5 1190.2L797.5 1192.6L798.5 1195L799.5 1197.3L800.5 1199.4L801.5 1201.5L802.5 1203.4L803.5 1205.2L804.5 1206.9L805.5 1208.5L806.5 1210L807.5 1211.3L808.5 1212.5L809.5 1213.5L810.5 1214.5L811.5 1215.3L812.5 1215.9L813.5 1216.4L814.5 1216.8L815.5 1217L816.5 1217.1L817.5 1217L818.5 1216.9L819.5 1216.5L820.5 1216L821.5 1215.4L822.5 1214.7L823.5 1213.8L824.5 1212.8L825.5 1211.6L826.5 1210.4L827.5 1209L828.5 1207.5L829.5 1205.8L830.5 1204.1L831.5 1202.2L832.5 1200.2L833.5 1198.1L834.5 1196L835.5 1193.7L836.5 1191.3L837.5 1188.9L838.5 1186.3L839.5 1183.7L840.5 1181L841.5 1178.3L842.5 1175.5L843.5 1172.6L844.5 1169.7L845.5 1166.7L846.5 1163.7L847.5 1160.7L848.5 1157.7L849.5 1154.6L850.5 1151.6L851.5 1148.5L852.5 1145.4L853.5 1142.3L854.5 1139.3L855.5 1136.3L856.5 1133.3L857.5 1130.3L858.5 1127.3L859.5 1124.5L860.5 1121.6L861.5 1118.8L862.5 1116.1L863.5 1113.5L864.5 1110.9L865.5 1108.4L866.5 1106L867.5 1103.7L868.5 1101.4L869.5 1099.3L870.5 1097.3L871.5 1095.3L872.5 1093.5L873.5 1091.8L874.5 1090.2L875.5 1088.8L876.5 1087.4L877.5 1086.2L878.5 1085.1L879.5 1084.2L880.5 1083.4L881.5 1082.7L882.5 1082.1L883.5 1081.7L884.5 1081.5L885.5 1081.3L886.5 1081.3L887.5 1081.5L888.5 1081.8L889.5 1082.2L890.5 1082.8L891.5 1083.5L892.5 1084.3L893.5 1085.3L894.5 1086.4L895.5 1087.6L896.5 1089L897.5 1090.4L898.5 1092L899.5 1093.8L900.5 1095.6L901.5 1097.5L902.5 1099.6L903.5 1101.7L904.5 1104L905.5 1106.3L906.5 1108.7L907.5 1111.3L908.5 1113.8L909.5 1116.5L910.5 1119.2L911.5 1122L912.5 1124.9L913.5 1127.7L914.5 1130.7L915.5 1133.6L916.5 1136.6L917.5 1139.7L918.5 1142.7L919.5 1145.8L920.5 1148.8L921.5 1151.9L922.5 1154.9L923.5 1158L924.5 1161L925.5 1164L926.5 1167L927.5 1169.9L928.5 1172.8L929.5 1175.6L930.5 1178.4L931.5 1181.1L932.5 1183.7L933.5 1186.3L934.5 1188.8L935.5 1191.2L936.5 1193.5L937.5 1195.7L938.5 1197.8L939.5 1199.8L940.5 1201.7L941.5 1203.5L942.5 1205.2L943.5 1206.8L944.5 1208.2L945.5 1209.6L946.5 1210.8L947.5 1211.8L948.5 1212.8L949.5 1213.6L950.5 1214.2L951.5 1214.7L952.5 1215.1L953.5 1215.4L954.5 1215.5L955.5 1215.5L956.5 1215.3L957.5 1215L958.5 1214.6L959.5 1214L960.5 1213.3L961.5 1212.4L962.5 1211.5L963.5 1210.4L964.5 1209.2L965.5 1207.8L966.5 1206.4L967.5 1204.8L968.5 1203.1L969.5 1201.3L970.5 1199.4L971.5 1197.4L972.5 1195.2L973.5 1193L974.5 1190.7L975.5 1188.3L976.5 1185.9L977.5 1183.3L978.5 1180.7L979.5 1178.1L980.5 1175.3L981.5 1172.5L982.5 1169.7L983.5 1166.8L984.5 1163.9L985.5 1161L986.5 1158L987.5 1155L988.5 1152L989.5 1149L990.5 1146L991.5 1143L992.5 1140L993.5 1137.1L994.5 1134.1L995.5 1131.2L996.5 1128.3L997.5 1125.5L998.5 1122.7L999.5 1120L1000.5 1117.3L1001.5 1114.7L1002.5 1112.2L1003.5 1109.7L1004.5 1107.3L1005.5 1105.1L1006.5 1102.9L1007.5 1100.7L1008.5 1098.7L1009.5 1096.8L1010.5 1095L1011.5 1093.4L1012.5 1091.8L1013.5 1090.3L1014.5 1089L1015.5 1087.8L1016.5 1086.7L1017.5 1085.8L1018.5 1084.9L1019.5 1084.2L1020.5 1083.7L1021.5 1083.3L1022.5 1083L1023.5 1082.8L1024.5 1082.8L1025.5 1082.9L1026.5 1083.2L1027.5 1083.6L1028.5 1084.1L1029.5 1084.8L1030.5 1085.5L1031.5 1086.5L1032.5 1087.5L1033.5 1088.7L1034.5 1090L1035.5 1091.4L1036.5 1093L1037.5 1094.6L1038.5 1096.4L1039.5 1098.3L1040.5 1100.2L1041.5 1102.3L1042.5 1104.5L1043.5 1106.8L1044.5 1109.1L1045.5 1111.6L1046.5 1114.1L1047.5 1116.7L1048.5 1119.3L1049.5 1122L1050.5 1124.8L1051.5 1127.6L1052.5 1130.5L1053.5 1133.4L1054.5 1136.3L1055.5 1139.2L1056.5 1142.2L1057.5 1145.2L1058.5 1148.2L1059.5 1151.2L1060.5 1154.2L1061.5 1157.1L1062.5 1160.1L1063.5 1163L1064.5 1165.9L1065.5 1168.8L1066.5 1171.6L1067.5 1174.4L1068.5 1177.1L1069.5 1179.7L1070.5 1182.3L1071.5 1184.9L1072.5 1187.3L1073.5 1189.7L1074.5 1191.9L1075.5 1194.1L1076.5 1196.2L1077.5 1198.2L1078.5 1200.1L1079.5 1201.9L1080.5 1203.6L1081.5 1205.1L1082.5 1206.5L1083.5 1207.9L1084.5 1209L1085.5 1210.1L1086.5 1211L1087.5 1211.8L1088.5 1212.5L1089.5 1213.1L1090.5 1213.5L1091.5 1213.7L1092.5 1213.9L1093.5 1213.9L1094.5 1213.7L1095.5 1213.5L1096.5 1213L1097.5 1212.5L1098.5 1211.8L1099.5 1211L1100.5 1210.1L1101.5 1209.1L1102.5 1207.9L1103.5 1206.6L1104.5 1205.1L1105.5 1203.6L1106.5 1202L1107.5 1200.2L1108.5 1198.3L1109.5 1196.4L1110.5 1194.3L1111.5 1192.1L1112.5 1189.9L1113.5 1187.6L1114.5 1185.2L1115.5 1182.7L1116.5 1180.1L1117.5 1177.5L1118.5 1174.8L1119.5 1172.1L1120.5 1169.3L1121.5 1166.5L1122.5 1163.6L1123.5 1160.7L1124.5 1157.8L1125.5 1154.9L1126.5 1152L1127.5 1149L1128.5 1146.1L1129.5 1143.1L1130.5 1140.2L1131.5 1137.3L1132.5 1134.4L1133.5 1131.6L1134.5 1128.8L1135.5 1126L1136.5 1123.3L1137.5 1120.6L1138.5 1118L1139.5 1115.5L1140.5 1113L1141.5 1110.6L1142.5 1108.3L1143.5 1106L1144.5 1103.9L1145.5 1101.9L1146.5 1099.9L1147.5 1098.1L1148.5 1096.3L1149.5 1094.7L1150.5 1093.2L1151.5 1091.8L1152.5 1090.5L1153.5 1089.4L1154.5 1088.4L1155.5 1087.5L1156.5 1086.7L1157.5 1086L1158.5 1085.5L1159.5 1085.2L1160.5 1084.9L1161.5 1084.8L1162.5 1084.8L1163.5 1085L1164.5 1085.3L1165.5 1085.7L1166.5 1086.2L1167.5 1086.9L1168.5 1087.7L1169.5 1088.6L1170.5 1089.7L1171.5 1090.8L1172.5 1092.1L1173.5 1093.5L1174.5 1095L1175.5 1096.6L1176.5 1098.4L1177.5 1100.2L1178.5 1102.1L1179.5 1104.1L1180.5 1106.2L1181.5 1108.4L1182.5 1110.7L1183.5 1113.1L1184.5 1115.5L1185.5 1118L1186.5 1120.6L1187.5 1123.2L1188.5 1125.9L1189.5 1128.6L1190.5 1131.4L1191.5 1134.2L1192.5 1137L1193.5 1139.8L1194.5 1142.7L1195.5 1145.6L1196.5 1148.5L1197.5 1151.4L1198.5 1154.3L1199.5 1157.1L1200.5 1160L1201.5 1162.8L1202.5 1165.6L1203.5 1168.4L1204.5 1171.1L1205.5 1173.8L1206.5 1176.5L1207.5 1179L1208.5 1181.6L1209.5 1184L1210.5 1186.4L1211.5 1188.7L1212.5 1190.9L1213.5 1193.1L1214.5 1195.1L1215.5 1197.1L1216.5 1198.9L1217.5 1200.7L1218.5 1202.4L1219.5 1203.9L1220.5 1205.3L1221.5 1206.7L1222.5 1207.9L1223.5 1208.9L1224.5 1209.9L1225.5 1210.7L1226.5 1211.4L1227.5 1212L1228.5 1212.5L1229.5 1212.8L1230.5 1213L1231.5 1213.1L1232.6 1213L1233.6 1212.9L1234.6 1212.7L1235.6 1212.6L1236.6 1212.5L1237.6 1212.3L1238.6 1212.2L1239.6 1212L1240.6 1211.9L1241.6 1211.7L1242.6 1211.5L1243.6 1211.4L1244.6 1211.2L1245.6 1211L1246.6 1210.8L1247.6 1210.6L1248.6 1210.4L1249.6 1210.1L1250.6 1209.9L1251.6 1209.7L1252.6 1209.5L1253.6 1209.2L1254.6 1209L1255.6 1208.8L1256.6 1208.5L1257.6 1208.3L1258.6 1208L1259.6 1207.8L1260.6 1207.5L1261.6 1207.2L1262.6 1207L1263.6 1206.7L1264.6 1206.4L1265.6 1206.1L1266.6 1205.8L1267.6 1205.4L1268.6 1205.1L1269.6 1204.8L1270.6 1204.4L1271.6 1204L1272.6 1203.7L1273.6 1203.3L1274.6 1202.9L1275.6 1202.5L1276.6 1202.1L1277.6 1201.6L1278.6 1201.2L1279.6 1200.8L1280.6 1200.3L1281.6 1199.9L1282.6 1199.4L1283.6 1199L1284.6 1198.5L1285.6 1198.1L1286.6 1197.6L1287.6 1197.1L1288.6 1196.6L1289.6 1196.2L1290.6 1195.7L1291.6 1195.2L1292.6 1194.7L1293.6 1194.2L1294.6 1193.7L1295.6 1193.2L1296.6 1192.7L1297.6 1192.2L1298.6 1191.7L1299.6 1191.2L1300.6 1190.7L1301.6 1190.2L1302.6 1189.7L1303.6 1189.2L1304.6 1188.7L1305.6 1188.2L1306.6 1187.6L1307.6 1187.1L1308.6 1186.5L1309.6 1186L1310.6 1185.4L1311.6 1184.8L1312.6 1184.2L1313.6 1183.7L1314.6 1183.1L1315.6 1182.5L1316.6 1181.9L1317.6 1181.2L1318.6 1180.6L1319.6 1180L1320.6 1179.4L1321.6 1178.8L1322.6 1178.1L1323.6 1177.5L1324.6 1176.9L1325.6 1176.2L1326.6 1175.6L1327.6 1175L1328.6 1174.3L1329.6 1173.7L1330.6 1173.1L1331.6 1172.4L1332.6 1171.8L1333.6 1171.2L1334.6 1170.6L1335.6 1169.9L1336.6 1169.3L1337.6 1168.7L1338.6 1168.1L1339.6 1167.5L1340.6 1166.9L1341.6 1166.3L1342.6 1165.7L1343.6 1165.1L1344.6 1164.5L1345.6 1163.9L1346.5 1163.3L1347.5 1162.8L1348.5 1162.2L1349.5 1161.6L1350.5 1161L1351.5 1160.4L1352.5 1159.9L1353.5 1159.3L1354.5 1158.7L1355.5 1158.1L1356.5 1157.6L1357.5 1157L1358.5 1156.4L1359.5 1155.8L1360.5 1155.3L1361.5 1154.7L1362.5 1154.1L1363.5 1153.6L1364.5 1153L1365.5 1152.4L1366.5 1151.8L1367.5 1151.3L1368.5 1150.7L1369.5 1150.1L1370.5 1149.6L1371.5 1149L1372.5 1148.4L1373.5 1147.9L1374.5 1147.3L1375.5 1146.7L1376.5 1146.1L1377.5 1145.6L1378.5 1145L1379.5 1144.4L1380.5 1143.8L1381.5 1143.3L1382.5 1142.7L1383.5 1142.1L1384.5 1141.6L1385.5 1141L1386.5 1140.4L1387.5 1139.8L1388.5 1139.3L1389.5 1138.7L1390.5 1138.1L1391.5 1137.5L1392.5 1136.9L1393.5 1136.4L1394.5 1135.8L1395.5 1135.2L1396.5 1134.6L1397.5 1134.1L1398.5 1133.5L1399.5 1132.9L1400.5 1132.3L1401.5 1131.8L1402.5 1131.2L1403.5 1130.6L1404.5 1130L1405.5 1129.5L1406.5 1128.9L1407.5 1128.3L1408.5 1127.7L1409.5 1127.2L1410.5 1126.6L1411.5 1126L1412.5 1125.4L1413.5 1124.9L1414.5 1124.3L1415.5 1123.7L1416.5 1123.1L1417.5 1122.6L1418.5 1122L1419.5 1121.4L1420.5 1120.9L1421.5 1120.3L1422.5 1119.7L1423.5 1119.1L1424.5 1118.6L1425.5 1118L1426.5 1117.4L1427.5 1116.8L1428.5 1116.2L1429.5 1115.7L1430.5 1115.1L1431.5 1114.5L1432.5 1113.9L1433.5 1113.3L1434.5 1112.7L1435.5 1112.1L1436.5 1111.5L1437.5 1110.9L1438.5 1110.3L1439.5 1109.7L1440.5 1109.1L1441.5 1108.5L1442.5 1107.9L1443.5 1107.3L1444.5 1106.8L1445.5 1106.2L1446.5 1105.6L1447.5 1105.1L1448.5 1104.5L1449.5 1104L1450.5 1103.5L1451.5 1103L1452.5 1102.5L1453.5 1102L1454.5 1101.5L1455.5 1101.1L1456.5 1100.6L1457.5 1100.1L1458.5 1099.7L1459.5 1099.2L1460.5 1098.8L1461.5 1098.3L1462.5 1097.8L1463.5 1097.4L1464.5 1096.9L1465.5 1096.5L1466.5 1096L1467.5 1095.6L1468.5 1095.2L1469.5 1094.8L1470.5 1094.3L1471.5 1093.9L1472.5 1093.5L1473.5 1093.2L1474.5 1092.8L1475.5 1092.4L1476.5 1092L1477.5 1091.7L1478.5 1091.4L1479.5 1091.1L1480.5 1090.7L1481.5 1090.5L1482.5 1090.2L1483.5 1089.9L1484.4 1089.7L1485.4 1089.4L1486.4 1089.2L1487.4 1089L1488.4 1088.8L1489.4 1088.6L1490.4 1088.4L1491.4 1088.1L1492.4 1087.9L1493.4 1087.7L1494.4 1087.6L1495.4 1087.4L1496.4 1087.2L1497.4 1087.1L1498.4 1086.9L1499.4 1086.8L1500.4 1086.7L1501.4 1086.6L1502.4 1086.6L1503.4 1086.5L1504.4 1086.5L1505.4 1086.5L1506.4 1086.6L1507.4 1086.6L1508.4 1086.7L1509.4 1086.8L1510.4 1086.9L1511.4 1087L1512.4 1087.1L1513.4 1087.2L1514.4 1087.4L1515.4 1087.5L1516.4 1087.7L1517.4 1087.8L1518.4 1088L1519.4 1088.2L1520.4 1088.4L1521.4 1088.6L1522.4 1088.8L1523.4 1089L1524.4 1089.2L1525.4 1089.4L1526.4 1089.6L1527.4 1089.8L1528.4 1090L1529.4 1090.3L1530.4 1090.6L1531.4 1090.9L1532.4 1091.2L1533.4 1091.6L1534.4 1091.9L1535.4 1092.3L1536.4 1092.7L1537.4 1093.1L1538.4 1093.5L1539.4 1094L1540.4 1094.4L1541.4 1094.8L1542.4 1095.3L1543.4 1095.7L1544.4 1096.1L1545.4 1096.5L1546.4 1096.9L1547.4 1097.3L1548.4 1097.7L1549.4 1098.1L1550.4 1098.5L1551.4 1099L1552.4 1099.4L1553.4 1099.8L1554.4 1100.2L1555.4 1100.6L1556.4 1101.1L1557.4 1101.5L1558.4 1101.9L1559.4 1102.4L1560.4 1102.8L1561.4 1103.3L1562.4 1103.7L1563.4 1104.2L1564.4 1104.6L1565.4 1105.1L1566.4 1105.5L1567.4 1106L1568.4 1106.5L1569.4 1106.9L1570.3 1107.2L1571.3 1107.2L1572.3 1107.1L1573.3 1107.1L1574.3 1107.1L1575.3 1107L1576.3 1107L1577.3 1107L1578.3 1106.9L1579.3 1106.9L1580.3 1106.9L1581.3 1106.8L1582.3 1106.8L1583.3 1106.8L1584.3 1106.7L1585.3 1106.7L1586.3 1106.7L1587.3 1106.6L1588.3 1106.6L1589.3 1106.6L1590.3 1106.6L1591.3 1106.5L1592.3 1106.5L1593.3 1106.5L1594.3 1106.4L1595.3 1106.4L1596.3 1106.4L1597.3 1106.4L1598.3 1106.3L1599.3 1106.3L1600.3 1106.3L1601.3 1106.3L1602.3 1106.2L1603.3 1106.2L1604.3 1106.2L1605.3 1106.2L1606.3 1106.1L1607.3 1106.1L1608.3 1106.1L1609.3 1106.1L1610.3 1106.1L1611.3 1106L1612.3 1106L1613.3 1106L1614.3 1106L1615.3 1106L1616.3 1105.9L1617.3 1105.9L1618.3 1105.9L1619.3 1105.9L1620.3 1105.8L1621.3 1105.8L1622.3 1105.8L1623.3 1105.8L1624.3 1105.8L1625.3 1105.7L1626.3 1105.7L1627.3 1105.7L1628.3 1105.7L1629.3 1105.7L1630.3 1105.6L1631.3 1105.6L1632.3 1105.6L1633.3 1105.6L1634.3 1105.6L1635.3 1105.5L1636.3 1105.5L1637.3 1105.5L1638.3 1105.5L1639.3 1105.5L1640.3 1105.5L1641.3 1105.4L1642.3 1105.4L1643.3 1105.4L1644.3 1105.4L1645.3 1105.4L1646.3 1105.4L1647.3 1105.4L1648.3 1105.4L1649.3 1105.4L1650.3 1105.4L1651.3 1105.4L1652.3 1105.3L1653.3 1105.3L1654.3 1105.3L1655.3 1105.3L1656.3 1105.4L1657.3 1105.5L1658.3 1105.7L1659.3 1105.8L1660.3 1106.1L1661.3 1106.3L1662.3 1106.6L1663.3 1106.9L1664.3 1107.2L1665.3 1107.5L1666.3 1107.8L1667.3 1108.1L1668.3 1108.4L1669.3 1108.7L1670.3 1109L1671.3 1109.2L1672.3 1109.5L1673.3 1109.7L1674.3 1109.8L1675.3 1109.9L1676.3 1110L1677.3 1110.2L1678.3 1110.3L1679.3 1110.4L1680.3 1110.5L1681.3 1110.6L1682.3 1110.8L1683.3 1110.9L1684.3 1111L1685.3 1111.1L1686.3 1111.2L1687.3 1111.3L1688.3 1111.4L1689.3 1111.4L1690.3 1111.5L1691.3 1111.6L1692.3 1111.6L1693.3 1111.7L1694.3 1111.7L1695.3 1111.8L1696.3 1111.8L1697.3 1111.8L1698.3 1111.8L1699.3 1111.8L1700.3 1111.8L1701.3 1111.8L1702.3 1111.7L1703.3 1111.7L1704.3 1111.6L1705.3 1111.5L1706.3 1111.4L1707.3 1111.3L1708.3 1111.2L1709.3 1111.1L1710.3 1111L1711.3 1110.8L1712.3 1110.7L1713.3 1110.5L1714.3 1110.4L1715.3 1110.2L1716.3 1110L1717.3 1109.8L1718.3 1109.7L1719.3 1109.5L1720.3 1109.3L1721.3 1109.1L1722.3 1109L1723.3 1108.8L1724.3 1108.6L1725.3 1108.4L1726.3 1108.2L1727.3 1107.9L1728.3 1107.7L1729.3 1107.4L1730.3 1107.1L1731.3 1106.8L1732.3 1106.5L1733.3 1106.2L1734.3 1105.9L1735.3 1105.5L1736.3 1105.2L1737.3 1104.9L1738.3 1104.5L1739.3 1104.2L1740.3 1103.8L1741.3 1103.5L1742.3 1103.1L1743.3 1102.8L1744.3 1102.4L1745.3 1102.1L1746.3 1101.7L1747.3 1101.4L1748.3 1101L1749.3 1100.7L1750.3 1100.3L1751.3 1099.9L1752.3 1099.5L1753.3 1099.1L1754.3 1098.7L1755.3 1098.3L1756.3 1097.9L1757.3 1097.5L1758.3 1097.1L1759.3 1096.6L1760.3 1096.2L1761.3 1095.8L1762.3 1095.3L1763.3 1094.9L1764.3 1094.4L1765.3 1093.9L1766.3 1093.5L1767.3 1093L1768.3 1092.4L1769.3 1091.9L1770.3 1091.4L1771.3 1090.8L1772.3 1090.3L1773.3 1089.7L1774.3 1089.2L1775.3 1088.6L1776.2 1088L1777.2 1087.5L1778.2 1086.9L1779.2 1086.3L1780.2 1085.7L1781.2 1085.1L1782.2 1084.6L1783.2 1084L1784.2 1083.4L1785.2 1082.8L1786.2 1082.2L1787.2 1081.6L1788.2 1081L1789.2 1080.4L1790.2 1079.8L1791.2 1079.1L1792.2 1078.5L1793.2 1077.8L1794.2 1077.2L1795.2 1076.6L1796.2 1075.9L1797.2 1075.3L1798.2 1074.7L1799.2 1074.1L1800.2 1073.5L1801.2 1072.9L1802.2 1072.4L1803.2 1071.9L1804.2 1071.3L1805.2 1070.9L1806.2 1070.4L1807.2 1069.9L1808.2 1069.4L1809.2 1068.9L1810.2 1068.4L1811.2 1067.9L1812.2 1067.5L1813.2 1067L1814.2 1066.6L1815.2 1066.1L1816.2 1065.7L1817.2 1065.3L1818.2 1064.9L1819.2 1064.5L1820.2 1064.2L1821.2 1063.9L1822.2 1063.6L1823.2 1063.3L1824.2 1063.1L1825.2 1062.9L1826.2 1062.7L1827.2 1062.5L1828.2 1062.3L1829.2 1062.2L1830.2 1062L1831.2 1061.8L1832.2 1061.7L1833.2 1061.6L1834.2 1061.4L1835.2 1061.3L1836.2 1061.2L1837.2 1061.1L1838.2 1061L1839.2 1060.9L1840.2 1060.9L1841.2 1060.8L1842.2 1060.8L1843.2 1060.8L1844.2 1060.9L1845.2 1060.9L1846.2 1061L1847.2 1061.1L1848.2 1061.2L1849.2 1061.4L1850.2 1061.6L1851.2 1061.8L1852.2 1062L1853.2 1062.2L1854.2 1062.4L1855.2 1062.7L1856.2 1062.9L1857.2 1063.2L1858.2 1063.5L1859.2 1063.8L1860.2 1064.1L1861.2 1064.4L1862.2 1064.7L1863.2 1065L1864.2 1065.3L1865.2 1065.6L1866.2 1065.9L1867.2 1066.3L1868.2 1066.6L1869.2 1067L1870.2 1067.4L1871.2 1067.9L1872.2 1068.3L1873.2 1068.8L1874.2 1069.3L1875.2 1069.9L1876.2 1070.4L1877.2 1070.9L1878.2 1071.5L1879.2 1072.1L1880.2 1072.6L1881.2 1073.2L1882.2 1073.8L1883.2 1074.3L1884.2 1074.9L1885.2 1075.4L1886.2 1075.9L1887.2 1076.5L1888.2 1077L1889.2 1077.5L1890.2 1078.1L1891.2 1078.6L1892.2 1079.2L1893.2 1079.7L1894.2 1080.3L1895.2 1080.8L1896.2 1081.4L1897.2 1082L1898.2 1082.5L1899.2 1083.1L1900.2 1083.6L1901.2 1084.2L1902.2 1084.7L1903.2 1085.3L1904.2 1085.9L1905.2 1086.4L1906.2 1086.9L1907.2 1087.5L1908.2 1088L1909.2 1088.6L1910.2 1089.1L1911.2 1089.7L1912.2 1090.2L1913.2 1090.7L1914.2 1091.3L1915.2 1091.8L1916.2 1092.3L1917.2 1092.9L1918.2 1093.4L1919.2 1093.9L1920.2 1094.4L1921.2 1094.9L1922.2 1095.4L1923.2 1095.9L1924.2 1096.3L1925.2 1096.8L1926.2 1097.3L1927.2 1097.8L1928.2 1098.3L1929.2 1098.7L1930.2 1099.2L1931.2 1099.7L1932.2 1100.1L1933.2 1100.6L1934.2 1101L1935.2 1101.4L1936.2 1101.9L1937.2 1102.3L1938.2 1102.7L1939.2 1103.1L1940.2 1103.4L1941.2 1103.8L1942.2 1104.2L1943.2 1104.5L1944.2 1104.9L1945.2 1105.2L1946.2 1105.6L1947.2 1105.9L1948.2 1106.3L1949.2 1106.6L1950.2 1107L1951.2 1107.3L1952.2 1107.6L1953.2 1107.9L1954.2 1108.2L1955.2 1108.5L1956.2 1108.7L1957.2 1109L1958.2 1109.2L1959.2 1109.4L1960.2 1109.6L1961.2 1109.8L1962.2 1109.9L1963.2 1110.1L1964.2 1110.3L1965.2 1110.4L1966.2 1110.6L1967.2 1110.7L1968.2 1110.9L1969.2 1111L1970.2 1111.2L1971.2 1111.3L1972.2 1111.5L1973.2 1111.6L1974.2 1111.7L1975.2 1111.9L1976.2 1112L1977.2 1112.1L1978.2 1112.2L1979.2 1112.3L1980.2 1112.4L1981.2 1112.5L1982.2 1112.6L1983.2 1112.6L1984.2 1112.7L1985.2 1112.7L1986.2 1112.8L1987.2 1112.8L1988.2 1112.8L1989.2 1112.9L1990.2 1112.9L1991.2 1112.8L1992.2 1112.8L1993.2 1112.8L1994.2 1112.7L1995.2 1112.7L1996.2 1112.6L1997.2 1112.5L1998.2 1112.4L1999.2 1112.3L2000.2 1112.1L2001.2 1112L2002.2 1111.9L2003.2 1111.7L2004.1 1111.6L2005.1 1111.4L2006.1 1111.2L2007.1 1111L2008.1 1110.8L2009.1 1110.6L2010.1 1110.4L2011.1 1110.2L2012.1 1110L2013.1 1109.8L2014.1 1109.6L2015.1 1109.4L2016.1 1109.2L2017.1 1108.9L2018.1 1108.7L2019.1 1108.5L2020.1 1108.3L2021.1 1108L2022.1 1107.8L2023.1 1107.6L2024.1 1107.3L2025.1 1107.1L2026.1 1106.8L2027.1 1106.5L2028.1 1106.2L2029.1 1105.9L2030.1 1105.5L2031.1 1105.2L2032.1 1104.8L2033.1 1104.4L2034.1 1104.1L2035.1 1103.7L2036.1 1103.3L2037.1 1102.9L2038.1 1102.5L2039.1 1102.1L2040.1 1101.7L2041.1 1101.3L2042.1 1100.9L2043.1 1100.5L2044.1 1100.1L2045.1 1099.7L2046.1 1099.3L2047.1 1098.9L2048.1 1098.4L2049.1 1098L2050.1 1097.5L2051.1 1097.1L2052.1 1096.6L2053.1 1096.2L2054.1 1095.7L2055.1 1095.3L2056.1 1094.8L2057.1 1094.3L2058.1 1093.9L2059.1 1093.4L2060.1 1092.9L2061.1 1092.4L2062.1 1092L2063.1 1091.5L2064.1 1091L2065.1 1090.5L2066.1 1090.1L2067.1 1089.6L2068.1 1089.1L2069.1 1088.6L2070.1 1088.1L2071.1 1087.6L2072.1 1087.1L2073.1 1086.6L2074.1 1086.1L2075.1 1085.6L2076.1 1085.1L2077.1 1084.6L2078.1 1084.1L2079.1 1083.6L2080.1 1083.1L2081.1 1082.6L2082.1 1082L2083.1 1081.5L2084.1 1081L2085.1 1080.5L2086.1 1079.9L2087.1 1079.3L2088.1 1078.8L2089.1 1078.2L2090.1 1077.6L2091.1 1077L2092.1 1076.4L2093.1 1075.8L2094.1 1075.2L2095.1 1074.6L2096.1 1074.1L2097.1 1073.5L2098.1 1073L2099.1 1072.4L2100.1 1071.9L2101.1 1071.4L2102.1 1070.9L2103.1 1070.4L2104.1 1070L2105.1 1069.6L2106.1 1069.1L2107.1 1068.7L2108.1 1068.3L2109.1 1067.9L2110.1 1067.5L2111.1 1067L2112.1 1066.6L2113.1 1066.3L2114.1 1065.9L2115.1 1065.5L2116.1 1065.2L2117.1 1064.8L2118.1 1064.5L2119.1 1064.2L2120.1 1063.9L2121.1 1063.6L2122.1 1063.4L2123.1 1063.1L2124.1 1062.9L2125.1 1062.7L2126.1 1062.6L2127.1 1062.4L2128.1 1062.2L2129.1 1062L2130.1 1061.8L2131.1 1061.7L2132.1 1061.5L2133.1 1061.4L2134.1 1061.3L2135.1 1061.3L2136.1 1061.2L2137.1 1061.2L2138.1 1061.2L2139.1 1061.3L2140.1 1061.3L2141.1 1061.4L2142.1 1061.5L2143.1 1061.6L2144.1 1061.8L2145.1 1061.9L2146.1 1062.1L2147.1 1062.3L2148.1 1062.4L2149.1 1062.6L2150.1 1062.8L2151.1 1063L2152.1 1063.2L2153.1 1063.4L2154.1 1063.7L2155.1 1063.9L2156.1 1064.1L2157.1 1064.4L2158.1 1064.7L2159.1 1065L2160.1 1065.4L2161.1 1065.8L2162.1 1066.2L2163.1 1066.7L2164.1 1067.2L2165.1 1067.6L2166.1 1068.1L2167.1 1068.7L2168.1 1069.2L2169.1 1069.7L2170.1 1070.2L2171.1 1070.8L2172.1 1071.3L2173.1 1071.8L2174.1 1072.3L2175.1 1072.8L2176.1 1073.3L2177.1 1073.9L2178.1 1074.4L2179.1 1074.9L2180.1 1075.4L2181.1 1076L2182.1 1076.5L2183.1 1077.1L2184.1 1077.7L2185.1 1078.2L2186.1 1078.8L2187.1 1079.4L2188.1 1079.9L2189.1 1080.5L2190.1 1081.1L2191.1 1081.6L2192.1 1082.2L2193.1 1082.8L2194.1 1083.3L2195.1 1083.8L2196.1 1084.4L2197.1 1084.9L2198.1 1085.4L2199.1 1085.9L2200.1 1086.4L2201.1 1087L2202.1 1087.5L2203.1 1088L2204.1 1088.5L2205.1 1089L2206.1 1089.5L2207.1 1090L2208.1 1090.5L2209.1 1091L2210.1 1091.5L2211.1 1092L2212.1 1092.4L2213.1 1092.9L2214.1 1093.4L2215.1 1093.9L2216.1 1094.4L2217.1 1094.8L2218.1 1095.3L2219.1 1095.8L2220.1 1096.3L2221.1 1096.8L2222.1 1097.2L2223.1 1097.7L2224.1 1098.2L2225.1 1098.7L2226.1 1099.1L2227.1 1099.6L2228.1 1100.1L2229.1 1100.5L2230.1 1101L2231.1 1101.4L2232 1101.8L2233 1102.2L2234 1102.7L2235 1103L2236 1103.4L2237 1103.8L2238 1104.1L2239 1104.5L2240 1104.8L2241 1105.2L2242 1105.5L2243 1105.8L2244 1106.1L2245 1106.4L2246 1106.7L2247 1107L2248 1107.3L2249 1107.6L2250 1107.9L2251 1108.1L2252 1108.4" fill="none" stroke="#119EFF" stroke-width="4.7" stroke-linejoin="round" stroke-linecap="butt"/>
</g>
<path class="ax" d="M166.5 872.6H2291.8V1426.9H166.5ZM207.3 872.6V848.7M207.3 1426.9V1450.8M548.06 872.6V848.7M548.06 1426.9V1450.8M888.82 872.6V848.7M888.82 1426.9V1450.8M1229.58 872.6V848.7M1229.58 1426.9V1450.8M1570.34 872.6V848.7M1570.34 1426.9V1450.8M1911.1 872.6V848.7M1911.1 1426.9V1450.8M2251.86 872.6V848.7M2251.86 1426.9V1450.8M166.5 888.6H142.6M2291.8 888.6H2315.7M166.5 1053H142.6M2291.8 1053H2315.7M166.5 1217.6H142.6M2291.8 1217.6H2315.7M166.5 1382H142.6M2291.8 1382H2315.7"/>
<text class="tk" text-anchor="end" transform="translate(123.7 908.6) scale(1 1.04)">-0.5</text>
<text class="tk" text-anchor="end" transform="translate(123.7 1073) scale(1 1.04)">0.5</text>
<text class="tk" text-anchor="end" transform="translate(123.7 1237.6) scale(1 1.04)">0</text>
<text class="tk" text-anchor="end" transform="translate(123.7 1402) scale(1 1.04)">-0.5</text>
<text class="tk" text-anchor="middle" transform="translate(207.3 1520.6) scale(1 1.04)">0</text>
<text class="tk" text-anchor="middle" transform="translate(548.06 1520.6) scale(1 1.04)">2</text>
<text class="tk" text-anchor="middle" transform="translate(888.82 1520.6) scale(1 1.04)">4</text>
<text class="tk" text-anchor="middle" transform="translate(1229.58 1520.6) scale(1 1.04)">6</text>
<text class="tk" text-anchor="middle" transform="translate(1570.34 1520.6) scale(1 1.04)">8</text>
<text class="tk" text-anchor="middle" transform="translate(1911.1 1520.6) scale(1 1.04)">10</text>
<text class="tk" text-anchor="middle" transform="translate(2251.86 1520.6) scale(1 1.04)">12</text>
</g>
<g id="plot4">
<path class="gr" d="M218 1559.8V2099.6M558.76 1559.8V2099.6M899.52 1559.8V2099.6M1240.28 1559.8V2099.6M1581.04 1559.8V2099.6M1921.8 1559.8V2099.6M2262.56 1559.8V2099.6M177.6 1691H2302.5M177.6 1832.7H2302.5M177.6 1973.5H2302.5"/>
<clipPath id="cp4"><rect x="177.6" y="1559.8" width="2087.36" height="539.8"/></clipPath>
<g clip-path="url(#cp4)">
<path d="M1236 1800.6L1237 1805.5L1238 1810.4L1239 1815.4L1240 1820.4L1241 1825.4L1242 1830.5L1243 1835.5L1244 1840.6L1245 1845.6L1246 1850.6L1247 1855.6L1248 1860.5L1249 1865.4L1250 1870.2L1251 1875L1252 1879.6L1253 1884.2L1254 1888.7L1255 1893L1256 1897.3L1257 1901.4L1258 1905.3L1259 1909.2L1260 1912.8L1261 1916.4L1262 1919.7L1263 1922.9L1264 1925.9L1265 1928.7L1266 1931.3L1267 1933.7L1268 1935.9L1269 1937.9L1270 1939.7L1271.1 1941.3L1272.1 1942.6L1273.1 1943.8L1274.1 1944.7L1275.1 1945.4L1276.1 1945.8L1277.1 1946.1L1278.1 1946.1L1279.1 1945.8L1280.1 1945.4L1281.1 1944.6L1282.1 1943.7L1283.1 1942.5L1284.1 1941L1285.1 1939.3L1286.1 1937.4L1287.1 1935.3L1288.1 1932.9L1289.1 1930.3L1290.1 1927.6L1291.1 1924.6L1292.1 1921.4L1293.1 1918L1294.1 1914.4L1295.1 1910.7L1296.1 1906.8L1297.1 1902.7L1298.1 1898.5L1299.1 1894.1L1300.1 1889.6L1301.1 1885L1302.1 1880.3L1303.1 1875.4L1304.1 1870.5L1305.1 1865.5L1306.1 1860.4L1307.1 1855.3L1308.1 1850.1L1309.1 1844.9L1310.1 1839.6L1311.1 1834.4L1312.1 1829.1L1313.1 1823.9L1314.1 1818.7L1315.1 1813.5L1316.1 1808.3L1317.1 1803.2L1318.1 1798.2L1319.1 1793.3L1320.1 1788.4L1321.1 1783.6L1322.1 1779L1323.1 1774.5L1324.1 1770L1325.1 1765.8L1326.1 1761.7L1327.1 1757.7L1328.1 1753.9L1329.1 1750.3L1330.1 1746.9L1331.1 1743.6L1332.1 1740.6L1333.1 1737.7L1334.1 1735.1L1335.1 1732.7L1336.1 1730.5L1337.1 1728.5L1338.1 1726.7L1339.1 1725.2L1340.2 1724L1341.2 1722.9L1342.2 1722.1L1343.2 1721.6L1344.2 1721.3L1345.2 1721.2L1346.2 1721.4L1347.2 1721.8L1348.2 1722.5L1349.2 1723.4L1350.2 1724.5L1351.2 1725.9L1352.2 1727.5L1353.2 1729.4L1354.2 1731.4L1355.2 1733.7L1356.2 1736.2L1357.2 1738.9L1358.2 1741.8L1359.2 1744.9L1360.2 1748.2L1361.2 1751.7L1362.2 1755.4L1363.2 1759.2L1364.2 1763.2L1365.2 1767.3L1366.2 1771.6L1367.2 1776L1368.2 1780.6L1369.2 1785.2L1370.2 1790L1371.2 1794.8L1372.2 1799.7L1373.2 1804.7L1374.2 1809.8L1375.2 1814.9L1376.2 1820L1377.2 1825.2L1378.2 1830.4L1379.2 1835.6L1380.2 1840.7L1381.2 1845.9L1382.2 1851L1383.2 1856.1L1384.2 1861.1L1385.2 1866.1L1386.2 1871L1387.2 1875.8L1388.2 1880.6L1389.2 1885.2L1390.2 1889.7L1391.2 1894L1392.2 1898.3L1393.2 1902.4L1394.2 1906.3L1395.2 1910.1L1396.2 1913.7L1397.2 1917.1L1398.2 1920.3L1399.2 1923.4L1400.2 1926.2L1401.2 1928.9L1402.2 1931.3L1403.2 1933.5L1404.2 1935.5L1405.2 1937.3L1406.2 1938.8L1407.2 1940.1L1408.2 1941.2L1409.3 1942.1L1410.3 1942.6L1411.3 1943L1412.3 1943.1L1413.3 1943L1414.3 1942.6L1415.3 1942L1416.3 1941.2L1417.3 1940.1L1418.3 1938.8L1419.3 1937.3L1420.3 1935.6L1421.3 1933.6L1422.3 1931.4L1423.3 1929.1L1424.3 1926.5L1425.3 1923.7L1426.3 1920.7L1427.3 1917.5L1428.3 1914.2L1429.3 1910.7L1430.3 1907L1431.3 1903.2L1432.3 1899.2L1433.3 1895L1434.3 1890.8L1435.3 1886.4L1436.3 1881.9L1437.3 1877.3L1438.3 1872.6L1439.3 1867.8L1440.3 1863L1441.3 1858.1L1442.3 1853.1L1443.3 1848.1L1444.3 1843.1L1445.3 1838L1446.3 1833L1447.3 1827.9L1448.3 1822.9L1449.3 1817.8L1450.3 1812.8L1451.3 1807.9L1452.3 1803L1453.3 1798.2L1454.3 1793.5L1455.3 1788.8L1456.3 1784.2L1457.3 1779.8L1458.3 1775.5L1459.3 1771.3L1460.3 1767.2L1461.3 1763.3L1462.3 1759.5L1463.3 1755.9L1464.3 1752.4L1465.3 1749.1L1466.3 1746.1L1467.3 1743.2L1468.3 1740.4L1469.3 1737.9L1470.3 1735.6L1471.3 1733.6L1472.3 1731.7L1473.3 1730L1474.3 1728.6L1475.3 1727.4L1476.3 1726.5L1477.4 1725.7L1478.4 1725.2L1479.4 1724.9L1480.4 1724.9L1481.4 1725.1L1482.4 1725.5L1483.4 1726.2L1484.4 1727.1L1485.4 1728.2L1486.4 1729.5L1487.4 1731.1L1488.4 1732.8L1489.4 1734.8L1490.4 1737L1491.4 1739.4L1492.4 1742L1493.4 1744.8L1494.4 1747.8L1495.4 1750.9L1496.4 1754.2L1497.4 1757.7L1498.4 1761.4L1499.4 1765.2L1500.4 1769.2L1501.4 1773.3L1502.4 1777.5L1503.4 1781.8L1504.4 1786.3L1505.4 1790.8L1506.4 1795.4L1507.4 1800.1L1508.4 1804.9L1509.4 1809.7L1510.4 1814.6L1511.4 1819.6L1512.4 1824.5L1513.4 1829.5L1514.4 1834.5L1515.4 1839.4L1516.4 1844.4L1517.4 1849.3L1518.4 1854.2L1519.4 1859.1L1520.4 1863.8L1521.4 1868.6L1522.4 1873.2L1523.4 1877.8L1524.4 1882.2L1525.4 1886.6L1526.4 1890.8L1527.4 1895L1528.4 1898.9L1529.4 1902.8L1530.4 1906.5L1531.4 1910L1532.4 1913.4L1533.4 1916.5L1534.4 1919.6L1535.4 1922.4L1536.4 1925L1537.4 1927.4L1538.4 1929.7L1539.4 1931.7L1540.4 1933.5L1541.4 1935.1L1542.4 1936.5L1543.4 1937.6L1544.4 1938.6L1545.4 1939.3L1546.5 1939.7L1547.5 1940L1548.5 1940L1549.5 1939.8L1550.5 1939.3L1551.5 1938.6L1552.5 1937.7L1553.5 1936.5L1554.5 1935.2L1555.5 1933.6L1556.5 1931.8L1557.5 1929.7L1558.5 1927.5L1559.5 1925L1560.5 1922.4L1561.5 1919.5L1562.5 1916.5L1563.5 1913.3L1564.5 1909.9L1565.5 1906.4L1566.5 1902.6L1567.5 1898.8L1568.5 1894.8L1569.5 1890.6L1570.5 1886.3L1571.5 1882L1572.5 1877.5L1573.5 1872.9L1574.5 1868.2L1575.5 1863.5L1576.5 1858.7L1577.5 1853.8L1578.5 1848.9L1579.5 1843.9L1580.5 1839L1580.5 1839L1581.4 1862.9L1631.4 1858.8L1666.5 1856.7L1666.6 1597.3L1666.6 1660" fill="none" stroke="#77AC30" stroke-width="4.4" stroke-linejoin="miter"/>
<g fill="none" stroke="#77AC30" stroke-linejoin="round" stroke-linecap="round">
<path d="M1667.6 1600L1668.1 1613.4" stroke-width="4.5"/>
<path d="M1668.1 1613.4L1668.6 1625.5L1669.1 1636.5L1669.6 1647.1" stroke-width="5"/>
<path d="M1669.6 1647.1L1670.1 1656.1L1670.6 1662.1" stroke-width="5.5"/>
<path d="M1670.6 1662.1L1671.1 1666.9L1671.6 1671.1" stroke-width="6"/>
<path d="M1671.6 1671.1L1672.1 1674.7" stroke-width="6.5"/>
<path d="M1672.1 1674.7L1672.6 1677.7L1673.1 1680.3" stroke-width="7"/>
<path d="M1673.1 1680.3L1673.6 1682.4L1674.1 1684.3" stroke-width="7.5"/>
<path d="M1674.1 1684.3L1674.6 1686.1L1675.1 1687.7" stroke-width="8"/>
<path d="M1675.1 1687.7L1675.6 1689.3L1676.1 1690.7" stroke-width="8.5"/>
<path d="M1676.1 1690.7L1676.6 1692.1L1677.1 1693.3" stroke-width="9"/>
<path d="M1677.1 1693.3L1677.6 1694.4L1678.1 1695.5L1678.6 1696.4" stroke-width="9.5"/>
<path d="M1678.6 1696.4L1679.6 1698" stroke-width="10"/>
<path d="M1679.6 1698L1680.6 1699.2L1681.6 1700.4" stroke-width="10.5"/>
<path d="M1681.6 1700.4L1682.6 1701.5L1683.6 1702.6" stroke-width="11"/>
<path d="M1683.6 1702.6L1684.6 1703.5L1685.6 1704.3" stroke-width="11.5"/>
<path d="M1685.6 1704.3L1686.6 1705L1687.6 1705.5" stroke-width="12"/>
<path d="M1687.6 1705.5L1688.6 1705.8" stroke-width="12.5"/>
<path d="M1688.6 1705.8L1689.6 1705.9L1690.6 1705.7" stroke-width="13"/>
<path d="M1690.6 1705.7L1691.6 1704.9" stroke-width="12.5"/>
<path d="M1691.6 1704.9L1692.6 1703.7" stroke-width="12"/>
<path d="M1692.6 1703.7L1693.6 1702.1" stroke-width="11.5"/>
<path d="M1693.6 1702.1L1694.1 1701.2L1694.6 1700.2" stroke-width="11"/>
<path d="M1694.6 1700.2L1695.1 1699.1L1695.6 1697.9" stroke-width="10.5"/>
<path d="M1695.6 1697.9L1696.1 1696.7L1696.6 1695.5" stroke-width="10"/>
<path d="M1696.6 1695.5L1697.1 1694.2L1697.6 1692.8" stroke-width="9.5"/>
<path d="M1697.6 1692.8L1698.1 1691.5L1698.6 1690.1L1699.1 1688.6L1699.6 1687.2L1700.1 1685.8L1700.6 1684.3L1701.1 1682.9L1701.6 1681.5" stroke-width="9"/>
<path d="M1701.6 1681.5L1702.1 1680.1L1702.6 1678.7L1703.1 1677.3L1703.6 1675.9L1704.1 1674.4L1704.6 1672.8L1705.1 1671.2L1705.6 1669.5L1706.1 1667.7L1706.6 1665.9L1707.1 1664.1L1707.6 1662.2L1708.1 1660.3L1708.6 1658.3" stroke-width="8.5"/>
<path d="M1708.6 1658.3L1709.1 1656.4L1709.6 1654.5L1710.1 1652.5L1710.6 1650.6L1711.1 1648.6L1711.6 1646.7L1712.1 1644.8L1712.6 1643L1713.1 1641.2L1713.6 1639.3L1714.1 1637.5" stroke-width="8"/>
<path d="M1714.1 1637.5L1714.6 1635.6L1715.1 1633.7L1715.6 1631.8L1716.1 1629.9L1716.6 1628L1717.1 1626.1" stroke-width="8.5"/>
<path d="M1717.1 1626.1L1717.6 1624.2L1718.1 1622.3L1718.6 1620.4L1719.1 1618.6L1719.6 1616.7L1720.1 1614.9L1720.6 1613.2" stroke-width="9"/>
<path d="M1720.6 1613.2L1721.1 1611.4L1721.6 1609.8L1722.1 1608.1L1722.6 1606.6L1723.1 1605" stroke-width="9.5"/>
<path d="M1723.1 1605L1723.6 1603.5L1724.1 1601.9" stroke-width="10"/>
<path d="M1724.1 1601.9L1724.6 1600.2L1725.1 1598.6L1725.6 1597" stroke-width="10.5"/>
<path d="M1725.6 1597L1726.1 1595.6L1726.6 1594.5L1727.6 1593.5" stroke-width="11"/>
<path d="M1727.6 1593.5L1728.6 1594.2" stroke-width="11.5"/>
<path d="M1728.6 1594.2L1729.6 1596" stroke-width="10"/>
<path d="M1729.6 1596L1730.1 1597.3" stroke-width="8.5"/>
<path d="M1730.1 1597.3L1730.6 1598.8" stroke-width="8"/>
<path d="M1730.6 1598.8L1731.1 1600.5" stroke-width="7"/>
<path d="M1731.1 1600.5L1731.6 1602.3" stroke-width="6.5"/>
<path d="M1731.6 1602.3L1732.1 1604.3" stroke-width="6"/>
<path d="M1732.1 1604.3L1732.6 1606.3L1733.1 1609" stroke-width="5.5"/>
<path d="M1733.1 1609L1733.6 1612.6" stroke-width="5"/>
<path d="M1733.6 1612.6L1734.1 1616.9L1734.6 1621.7L1735.1 1626.6L1735.6 1631.6L1736.1 1636.9L1736.6 1642.5L1737.1 1648.6L1737.6 1654.9L1738.1 1661.4L1738.6 1668.1L1739.1 1674.9L1739.6 1681.8L1740.1 1688.6L1740.6 1695.5L1741.1 1702.6L1741.6 1709.9L1742.1 1717.3L1742.6 1725.1L1743.1 1733.1L1743.6 1741.5L1744.1 1750.1L1744.6 1758.7L1745.1 1767.7L1745.6 1777.4L1746.1 1788.1L1746.6 1800.1L1747.1 1815L1747.6 1834.8L1748.1 1856.1L1748.6 1875L1749.1 1888.7L1749.6 1900.2L1750.1 1910.5L1750.6 1919.9L1751.1 1928.8L1751.6 1937.6L1752.1 1946.6L1752.6 1955.8L1753.1 1964.8L1753.6 1973.5L1754.1 1981.6L1754.6 1989L1755.1 1995.5L1755.6 2001.5L1756.1 2007L1756.6 2012.2L1757.1 2017.2L1757.6 2021.8L1758.1 2026.3L1758.6 2030.7L1759.1 2035L1759.6 2039.4L1760.1 2043.8L1760.6 2048.2L1761.1 2052.3L1761.6 2056.2L1762.1 2059.7L1762.6 2062.6L1763.1 2064.9L1763.6 2066.8L1764.1 2068.7L1764.6 2070.4L1765.1 2071.9L1765.6 2073.1L1766.6 2074.1L1767.6 2073.4L1768.6 2071.7L1769.1 2070.5L1769.6 2069.1L1770.1 2067.7L1770.6 2066.1L1771.1 2064.5L1771.6 2062.9L1772.1 2061.4L1772.6 2059.8L1773.1 2058.1L1773.6 2056.2L1774.1 2054.2L1774.6 2052L1775.1 2049.7L1775.6 2047.4L1776.1 2045L1776.6 2042.6L1777.1 2040.3L1777.6 2037.9L1778.1 2035.7L1778.6 2033.5L1779.1 2031.3L1779.6 2029L1780.1 2026.7L1780.6 2024.4L1781.1 2022.1L1781.6 2019.9L1782.1 2017.6L1782.6 2015.5L1783.1 2013.3L1783.6 2011.3L1784.1 2009.4L1784.6 2007.5L1785.1 2005.7L1785.6 2003.9L1786.1 2002.1L1786.6 2000.3L1787.1 1998.5L1787.6 1996.7L1788.1 1995L1788.6 1993.3L1789.1 1991.7L1789.6 1990.2L1790.1 1988.7L1790.5 1987.4L1791 1986.2L1791.5 1985.1L1792 1984.2L1793 1982.7L1794 1981.4L1795 1980.2L1796 1979.1L1797 1978L1798 1977.2L1799 1976.4L1800 1975.9L1801 1975.6L1802 1975.5L1803 1975.7L1804 1976.3L1805 1977.1L1806 1978.1L1807 1979.3L1808 1980.7L1809 1982.3L1810 1984L1810.5 1984.8L1811 1985.7L1811.5 1986.6L1812 1987.5L1812.5 1988.4L1813 1989.4L1813.5 1990.3L1814 1991.4L1814.5 1992.7L1815 1994L1815.5 1995.4L1816 1996.9L1816.5 1998.5L1817 2000.2L1817.5 2002L1818 2003.8L1818.5 2005.6L1819 2007.5L1819.5 2009.4L1820 2011.3L1820.5 2013.3L1821 2015.2L1821.5 2017.2L1822 2019.3L1822.5 2021.5L1823 2023.8L1823.5 2026.2L1824 2028.6L1824.5 2031.1L1825 2033.6L1825.5 2036.1L1826 2038.5L1826.5 2040.9L1827 2043.1L1827.5 2045.3L1828 2047.5L1828.5 2049.7L1829 2052L1829.5 2054.2L1830 2056.3L1830.5 2058.4L1831 2060.3L1831.5 2062.1L1832 2063.7L1832.5 2065.1L1833 2066.5L1833.5 2067.9L1834 2069.2L1834.5 2070.4L1835 2071.5L1836 2072.9L1837 2073L1838 2072.2L1839 2070.7L1839.5 2069.7L1840 2068.6L1840.5 2067.3L1841 2065.9L1841.5 2064.5L1842 2062.9L1842.5 2061.2L1843 2059.2L1843.5 2056.2L1844 2052.4L1844.5 2047.9L1845 2042.8L1845.5 2037.5L1846 2031.9L1846.5 2026.4L1847 2020.9L1847.5 2015.3L1848 2009.3L1848.5 2002.8L1849 1995.7L1849.5 1987.9L1850 1978.9L1850.5 1967.2L1851 1953.8L1851.5 1940L1852 1927.1L1852.5 1916.1L1853 1906.2L1853.5 1896.9L1854 1887.7L1854.5 1878.4L1855 1868.5L1855.5 1858.2L1856 1847.6L1856.5 1836.8L1857 1826L1857.5 1815.1L1858 1804.3L1858.5 1793.6L1859 1783.2L1859.5 1772.9L1860 1762.7L1860.5 1752.5L1861 1742.5L1861.5 1732.8L1862 1723.2L1862.5 1713.7L1863 1704.1L1863.5 1694.5L1864 1685L1864.5 1675.9L1865 1667.4L1865.5 1659.6L1866 1652.7L1866.5 1646.6L1867 1640.7L1867.5 1635L1868 1629.7L1868.5 1624.8L1869 1620.4L1869.5 1616.7L1870 1613.6L1870.5 1611.2" stroke-width="4.5"/>
<path d="M1870.5 1611.2L1871 1608.8" stroke-width="5"/>
<path d="M1871 1608.8L1871.5 1606.6" stroke-width="5.5"/>
<path d="M1871.5 1606.6L1872 1604.4" stroke-width="6"/>
<path d="M1872 1604.4L1872.5 1602.4" stroke-width="6.5"/>
<path d="M1872.5 1602.4L1873 1600.5" stroke-width="7"/>
<path d="M1873 1600.5L1873.5 1598.7" stroke-width="7.5"/>
<path d="M1873.5 1598.7L1874 1597.1" stroke-width="8"/>
<path d="M1874 1597.1L1874.5 1595.7" stroke-width="9"/>
<path d="M1874.5 1595.7L1875 1594.6" stroke-width="9.5"/>
<path d="M1875 1594.6L1875.5 1593.6" stroke-width="10"/>
<path d="M1875.5 1593.6L1876.5 1592.6" stroke-width="10.5"/>
<path d="M1876.5 1592.6L1877.5 1592.7L1878.5 1593.9" stroke-width="12"/>
<path d="M1878.5 1593.9L1879 1594.8" stroke-width="11.5"/>
<path d="M1879 1594.8L1879.5 1596" stroke-width="11"/>
<path d="M1879.5 1596L1880 1597.3" stroke-width="10.5"/>
<path d="M1880 1597.3L1880.5 1598.7" stroke-width="10"/>
<path d="M1880.5 1598.7L1881 1600.3L1881.5 1602" stroke-width="9.5"/>
<path d="M1881.5 1602L1882 1603.8" stroke-width="9"/>
<path d="M1882 1603.8L1882.5 1605.7L1883 1607.7L1883.5 1609.6L1884 1611.6L1884.5 1613.5L1885 1615.4" stroke-width="8.5"/>
<path d="M1885 1615.4L1885.5 1617.3L1886 1619.1L1886.5 1620.8L1887 1622.4L1887.5 1624.1L1888 1626L1888.5 1627.8L1889 1629.7L1889.5 1631.7L1890 1633.7L1890.5 1635.7" stroke-width="8"/>
<path d="M1890.5 1635.7L1891 1637.7L1891.5 1639.7L1892 1641.6L1892.5 1643.6L1893 1645.5L1893.5 1647.4L1894 1649.2L1894.5 1650.9L1895 1652.6L1895.5 1654.2L1896 1655.6" stroke-width="7.5"/>
<path d="M1896 1655.6L1896.5 1657L1897 1658.2" stroke-width="8"/>
<path d="M1897 1658.2L1897.5 1659.5L1898 1660.8L1898.5 1662" stroke-width="8.5"/>
<path d="M1898.5 1662L1899 1663.3L1899.5 1664.6" stroke-width="9"/>
<path d="M1899.5 1664.6L1900 1665.9L1900.5 1667.1" stroke-width="9.5"/>
<path d="M1900.5 1667.1L1901 1668.4L1901.5 1669.6" stroke-width="10"/>
<path d="M1901.5 1669.6L1902 1670.8L1902.5 1672" stroke-width="10.5"/>
<path d="M1902.5 1672L1903 1673.1L1903.5 1674.2" stroke-width="11"/>
<path d="M1903.5 1674.2L1904 1675.2L1904.5 1676.2" stroke-width="11.5"/>
<path d="M1904.5 1676.2L1905 1677.1L1906 1678.8" stroke-width="12"/>
<path d="M1906 1678.8L1907 1680.2" stroke-width="12.5"/>
<path d="M1907 1680.2L1908 1681.2" stroke-width="13"/>
<path d="M1908 1681.2L1909 1681.8" stroke-width="13.5"/>
<path d="M1909 1681.8L1910 1682" stroke-width="14"/>
<path d="M1910 1682L1911 1681.9" stroke-width="13.5"/>
<path d="M1911 1681.9L1912 1681.3" stroke-width="13"/>
<path d="M1912 1681.3L1913 1680.4" stroke-width="12.5"/>
<path d="M1913 1680.4L1914 1679.3" stroke-width="12"/>
<path d="M1914 1679.3L1915 1677.8" stroke-width="11.5"/>
<path d="M1915 1677.8L1916 1676.1" stroke-width="11"/>
<path d="M1916 1676.1L1916.5 1675.2" stroke-width="10.5"/>
<path d="M1916.5 1675.2L1917 1674.2L1917.5 1673.2" stroke-width="10"/>
<path d="M1917.5 1673.2L1918 1672.1L1918.5 1670.9" stroke-width="9.5"/>
<path d="M1918.5 1670.9L1919 1669.8L1919.5 1668.6" stroke-width="9"/>
<path d="M1919.5 1668.6L1920 1667.3L1920.5 1666.1" stroke-width="8.5"/>
<path d="M1920.5 1666.1L1921 1664.8L1921.5 1663.4" stroke-width="8"/>
<path d="M1921.5 1663.4L1922 1662.1L1922.5 1660.7L1923 1659.4L1923.5 1658L1924 1656.6L1924.5 1655.2L1925 1653.8L1925.5 1652.4L1926 1651L1926.5 1649.7L1927 1648.3L1927.5 1646.9L1928 1645.5L1928.5 1644L1929 1642.3L1929.5 1640.6L1930 1638.7L1930.5 1636.8L1931 1634.9L1931.5 1632.9L1932 1630.8L1932.5 1628.8L1933 1626.7L1933.5 1624.6L1934 1622.5L1934.5 1620.4L1935 1618.3L1935.5 1616.3L1936 1614.3L1936.5 1612.4" stroke-width="7.5"/>
<path d="M1936.5 1612.4L1937 1610.6L1937.5 1608.8L1938 1607" stroke-width="8"/>
<path d="M1938 1607L1938.5 1604.9L1939 1602.8" stroke-width="8.5"/>
<path d="M1939 1602.8L1939.5 1600.6L1940 1598.6L1940.5 1596.7" stroke-width="9"/>
<path d="M1940.5 1596.7L1941 1595.1L1941.5 1593.9L1942.5 1592.9" stroke-width="9.5"/>
<path d="M1942.5 1592.9L1943.5 1593.8" stroke-width="10"/>
<path d="M1943.5 1593.8L1944 1594.8" stroke-width="8.5"/>
<path d="M1944 1594.8L1944.5 1596.1" stroke-width="8"/>
<path d="M1944.5 1596.1L1945 1597.6" stroke-width="7.5"/>
<path d="M1945 1597.6L1945.5 1599.5" stroke-width="7"/>
<path d="M1945.5 1599.5L1946 1601.6" stroke-width="6.5"/>
<path d="M1946 1601.6L1946.5 1603.9" stroke-width="6"/>
<path d="M1946.5 1603.9L1947 1606.4L1947.5 1609.1" stroke-width="5.5"/>
<path d="M1947.5 1609.1L1948 1612L1948.5 1614.9" stroke-width="5"/>
<path d="M1948.5 1614.9L1949 1618L1949.5 1621.2L1950 1624.3L1950.5 1627.6L1951 1630.8L1951.5 1634.2L1952 1638.2L1952.5 1642.6L1953 1647.5L1953.5 1652.7L1954 1658.3L1954.5 1664.2L1955 1670.3L1955.5 1676.9L1956 1684.4L1956.5 1692.6L1957 1701.4L1957.5 1710.4L1958 1719.5L1958.5 1728.8L1959 1738.5L1959.5 1748.6L1960 1758.9L1960.5 1769.1L1961 1779.3L1961.5 1789.1L1962 1798.7L1962.5 1808.2L1963 1817.7L1963.5 1827.1L1964 1836.5L1964.5 1845.9L1965 1855.3L1965.5 1864.8L1966 1874.5L1966.5 1884.2L1967 1894.4L1967.5 1904.8L1968 1915.2L1968.5 1925.4L1969 1935.1L1969.5 1944L1970 1952.5L1970.5 1960.7L1971 1968.7L1971.5 1976.5L1972 1983.9L1972.5 1990.9L1973 1997.5L1973.5 2003.7L1974 2009.6L1974.5 2015.3L1975 2020.7L1975.5 2025.8L1976 2030.7L1976.5 2035.3L1977 2039.7L1977.5 2043.9L1978 2047.9L1978.5 2051.8L1979 2055.6L1979.5 2059.1L1980 2062L1980.5 2064.4L1981 2066.2L1981.5 2067.9L1982 2069.4L1982.5 2070.8L1983 2071.9L1984 2073L1985 2072.6L1986 2071.3L1986.5 2070.3L1987 2069.2L1987.5 2067.9L1988 2066.6L1988.5 2065.1L1989 2063.5L1989.5 2062L1990 2060.4L1990.5 2058.8L1991 2057.2L1991.5 2055.7L1992 2054.3L1992.5 2052.9L1993 2051.3L1993.5 2049.7L1994 2048.1L1994.5 2046.4L1995 2044.6L1995.5 2042.9L1996 2041.1L1996.5 2039.4L1997 2037.6L1997.5 2035.9L1998 2034.3L1998.5 2032.6L1999 2030.8L1999.5 2029L2000 2027.2L2000.5 2025.3L2001 2023.4L2001.5 2021.6L2002 2019.8L2002.5 2018L2003 2016.2L2003.5 2014.6L2004 2013L2004.5 2011.6L2005 2010.3L2005.5 2009.1L2006 2008.1L2006.5 2007.1L2007 2006.3L2007.5 2005.4L2008 2004.5L2009 2002.8L2010 2001.2L2011 1999.7L2012 1998.4L2013 1997.3L2014 1996.4L2015 1995.8L2016 1995.5L2017 1995.6L2018 1996.1L2019 1996.9L2020 1998L2021 1999.4L2022 2001L2022.5 2001.9L2023 2002.8L2023.5 2003.7L2024 2004.7L2024.5 2005.6L2025 2006.6L2025.5 2007.6L2026 2008.6L2026.5 2009.6L2027 2010.7L2027.5 2011.8L2028 2013.1L2028.5 2014.5L2029 2016L2029.5 2017.5L2030 2019.2L2030.5 2020.9L2031 2022.6L2031.5 2024.4L2032 2026.2L2032.5 2028.1L2033 2029.9L2033.5 2031.8L2034 2033.6L2034.5 2035.4L2035 2037.3L2035.4 2039.2L2035.9 2041.3L2036.4 2043.4L2036.9 2045.6L2037.4 2047.8L2037.9 2050.1L2038.4 2052.2L2038.9 2054.3L2039.4 2056.3L2039.9 2058.1L2040.4 2059.7L2040.9 2061.2L2041.4 2062.6L2041.9 2064.1L2042.4 2065.6L2042.9 2067L2043.4 2068.3L2043.9 2069.6L2044.4 2070.7L2044.9 2071.6L2045.9 2072.9L2046.9 2073L2047.9 2072L2048.9 2070.3L2049.4 2069.1L2049.9 2067.7L2050.4 2066.3L2050.9 2064.7L2051.4 2063L2051.9 2061.2L2052.4 2059L2052.9 2055.9L2053.4 2052L2053.9 2047.5L2054.4 2042.4L2054.9 2037.1L2055.4 2031.6L2055.9 2026.1L2056.4 2020.5L2056.9 2014.5L2057.4 2008L2057.9 2001.2L2058.4 1994.1L2058.9 1986.9L2059.4 1979.4L2059.9 1971.7L2060.4 1963.6L2060.9 1955.2L2061.4 1946.6L2061.9 1937.8L2062.4 1928.7L2062.9 1919.2L2063.4 1909.4L2063.9 1899.2L2064.4 1889L2064.9 1878.6L2065.4 1868.3L2065.9 1857.8L2066.4 1847.2L2066.9 1836.4L2067.4 1825.6L2067.9 1814.8L2068.4 1804.1L2068.9 1793.5L2069.4 1783.1L2069.9 1772.7L2070.4 1762.2L2070.9 1751.7L2071.4 1741.3L2071.9 1731.2L2072.4 1721.4L2072.9 1712L2073.4 1703L2073.9 1694.5L2074.4 1685.9L2074.9 1677.6L2075.4 1669.5L2075.9 1661.8L2076.4 1654.7L2076.9 1648.2L2077.4 1642.5L2077.9 1637.3L2078.4 1632.3L2078.9 1627.5L2079.4 1622.8L2079.9 1618.5L2080.4 1614.5L2080.9 1610.9L2081.4 1607.7" stroke-width="4.5"/>
<path d="M2081.4 1607.7L2081.9 1605.1L2082.4 1603.1" stroke-width="5"/>
<path d="M2082.4 1603.1L2082.9 1601.7" stroke-width="5.5"/>
<path d="M2082.9 1601.7L2083.4 1600.4" stroke-width="6"/>
<path d="M2083.4 1600.4L2083.9 1599.1" stroke-width="6.5"/>
<path d="M2083.9 1599.1L2084.4 1598" stroke-width="7"/>
<path d="M2084.4 1598L2084.9 1596.9" stroke-width="7.5"/>
<path d="M2084.9 1596.9L2085.4 1596" stroke-width="8"/>
<path d="M2085.4 1596L2086.4 1594.4" stroke-width="8.5"/>
<path d="M2086.4 1594.4L2087.4 1593.5" stroke-width="10"/>
<path d="M2087.4 1593.5L2088.4 1593.3" stroke-width="11"/>
<path d="M2088.4 1593.3L2089.4 1594" stroke-width="12"/>
<path d="M2089.4 1594L2090.4 1595.6" stroke-width="11"/>
<path d="M2090.4 1595.6L2090.9 1596.6" stroke-width="10"/>
<path d="M2090.9 1596.6L2091.4 1597.8L2091.9 1599" stroke-width="9.5"/>
<path d="M2091.9 1599L2092.4 1600.4" stroke-width="9"/>
<path d="M2092.4 1600.4L2092.9 1601.9" stroke-width="8.5"/>
<path d="M2092.9 1601.9L2093.4 1603.3L2093.9 1604.8L2094.4 1606.3L2094.9 1607.8L2095.4 1609.3L2095.9 1610.6L2096.4 1612L2096.9 1613.5L2097.4 1615" stroke-width="8"/>
<path d="M2097.4 1615L2097.9 1616.6L2098.4 1618.3L2098.9 1620L2099.4 1621.7L2099.9 1623.4L2100.4 1625.2L2100.9 1626.9L2101.4 1628.7L2101.9 1630.4L2102.4 1632L2102.9 1633.7L2103.4 1635.2L2103.9 1636.7L2104.4 1638.1L2104.9 1639.5L2105.4 1641L2105.9 1642.5" stroke-width="7.5"/>
<path d="M2105.9 1642.5L2106.4 1643.9L2106.9 1645.3" stroke-width="8"/>
<path d="M2106.9 1645.3L2107.4 1646.8L2107.9 1648.1" stroke-width="8.5"/>
<path d="M2107.9 1648.1L2108.4 1649.5L2108.9 1650.8" stroke-width="9"/>
<path d="M2108.9 1650.8L2109.4 1652L2109.9 1653.2" stroke-width="9.5"/>
<path d="M2109.9 1653.2L2110.4 1654.3" stroke-width="10"/>
<path d="M2110.4 1654.3L2110.9 1655.3L2111.4 1656.2" stroke-width="10.5"/>
<path d="M2111.4 1656.2L2112.4 1657.8" stroke-width="11"/>
<path d="M2112.4 1657.8L2113.4 1659.2" stroke-width="11.5"/>
<path d="M2113.4 1659.2L2114.4 1660.6" stroke-width="12"/>
<path d="M2114.4 1660.6L2115.4 1661.8" stroke-width="12.5"/>
<path d="M2115.4 1661.8L2116.4 1662.8" stroke-width="13"/>
<path d="M2116.4 1662.8L2117.4 1663.5" stroke-width="13.5"/>
<path d="M2117.4 1663.5L2118.4 1663.7" stroke-width="14"/>
<path d="M2118.4 1663.7L2119.4 1663.4" stroke-width="14.5"/>
<path d="M2119.4 1663.4L2120.4 1662.8" stroke-width="13.5"/>
<path d="M2120.4 1662.8L2121.4 1661.8" stroke-width="13"/>
<path d="M2121.4 1661.8L2122.4 1660.6" stroke-width="12.5"/>
<path d="M2122.4 1660.6L2123.4 1659.1" stroke-width="12"/>
<path d="M2123.4 1659.1L2124.4 1657.4" stroke-width="11.5"/>
<path d="M2124.4 1657.4L2124.9 1656.5" stroke-width="11"/>
<path d="M2124.9 1656.5L2125.4 1655.6L2125.9 1654.6" stroke-width="10.5"/>
<path d="M2125.9 1654.6L2126.4 1653.6L2126.9 1652.6" stroke-width="10"/>
<path d="M2126.9 1652.6L2127.4 1651.7L2127.9 1650.7" stroke-width="9.5"/>
<path d="M2127.9 1650.7L2128.4 1649.7" stroke-width="9"/>
<path d="M2128.4 1649.7L2128.9 1648.7L2129.4 1647.6" stroke-width="8.5"/>
<path d="M2129.4 1647.6L2129.9 1646.4L2130.4 1645.1" stroke-width="8"/>
<path d="M2130.4 1645.1L2130.9 1643.7L2131.4 1642.2L2131.9 1640.7L2132.4 1639.1L2132.9 1637.5L2133.4 1635.8L2133.9 1634.1L2134.4 1632.5L2134.9 1630.8L2135.4 1629.1L2135.9 1627.5L2136.4 1625.9L2136.9 1624.4L2137.4 1622.8L2137.9 1621.1L2138.4 1619.4L2138.9 1617.7L2139.4 1616L2139.9 1614.3L2140.4 1612.6L2140.9 1610.9L2141.4 1609.3L2141.9 1607.7L2142.4 1606.2L2142.9 1604.8" stroke-width="7.5"/>
<path d="M2142.9 1604.8L2143.4 1603.5L2143.9 1602.4" stroke-width="8"/>
<path d="M2143.9 1602.4L2144.4 1601.3L2144.9 1600.1L2145.4 1598.9" stroke-width="8.5"/>
<path d="M2145.4 1598.9L2145.9 1597.8L2146.4 1596.7L2146.9 1595.7" stroke-width="9"/>
<path d="M2146.9 1595.7L2147.9 1594.4L2148.9 1593.9" stroke-width="9.5"/>
<path d="M2148.9 1593.9L2149.9 1594.9" stroke-width="10"/>
<path d="M2149.9 1594.9L2150.4 1596" stroke-width="9"/>
<path d="M2150.4 1596L2150.9 1597.4" stroke-width="8.5"/>
<path d="M2150.9 1597.4L2151.4 1599.1" stroke-width="7.5"/>
<path d="M2151.4 1599.1L2151.9 1601" stroke-width="7"/>
<path d="M2151.9 1601L2152.4 1603.1" stroke-width="6.5"/>
<path d="M2152.4 1603.1L2152.9 1605.5L2153.4 1607.9" stroke-width="6"/>
<path d="M2153.4 1607.9L2153.9 1610.4L2154.4 1613.1" stroke-width="5.5"/>
<path d="M2154.4 1613.1L2154.9 1615.7" stroke-width="5"/>
<path d="M2154.9 1615.7L2155.4 1618.4L2155.9 1621.6L2156.4 1625.3L2156.9 1629.5L2157.4 1633.9L2157.9 1638.6L2158.4 1643.5L2158.9 1648.6L2159.4 1653.6L2159.9 1658.9L2160.4 1664.4L2160.9 1670.2L2161.4 1676.3L2161.9 1682.8L2162.4 1689.6L2162.9 1696.9L2163.4 1704.6L2163.9 1713.4L2164.4 1723.2L2164.9 1733.7L2165.4 1744.4L2165.9 1755L2166.4 1765L2166.9 1774.8L2167.4 1784.5L2167.9 1794.1L2168.4 1803.6L2168.9 1813.1L2169.4 1822.6L2169.9 1832.1L2170.4 1841.6L2170.9 1851.1L2171.4 1860.7L2171.9 1870.4L2172.4 1880.1L2172.9 1890.2L2173.4 1900.5L2173.9 1911L2174.4 1921.2L2174.9 1931.1L2175.4 1940.4L2175.9 1949L2176.4 1957.3L2176.9 1965.3L2177.4 1973L2177.9 1980.4L2178.4 1987.6L2178.9 1994.5L2179.4 2001.1L2179.9 2007.5L2180.4 2014L2180.9 2020.4L2181.4 2026.6L2181.9 2032.5L2182.4 2037.9L2182.9 2042.7L2183.4 2046.7L2183.9 2049.9L2184.4 2052.9L2184.9 2055.8L2185.4 2058.6L2185.9 2061.3L2186.4 2063.8L2186.9 2066.1L2187.4 2068.2L2187.9 2069.9L2188.4 2071.3L2188.9 2072.3L2189.9 2073.1L2190.9 2072.6L2191.9 2071.6L2192.9 2070.1L2193.4 2069.2L2193.9 2068.2L2194.4 2067.1L2194.9 2066L2195.4 2064.8L2195.9 2063.6L2196.4 2062.4L2196.9 2061.2L2197.4 2060.1L2197.9 2058.9L2198.4 2057.8L2198.9 2056.6L2199.4 2055.2L2199.9 2053.8L2200.4 2052.4L2200.9 2050.8L2201.4 2049.3L2201.9 2047.7L2202.4 2046L2202.9 2044.4L2203.4 2042.8L2203.9 2041.1L2204.4 2039.5L2204.9 2038L2205.4 2036.4L2205.9 2035L2206.4 2033.5L2206.9 2032.1L2207.4 2030.5L2207.9 2029L2208.4 2027.4L2208.9 2025.9L2209.4 2024.4L2209.9 2023L2210.4 2021.7L2210.9 2020.5L2211.4 2019.4L2211.9 2018.5L2212.9 2017.1L2213.9 2015.9L2214.9 2014.7L2215.9 2013.7L2216.9 2012.8L2217.9 2012.2L2218.9 2011.9L2219.9 2011.9L2220.9 2012.3L2221.9 2013.1L2222.9 2014.3L2223.9 2015.7L2224.9 2017.3L2225.9 2019L2226.4 2019.9L2226.9 2020.9L2227.4 2021.8L2227.9 2022.8L2228.4 2023.7L2228.9 2024.7L2229.4 2025.7L2229.9 2026.9L2230.4 2028.2L2230.9 2029.6L2231.4 2031.1L2231.9 2032.6L2232.4 2034.2L2232.9 2035.9L2233.4 2037.5L2233.9 2039.2L2234.4 2040.9L2234.9 2042.6L2235.4 2044.3L2235.9 2045.9L2236.4 2047.5L2236.9 2049L2237.4 2050.5L2237.9 2052.2L2238.4 2053.8L2238.9 2055.5L2239.4 2057.2L2239.9 2058.9L2240.4 2060.5L2240.9 2062L2241.4 2063.4L2241.9 2064.8L2242.4 2065.9L2242.9 2067L2243.4 2067.9L2243.9 2068.9L2244.4 2069.8L2244.9 2070.7L2245.9 2072.1L2246.9 2072.6L2247.9 2072.1L2248.9 2070.2L2249.4 2069L2249.9 2067.4L2250.4 2065.8L2250.9 2063.9L2251.4 2061.9L2251.9 2059.9L2252.4 2057.7L2252.9 2055.6L2253.4 2053.3L2253.9 2050.6L2254.4 2047.5L2254.9 2044L2255.4 2040.1L2255.9 2035.9L2256.4 2031.5L2256.9 2026.8L2257.4 2021.9L2257.9 2015.9L2258.4 2009.2L2258.9 2002L2259.4 1994.7L2259.9 1987.7L2260.4 1981.4L2260.9 1975.3L2261.4 1969.4L2261.9 1963.7L2262.4 1958.1L2262.9 1952.7" stroke-width="4.5"/>
</g>
<path d="M218.4 1764.9V1909.8" stroke="#0072BD" stroke-width="4.2" fill="none"/>
<path d="M220.6 1818L222.6 1832 220.6 1846Z" fill="#0072BD" stroke="#0072BD" stroke-width="1"/>
<rect x="556.8" y="1829.4" width="90" height="34.5" fill="#0072BD"/>
<path d="M221.4 1836.8L222.4 1837.3L223.5 1837.2L224.5 1836.9L225.5 1837L226.5 1837.3L227.5 1836.8L228.6 1836.7L229.6 1837.1L230.6 1836.9L231.6 1837.1L232.7 1836.7L233.7 1836.7L234.7 1836.2L235.7 1836L236.7 1836.2L237.8 1835.2L238.8 1836.1L239.8 1836.2L240.8 1835.8L241.9 1835.5L242.9 1835.8L243.9 1835.3L244.9 1835.5L245.9 1835.8L247 1835.1L248 1835L249 1834.7L250 1834.5L251.1 1834.3L252.1 1834.1L253.1 1834.3L254.1 1833.2L255.1 1833.5L256.2 1833.6L257.2 1832.9L258.2 1833L259.2 1832.7L260.3 1832.9L261.3 1832.8L262.3 1832.9L263.3 1832.4L264.3 1831.8L265.4 1832L266.4 1832L267.4 1832.1L268.4 1830.8L269.5 1831.5L270.5 1830.6L271.5 1831.3L272.5 1831.1L273.5 1831L274.6 1831L275.6 1830.7L276.6 1830.3L277.6 1830.5L278.7 1830.7L279.7 1830.2L280.7 1830.2L281.7 1829.7L282.7 1830.4L283.8 1829.8L284.8 1829.7L285.8 1829.8L286.8 1829.6L287.9 1829.8L288.9 1830.3L289.9 1830.1L290.9 1830.3L291.9 1830.4L293 1829.6L294 1830.1L295 1830.5L296 1830.8L297.1 1829.6L298.1 1829.6L299.1 1830.3L300.1 1830.2L301.1 1830L302.2 1830.6L303.2 1830.3L304.2 1829.9L305.2 1830.7L306.3 1830.9L307.3 1831.2L308.3 1831.4L309.3 1831.3L310.3 1831.3L311.4 1831.3L312.4 1831.1L313.4 1831.7L314.4 1832.3L315.5 1832.3L316.5 1833L317.5 1832.4L318.5 1832L319.5 1833.1L320.6 1833.3L321.6 1832.7L322.6 1832.7L323.6 1833.5L324.7 1833.9L325.7 1833.4L326.7 1833.9L327.7 1833.9L328.7 1833.9L329.8 1834L330.8 1834.7L331.8 1834.7L332.8 1834.7L333.9 1834.2L334.9 1835.8L335.9 1835.1L336.9 1835.5L337.9 1835.3L339 1835.9L340 1835.4L341 1836.1L342 1836.1L343.1 1836.5L344.1 1836L345.1 1836.2L346.1 1836.4L347.1 1837.3L348.2 1836.2L349.2 1836.8L350.2 1836.6L351.2 1836.9L352.3 1837.1L353.3 1837L354.3 1837L355.3 1837.1L356.3 1836.8L357.4 1836.9L358.4 1836.4L359.4 1836.8L360.4 1836.7L361.5 1836.8L362.5 1837.1L363.5 1836.9L364.5 1836.9L365.5 1837.1L366.6 1835.8L367.6 1836.7L368.6 1836.5L369.6 1836.3L370.7 1835.8L371.7 1836.4L372.7 1836.4L373.7 1836.3L374.7 1835.8L375.8 1835.9L376.8 1835.9L377.8 1836L378.8 1835.7L379.9 1835.2L380.9 1835L381.9 1834.9L382.9 1834.7L384 1834.3L385 1834.6L386 1833.9L387 1833.7L388 1834L389.1 1833.5L390.1 1833.4L391.1 1832.6L392.1 1833.4L393.2 1833L394.2 1832.8L395.2 1832.8L396.2 1832.6L397.2 1832.1L398.3 1832.8L399.3 1831.9L400.3 1832.2L401.3 1832.3L402.4 1831.4L403.4 1831.5L404.4 1831L405.4 1831.5L406.4 1830.9L407.5 1830.5L408.5 1831.2L409.5 1831L410.5 1830.3L411.6 1830.9L412.6 1830.4L413.6 1831.2L414.6 1830.8L415.6 1830L416.7 1830L417.7 1829.7L418.7 1830L419.7 1829.9L420.8 1830.1L421.8 1829.9L422.8 1829.4L423.8 1829.6L424.8 1830.3L425.9 1830.2L426.9 1829.8L427.9 1829.9L428.9 1829.9L430 1830L431 1829.5L432 1830.4L433 1829.9L434 1830.3L435.1 1829.4L436.1 1830.4L437.1 1830.9L438.1 1829.8L439.2 1831.2L440.2 1830.9L441.2 1830.6L442.2 1830.5L443.2 1831.5L444.3 1831.4L445.3 1831.6L446.3 1831.5L447.3 1831.4L448.4 1832.2L449.4 1831.7L450.4 1832.5L451.4 1831.8L452.4 1832.2L453.5 1832.2L454.5 1833.3L455.5 1832.4L456.5 1832.8L457.6 1833.6L458.6 1833.6L459.6 1834.4L460.6 1834.5L461.6 1834.2L462.7 1834.4L463.7 1833.7L464.7 1834.2L465.7 1834.6L466.8 1834.8L467.8 1834.5L468.8 1834.8L469.8 1835L470.8 1835.8L471.9 1835.7L472.9 1835.6L473.9 1835.7L474.9 1836L476 1835.8L477 1836.1L478 1835.7L479 1836.6L480 1836.8L481.1 1836.7L482.1 1836.8L483.1 1836.8L484.1 1837.4L485.2 1836.9L486.2 1836.4L487.2 1836.5L488.2 1837.2L489.2 1837.3L490.3 1837.2L491.3 1837.2L492.3 1837L493.3 1836.5L494.4 1836.7L495.4 1836.3L496.4 1836.7L497.4 1836.4L498.4 1836.8L499.5 1836.7L500.5 1836L501.5 1836.8L502.5 1836.8L503.6 1836L504.6 1836.4L505.6 1836.5L506.6 1836L507.6 1836.3L508.7 1836L509.7 1836.1L510.7 1835.7L511.7 1835.5L512.8 1835.5L513.8 1835.5L514.8 1835.2L515.8 1834.8L516.8 1834.5L517.9 1834.5L518.9 1834.3L519.9 1834.4L520.9 1834.2L522 1833.9L523 1833.8L524 1833.7L525 1834L526 1833.7L527.1 1832.9L528.1 1833.1L529.1 1832.7L530.1 1832.6L531.2 1832.4L532.2 1832.1L533.2 1831.7L534.2 1831.1L535.2 1831.9L536.3 1832.1L537.3 1831.2L538.3 1831.5L539.3 1831.1L540.4 1831.2L541.4 1830.7L542.4 1830.8L543.4 1830.7L544.4 1829.8L545.5 1830.6L546.5 1830.4L547.5 1829.5L548.5 1830.5L549.6 1830.2L550.6 1830.2L551.6 1830.2L552.6 1829.9L553.6 1829.6L554.7 1829.8L555.7 1829.7L556.7 1830.6L558 1832.7" fill="none" stroke="#0072BD" stroke-width="3.3" stroke-linejoin="round"/>
<path d="M645.1 1846L645.1 1602.9L645.6 1717.7L646.5 1717.7L647.5 1715.9L648.5 1714.3L649.5 1712.9L650.5 1711.8L651.5 1711L652.5 1710.4L653.5 1710.1L654.5 1710L655.5 1710.2L656.5 1710.6L657.5 1711.3L658.5 1712.2L659.5 1713.4L660.5 1714.8L661.5 1716.5L662.5 1718.4L663.5 1720.6L664.5 1722.9L665.5 1725.5L666.5 1728.4L667.5 1731.4L668.5 1734.6L669.5 1738.1L670.5 1741.7L671.5 1745.6L672.5 1749.6L673.5 1753.8L674.5 1758.1L675.5 1762.6L676.5 1767.2L677.5 1772L678.5 1776.9L679.5 1781.9L680.5 1787.1L681.5 1792.3L682.5 1797.6L683.5 1803L684.5 1808.4L685.5 1813.9L686.5 1819.4L687.5 1825L688.5 1830.6L689.5 1836.1L690.5 1841.7L691.5 1847.3L692.5 1852.8L693.5 1858.3L694.5 1863.7L695.5 1869.1L696.5 1874.4L697.5 1879.6L698.5 1884.7L699.5 1889.7L700.5 1894.6L701.5 1899.4L702.5 1904L703.5 1908.5L704.5 1912.8L705.5 1917L706.6 1921L707.6 1924.8L708.6 1928.5L709.6 1931.9L710.6 1935.1L711.6 1938.2L712.6 1941L713.6 1943.5L714.6 1945.9L715.6 1948L716.6 1949.9L717.6 1951.6L718.6 1953L719.6 1954.1L720.6 1955.1L721.6 1955.7L722.6 1956.1L723.6 1956.3L724.6 1956.2L725.6 1955.9L726.6 1955.3L727.6 1954.4L728.6 1953.4L729.6 1952L730.6 1950.5L731.6 1948.7L732.6 1946.7L733.6 1944.4L734.6 1941.9L735.6 1939.2L736.6 1936.3L737.6 1933.2L738.6 1929.9L739.6 1926.3L740.6 1922.6L741.6 1918.8L742.6 1914.7L743.6 1910.5L744.6 1906.1L745.6 1901.6L746.6 1896.9L747.6 1892.1L748.6 1887.2L749.6 1882.2L750.6 1877.1L751.6 1872L752.6 1866.7L753.6 1861.4L754.6 1856L755.6 1850.6L756.6 1845.1L757.6 1839.6L758.6 1834.1L759.6 1828.7L760.6 1823.2L761.6 1817.7L762.6 1812.3L763.6 1807L764.6 1801.7L765.6 1796.4L766.6 1791.3L767.6 1786.2L768.6 1781.2L769.6 1776.4L770.6 1771.6L771.6 1767L772.6 1762.6L773.6 1758.3L774.6 1754.1L775.6 1750.1L776.6 1746.3L777.6 1742.7L778.6 1739.2L779.6 1736L780.6 1732.9L781.6 1730.1L782.6 1727.5L783.6 1725.1L784.6 1722.9L785.6 1721L786.6 1719.3L787.6 1717.8L788.6 1716.6L789.6 1715.6L790.6 1714.9L791.6 1714.4L792.6 1714.1L793.6 1714.1L794.6 1714.4L795.6 1714.9L796.6 1715.6L797.6 1716.6L798.6 1717.8L799.6 1719.3L800.6 1721L801.6 1722.9L802.6 1725.1L803.6 1727.4L804.6 1730L805.6 1732.8L806.6 1735.9L807.6 1739.1L808.6 1742.5L809.6 1746.1L810.6 1749.9L811.6 1753.8L812.6 1757.9L813.6 1762.2L814.6 1766.6L815.6 1771.2L816.6 1775.8L817.6 1780.6L818.6 1785.5L819.6 1790.5L820.6 1795.6L821.6 1800.8L822.6 1806.1L823.6 1811.3L824.6 1816.7L825.7 1822.1L826.7 1827.5L827.7 1832.9L828.7 1838.3L829.7 1843.7L830.7 1849.1L831.7 1854.4L832.7 1859.7L833.7 1865L834.7 1870.2L835.7 1875.3L836.7 1880.3L837.7 1885.2L838.7 1890L839.7 1894.7L840.7 1899.3L841.7 1903.8L842.7 1908.1L843.7 1912.2L844.7 1916.2L845.7 1920L846.7 1923.6L847.7 1927.1L848.7 1930.3L849.7 1933.4L850.7 1936.2L851.7 1938.9L852.7 1941.3L853.7 1943.5L854.7 1945.5L855.7 1947.2L856.7 1948.7L857.7 1950L858.7 1951L859.7 1951.8L860.7 1952.3L861.7 1952.6L862.7 1952.7L863.7 1952.5L864.7 1952.1L865.7 1951.4L866.7 1950.4L867.7 1949.2L868.7 1947.8L869.7 1946.1L870.7 1944.2L871.7 1942.1L872.7 1939.7L873.7 1937.2L874.7 1934.4L875.7 1931.4L876.7 1928.1L877.7 1924.7L878.7 1921.1L879.7 1917.3L880.7 1913.4L881.7 1909.2L882.7 1905L883.7 1900.5L884.7 1895.9L885.7 1891.2L886.7 1886.4L887.7 1881.5L888.7 1876.4L889.7 1871.3L890.7 1866.1L891.7 1860.8L892.7 1855.5L893.7 1850.1L894.7 1844.7L895.7 1839.3L896.7 1833.9L897.7 1828.4L898.7 1823L899.7 1817.6L900.7 1812.2L901.7 1806.9L902.7 1801.7L903.7 1796.5L904.7 1791.4L905.7 1786.3L906.7 1781.4L907.7 1776.6L908.7 1771.9L909.7 1767.3L910.7 1762.9L911.7 1758.7L912.7 1754.5L913.7 1750.6L914.7 1746.8L915.7 1743.3L916.7 1739.9L917.7 1736.7L918.7 1733.7L919.7 1730.9L920.7 1728.4L921.7 1726L922.7 1723.9L923.7 1722L924.7 1720.4L925.7 1719L926.7 1717.9L927.7 1716.9L928.7 1716.3L929.7 1715.9L930.7 1715.7L931.7 1715.8L932.7 1716.1L933.7 1716.7L934.7 1717.5L935.7 1718.5L936.7 1719.8L937.7 1721.3L938.7 1723L939.7 1725L940.7 1727.2L941.7 1729.6L942.7 1732.2L943.8 1735L944.8 1738.1L945.8 1741.3L946.8 1744.7L947.8 1748.3L948.8 1752.1L949.8 1756L950.8 1760.1L951.8 1764.3L952.8 1768.7L953.8 1773.2L954.8 1777.9L955.8 1782.6L956.8 1787.5L957.8 1792.4L958.8 1797.4L959.8 1802.5L960.8 1807.7L961.8 1812.9L962.8 1818.2L963.8 1823.4L964.8 1828.7L965.8 1834L966.8 1839.3L967.8 1844.6L968.8 1849.9L969.8 1855.1L970.8 1860.3L971.8 1865.4L972.8 1870.5L973.8 1875.5L974.8 1880.3L975.8 1885.1L976.8 1889.8L977.8 1894.4L978.8 1898.8L979.8 1903.1L980.8 1907.2L981.8 1911.2L982.8 1915.1L983.8 1918.7L984.8 1922.2L985.8 1925.5L986.8 1928.6L987.8 1931.5L988.8 1934.2L989.8 1936.7L990.8 1938.9L991.8 1941L992.8 1942.8L993.8 1944.4L994.8 1945.7L995.8 1946.9L996.8 1947.8L997.8 1948.4L998.8 1948.8L999.8 1949L1000.8 1948.9L1001.8 1948.6L1002.8 1948.1L1003.8 1947.3L1004.8 1946.3L1005.8 1945.1L1006.8 1943.7L1007.8 1942L1008.8 1940.1L1009.8 1938L1010.8 1935.7L1011.8 1933.2L1012.8 1930.5L1013.8 1927.6L1014.8 1924.5L1015.8 1921.2L1016.8 1917.7L1017.8 1914.1L1018.8 1910.3L1019.8 1906.4L1020.8 1902.3L1021.8 1898.1L1022.8 1893.7L1023.8 1889.2L1024.8 1884.6L1025.8 1879.9L1026.8 1875.2L1027.8 1870.3L1028.8 1865.4L1029.8 1860.4L1030.8 1855.3L1031.8 1850.2L1032.8 1845.1L1033.8 1839.9L1034.8 1834.8L1035.8 1829.6L1036.8 1824.5L1037.8 1819.3L1038.8 1814.2L1039.8 1809.2L1040.8 1804.2L1041.8 1799.2L1042.8 1794.3L1043.8 1789.5L1044.8 1784.8L1045.8 1780.2L1046.8 1775.8L1047.8 1771.4L1048.8 1767.1L1049.8 1763L1050.8 1759.1L1051.8 1755.2L1052.8 1751.6L1053.8 1748.1L1054.8 1744.8L1055.8 1741.7L1056.8 1738.7L1057.8 1736L1058.8 1733.4L1059.8 1731.1L1060.8 1729L1061.8 1727.1L1062.9 1725.4L1063.9 1723.9L1064.9 1722.6L1065.9 1721.6L1066.9 1720.8L1067.9 1720.2L1068.9 1719.9L1069.9 1719.8L1070.9 1719.9L1071.9 1720.3L1072.9 1720.9L1073.9 1721.8L1074.9 1722.9L1075.9 1724.2L1076.9 1725.8L1077.9 1727.6L1078.9 1729.6L1079.9 1731.9L1080.9 1734.4L1081.9 1737L1082.9 1739.9L1083.9 1743L1084.9 1746.3L1085.9 1749.8L1086.9 1753.4L1087.9 1757.2L1088.9 1761.2L1089.9 1765.4L1090.9 1769.7L1091.9 1774.1L1092.9 1778.6L1093.9 1783.3L1094.9 1788.1L1095.9 1792.9L1096.9 1797.9L1097.9 1802.9L1098.9 1808L1099.9 1813.2L1100.9 1818.4L1101.9 1823.6L1102.9 1828.9L1103.9 1834.1L1104.9 1839.4L1105.9 1844.7L1106.9 1849.9L1107.9 1855.1L1108.9 1860.2L1109.9 1865.3L1110.9 1870.3L1111.9 1875.3L1112.9 1880.2L1113.9 1884.9L1114.9 1889.6L1115.9 1894.1L1116.9 1898.5L1117.9 1902.7L1118.9 1906.9L1119.9 1910.8L1120.9 1914.6L1121.9 1918.2L1122.9 1921.7L1123.9 1924.9L1124.9 1928L1125.9 1930.8L1126.9 1933.5L1127.9 1935.9L1128.9 1938.1L1129.9 1940.1L1130.9 1941.9L1131.9 1943.4L1132.9 1944.7L1133.9 1945.8L1134.9 1946.6L1135.9 1947.2L1136.9 1947.5L1137.9 1947.6L1138.9 1947.5L1139.9 1947.1L1140.9 1946.5L1141.9 1945.7L1142.9 1944.6L1143.9 1943.4L1144.9 1941.9L1145.9 1940.2L1146.9 1938.3L1147.9 1936.2L1148.9 1933.8L1149.9 1931.3L1150.9 1928.6L1151.9 1925.7L1152.9 1922.6L1153.9 1919.3L1154.9 1915.9L1155.9 1912.2L1156.9 1908.5L1157.9 1904.6L1158.9 1900.5L1159.9 1896.3L1160.9 1892L1161.9 1887.6L1162.9 1883.1L1163.9 1878.4L1164.9 1873.7L1165.9 1868.9L1166.9 1864.1L1167.9 1859.1L1168.9 1854.2L1169.9 1849.2L1170.9 1844.1L1171.9 1839L1172.9 1834L1173.9 1828.9L1174.9 1823.9L1175.9 1818.8L1176.9 1813.8L1177.9 1808.9L1178.9 1803.9L1179.9 1799.1L1180.9 1794.3L1182 1789.6L1183 1785L1184 1780.5L1185 1776.1L1186 1771.9L1187 1767.7L1188 1763.7L1189 1759.8L1190 1756.1L1191 1752.5L1192 1749.2L1193 1745.9L1194 1742.9L1195 1740L1196 1737.4L1197 1734.9L1198 1732.6L1199 1730.6L1200 1728.7L1201 1727.1L1202 1725.6L1203 1724.4L1204 1723.5L1205 1722.7L1206 1722.2L1207 1721.9L1208 1721.8L1209 1722L1210 1722.3L1211 1723L1212 1723.8L1213 1724.9L1214 1726.1L1215 1727.7L1216 1729.4L1217 1731.3L1218 1733.5L1219 1735.8L1220 1738.4L1221 1741.1L1222 1744.1L1223 1747.2L1224 1750.5L1225 1754L1226 1757.6L1227 1761.4L1228 1765.4L1229 1769.5L1230 1773.7L1231 1778L1232 1782.5L1233 1787L1234 1791.7L1235 1796.5L1236 1801.3L1237 1806.2L1238 1811.1L1239 1816.1L1240 1821.2L1241 1826.3L1242 1830.8L1243 1835.4L1244 1840L1245 1844.6L1246 1849.1L1247 1853.7L1248 1858.2L1249 1862.8L1250 1867.3L1251 1871.8L1252 1876.4L1253 1880.9L1254 1885.4L1255 1889.9L1256 1894.3L1257 1898.8L1258 1903.2L1259 1907.7L1260 1912.2L1261 1916.8L1262 1921.5L1263 1926.3L1264 1931.2L1265 1936.1L1266 1941L1267 1946L1268 1950.9L1269 1955.7L1270 1960.4L1271 1964.9L1272 1969.3L1273 1973.6L1274 1977.9L1275 1982.2L1276 1986.4L1277 1990.5L1278 1994.4L1279 1998.3L1280 2002L1281 2005.5L1282 2008.8L1283 2012L1284 2015.2L1284.9 2018.2L1285.9 2021.2L1286.9 2024L1287.9 2026.8L1288.9 2029.4L1289.9 2031.9L1290.9 2034.3L1291.9 2036.6L1292.9 2038.7L1293.9 2040.8L1294.9 2042.8L1295.9 2044.7L1296.9 2046.6L1297.9 2048.3L1298.9 2050L1299.9 2051.6L1300.9 2053.1L1301.9 2054.5L1302.9 2055.9L1303.9 2057.2L1304.9 2058.5L1305.9 2059.7L1306.9 2060.9L1307.9 2062L1308.9 2063L1309.9 2064L1310.9 2064.9L1311.9 2065.7L1312.9 2066.4L1313.9 2067.1L1314.9 2067.8L1315.9 2068.4L1316.9 2069L1317.9 2069.5L1318.9 2070L1319.9 2070.5L1320.9 2070.9L1321.9 2071.3L1322.9 2071.6L1323.9 2071.9L1324.9 2072.1L1325.9 2072.4L1326.9 2072.7L1327.9 2072.9L1328.9 2073.1L1329.9 2073.3L1330.9 2073.4L1331.9 2073.5L1332.9 2073.5L1333.9 2073.4L1334.9 2073.4L1335.9 2073.3L1336.9 2073.2L1337.9 2073.1L1338.9 2073L1339.9 2072.9L1340.9 2072.7L1341.9 2072.5L1342.9 2072.4L1343.9 2072.2L1344.9 2072L1345.9 2071.8L1346.9 2071.6L1347.9 2071.5L1348.9 2071.3L1349.9 2071.1L1350.9 2070.9L1351.9 2070.8L1352.9 2070.6L1353.9 2070.5L1354.9 2070.4L1355.9 2070.2L1356.9 2070.1L1357.9 2069.9L1358.9 2069.7L1359.9 2069.6L1360.9 2069.4L1361.9 2069.3L1362.9 2069.1L1363.9 2068.9L1364.9 2068.8L1365.9 2068.6L1366.9 2068.5L1367.9 2068.3L1368.9 2068.2L1369.9 2068L1370.9 2067.9L1371.9 2067.8L1372.8 2067.7L1373.8 2067.6L1374.8 2067.5L1375.8 2067.5L1376.8 2067.4L1377.8 2067.4L1378.8 2067.4L1379.8 2067.3L1380.8 2067.4L1381.8 2067.4L1382.8 2067.4L1383.8 2067.5L1384.8 2067.5L1385.8 2067.6L1386.8 2067.7L1387.8 2067.8L1388.8 2067.9L1389.8 2068L1390.8 2068.2L1391.8 2068.3L1392.8 2068.4L1393.8 2068.6L1394.8 2068.7L1395.8 2068.8L1396.8 2069L1397.8 2069.1L1398.8 2069.3L1399.8 2069.4L1400.8 2069.6L1401.8 2069.7L1402.8 2069.8L1403.8 2070L1404.8 2070.1L1405.8 2070.2L1406.8 2070.4L1407.8 2070.6L1408.8 2070.8L1409.8 2071L1410.8 2071.2L1411.8 2071.4L1412.8 2071.6L1413.8 2071.8L1414.8 2072L1415.8 2072.1L1416.8 2072.3L1417.8 2072.5L1418.8 2072.6L1419.8 2072.8L1420.8 2072.9L1421.8 2073L1422.8 2073L1423.8 2073.1L1424.8 2073.1L1425.8 2073.1L1426.8 2073.1L1427.8 2073.1L1428.8 2073.1L1429.8 2073.1L1430.8 2073.1L1431.8 2073.1L1432.8 2073.1L1433.8 2073.1L1434.8 2073.1L1435.8 2073L1436.8 2072.9L1437.8 2072.7L1438.8 2072.4L1439.8 2072.1L1440.8 2071.8L1441.8 2071.4L1442.8 2070.9L1443.8 2070.5L1444.8 2070.1L1445.8 2069.6L1446.8 2069L1447.8 2068.2L1448.8 2067.4L1449.8 2066.5L1450.8 2065.6L1451.8 2064.5L1452.8 2063.5L1453.8 2062.4L1454.8 2061.2L1455.8 2060L1456.8 2058.8L1457.8 2057.4L1458.8 2055.9L1459.8 2054.4L1460.7 2052.7L1461.7 2051L1462.7 2049.3L1463.7 2047.4L1464.7 2045.6L1465.7 2043.6L1466.7 2041.6L1467.7 2039.5L1468.7 2037.2L1469.7 2034.9L1470.7 2032.5L1471.7 2030L1472.7 2027.4L1473.7 2024.8L1474.7 2022.1L1475.7 2019.4L1476.7 2016.6L1477.7 2013.7L1478.7 2010.6L1479.7 2007.5L1480.7 2004.3L1481.7 2001.1L1482.7 1997.7L1483.7 1994.3L1484.7 1990.9L1485.7 1987.3L1486.7 1983.7L1487.7 1980L1488.7 1976.2L1489.7 1972.3L1490.7 1968.4L1491.7 1964.3L1492.7 1960.2L1493.7 1956L1494.7 1951.8L1495.7 1947.4L1496.7 1943L1497.7 1938.5L1498.7 1933.8L1499.7 1929L1500.7 1924.2L1501.7 1919.2L1502.7 1914.3L1503.7 1909.4L1504.7 1904.5L1505.7 1899.6L1506.7 1894.8L1507.7 1890.3L1508.7 1885.9L1509.7 1881.5L1510.7 1877.2L1511.7 1872.7L1512.7 1868.1L1513.7 1863.3L1514.7 1858L1515.7 1852.4L1516.7 1846.1L1517.7 1838.2L1518.7 1830.9L1519.7 1824.3L1520.7 1818L1521.7 1811.8L1522.7 1805.9L1523.7 1800.1L1524.7 1794.5L1525.7 1788.9L1526.7 1783.3L1527.7 1777.7L1528.7 1772.3L1529.7 1766.9L1530.7 1761.6L1531.7 1756.3L1532.7 1751.2L1533.7 1746.1L1534.7 1741.1L1535.7 1736.2L1536.7 1731.4L1537.7 1726.6L1538.7 1721.9L1539.7 1717.3L1540.7 1712.7L1541.7 1708.2L1542.7 1703.8L1543.7 1699.5L1544.7 1695.3L1545.7 1691.2L1546.7 1687.2L1547.6 1683.4L1548.6 1679.7L1549.6 1676L1550.6 1672.4L1551.6 1668.9L1552.6 1665.5L1553.6 1662.2L1554.6 1659L1555.6 1655.9L1556.6 1652.9L1557.6 1650L1558.6 1647.2L1559.6 1644.5L1560.6 1641.8L1561.6 1639.2L1562.6 1636.7L1563.6 1634.3L1564.6 1631.9L1565.6 1629.6L1566.6 1627.4L1567.6 1625.3L1568.6 1623.2L1569.6 1621.2L1570.6 1619.2L1571.6 1617.2L1572.6 1615.3L1573.6 1613.5L1574.6 1611.8L1575.6 1610.2L1576.6 1608.8L1577.6 1607.5L1578.6 1606.3L1579.6 1605.4L1580.6 1604.5L1580.6 1845" fill="none" stroke="#0072BD" stroke-width="4.7" stroke-linejoin="round"/>
<path d="M1240.6 1802V1834" stroke="#0072BD" stroke-width="5" fill="none"/>
<rect x="1579.4" y="1825.9" width="88.8" height="33.9" fill="#0072BD"/>
<path d="M1667.2 1628L1664.3 1628 1664.3 1836 1670 1836 1670.6 1712 1669 1640Z" fill="#0072BD"/>
<g fill="none" stroke="#0072BD" stroke-linejoin="round" stroke-linecap="round">
<path d="M1668.6 1709L1669.1 1710.6L1669.6 1712.1L1670.1 1713.7L1670.6 1715.2L1671.1 1716.8L1671.6 1718.3L1672.1 1719.9L1672.6 1721.4L1673.1 1723L1673.6 1724.5L1674.1 1726.1L1674.6 1727.7L1675.1 1729.2L1675.6 1730.8L1676.1 1732.4L1676.6 1733.9L1677.1 1735.5L1677.6 1737.1L1678.1 1738.6L1678.6 1740.2L1679.1 1741.8L1679.6 1743.3L1680.1 1744.9L1680.6 1746.5L1681.1 1748L1681.6 1749.6L1682.1 1751.2" stroke-width="7"/>
<path d="M1682.1 1751.2L1682.6 1752.7L1683.1 1754.3L1683.6 1755.9L1684.1 1757.4L1684.6 1759L1685.1 1760.5L1685.6 1762.1L1686.1 1763.7L1686.6 1765.2L1687.1 1766.8L1687.6 1768.3L1688.1 1769.9L1688.6 1771.4L1689.1 1772.9L1689.6 1774.5L1690.1 1776L1690.6 1777.5L1691.1 1779.1L1691.6 1780.6L1692.1 1782.1L1692.6 1783.6L1693.1 1785.2L1693.6 1786.7L1694.1 1788.2L1694.6 1789.7L1695.1 1791.2L1695.6 1792.7L1696.1 1794.2L1696.6 1795.7" stroke-width="6.5"/>
<path d="M1696.6 1795.7L1697.1 1797.2L1697.6 1798.7L1698.1 1800.3L1698.6 1801.8L1699.1 1803.3L1699.6 1804.8L1700.1 1806.3L1700.6 1807.8L1701.1 1809.4L1701.6 1810.9L1702.1 1812.4L1702.6 1813.9L1703.1 1815.5L1703.6 1817L1704.1 1818.6L1704.6 1820.1L1705.1 1821.7L1705.6 1823.2" stroke-width="6"/>
<path d="M1705.6 1823.2L1706.1 1824.8L1706.6 1826.4L1707.1 1827.9L1707.6 1829.5L1708.1 1831.1L1708.6 1832.7L1709.1 1834.3L1709.6 1835.9L1710.1 1837.5L1710.6 1839.1L1711.1 1840.7L1711.6 1842.3L1712.1 1843.9L1712.6 1845.5L1713.1 1847.2L1713.6 1848.8L1714.1 1850.4L1714.6 1852L1715.1 1853.6L1715.6 1855.2L1716.1 1856.9L1716.6 1858.5L1717.1 1860.1L1717.6 1861.7L1718.1 1863.3L1718.6 1864.9L1719.1 1866.5L1719.6 1868.1L1720.1 1869.7L1720.6 1871.3L1721.1 1872.9L1721.6 1874.5L1722.1 1876.1L1722.6 1877.6L1723.1 1879.2L1723.6 1880.8L1724.1 1882.3L1724.6 1883.9L1725.1 1885.5L1725.6 1887L1726.1 1888.6L1726.6 1890.1L1727.1 1891.7L1727.6 1893.2L1728.1 1894.8L1728.6 1896.3L1729.1 1897.8L1729.6 1899.4L1730.1 1900.9L1730.6 1902.5L1731.1 1904L1731.6 1905.6L1732.1 1907.1L1732.6 1908.7L1733.1 1910.3L1733.6 1911.8L1734.1 1913.4L1734.6 1914.9L1735.1 1916.5L1735.6 1918.1L1736.1 1919.7L1736.6 1921.3L1737.1 1922.8L1737.6 1924.4L1738.1 1926L1738.6 1927.6L1739.1 1929.3L1739.6 1930.9L1740.1 1932.5L1740.6 1934.2L1741.1 1935.8L1741.6 1937.5L1742.1 1939.1L1742.6 1940.8L1743.1 1942.5L1743.6 1944.1L1744.1 1945.8L1744.6 1947.5L1745.1 1949.2L1745.6 1950.8L1746.1 1952.5L1746.6 1954.2L1747.1 1955.8L1747.6 1957.5L1748.1 1959.1L1748.6 1960.8L1749.1 1962.4L1749.6 1964L1750.1 1965.7L1750.6 1967.3L1751.1 1968.9L1751.6 1970.5L1752.1 1972.1L1752.6 1973.6L1753.1 1975.2L1753.6 1976.8L1754.1 1978.3L1754.6 1979.9L1755.1 1981.5L1755.6 1983.1L1756.1 1984.6L1756.6 1986.2L1757.1 1987.8L1757.6 1989.3L1758.1 1990.9L1758.6 1992.4L1759.1 1994L1759.6 1995.5L1760.1 1997L1760.6 1998.6L1761.1 2000.1L1761.6 2001.6L1762.1 2003L1762.6 2004.5L1763.1 2005.9" stroke-width="5.5"/>
<path d="M1763.1 2005.9L1763.6 2007.4L1764.1 2008.8L1764.6 2010.2L1765.1 2011.6L1765.6 2013L1766.1 2014.3L1766.6 2015.6L1767.1 2016.9L1767.6 2018.2L1768.1 2019.5L1768.6 2020.8L1769.1 2022.1L1769.6 2023.3L1770.1 2024.6L1770.6 2025.8L1771.1 2027.1L1771.6 2028.3L1772.1 2029.5L1772.6 2030.7L1773.1 2031.8L1773.6 2033L1774.1 2034.2L1774.6 2035.3L1775.1 2036.4L1775.6 2037.5L1776.1 2038.6L1776.6 2039.7L1777.1 2040.7L1777.6 2041.8L1778.1 2042.8L1778.6 2043.8L1779.1 2044.8L1779.6 2045.7L1780.1 2046.7L1780.6 2047.7L1781.1 2048.7L1781.6 2049.7L1782.1 2050.7L1782.6 2051.7L1783.1 2052.6L1783.6 2053.6L1784.1 2054.5L1784.6 2055.5L1785.1 2056.4L1785.6 2057.3L1786.6 2059L1787.6 2060.6L1788.6 2062L1789.6 2063.3L1790.6 2064.4L1791.5 2065.4L1792.5 2066.3L1793.5 2067.1L1794.5 2068L1795.5 2068.7L1796.5 2069.3L1797.5 2069.8L1798.5 2070.2L1799.5 2070.3L1800.5 2070.2L1801.5 2069.9L1802.5 2069.6L1803.5 2069.1L1804.5 2068.5L1805.5 2067.8L1806.5 2067L1807.5 2066.2L1808.5 2065.3L1809.5 2064.3L1810.5 2062.7L1811 2061.7L1811.5 2060.7L1812 2059.5L1812.5 2058.2L1813 2056.9L1813.5 2055.4L1814 2054L1814.5 2052.5L1815 2051L1815.5 2049.4L1816 2047.9L1816.5 2046.3L1817 2044.8L1817.5 2043.3L1818 2041.7L1818.5 2040.1L1819 2038.4L1819.5 2036.7L1820 2035L1820.5 2033.2L1821 2031.3L1821.5 2029.4L1822 2027.5L1822.5 2025.5L1823 2023.5L1823.5 2021.4L1824 2019.3L1824.5 2017.2L1825 2015.1L1825.5 2012.9L1826 2010.6L1826.5 2008.2L1827 2005.8L1827.5 2003.3L1828 2000.8L1828.5 1998.2L1829 1995.5L1829.5 1992.8L1830 1990L1830.5 1987.3L1831 1984.5L1831.5 1981.6L1832 1978.8L1832.5 1975.9L1833 1973L1833.5 1970.1L1834 1967.2L1834.5 1964.4L1835 1961.5L1835.5 1958.7L1836 1955.8L1836.5 1953L1837 1950.2L1837.5 1947.4L1838 1944.5L1838.5 1941.7L1839 1938.8L1839.5 1936L1840 1933.1L1840.5 1930.2L1841 1927.3L1841.5 1924.3L1842 1921.3L1842.5 1918.2L1843 1915.1L1843.5 1912L1844 1908.8L1844.5 1905.5L1845 1902.2L1845.5 1898.8L1846 1895.4L1846.5 1891.7L1847 1887.9L1847.5 1884L1848 1880L1848.5 1875.8L1849 1871.6L1849.5 1867.3L1850 1863L1850.5 1858.7L1851 1854.3L1851.5 1849.9L1852 1845.6L1852.5 1841.3L1853 1837.1L1853.5 1832.9L1854 1828.9L1854.5 1824.9L1855 1821.1L1855.5 1817.5L1856 1814L1856.5 1810.6L1857 1807.3L1857.5 1804L1858 1800.8L1858.5 1797.7L1859 1794.7L1859.5 1791.6L1860 1788.7L1860.5 1785.7L1861 1782.8L1861.5 1779.9L1862 1777" stroke-width="5"/>
<path d="M1862 1777L1862.5 1774.2L1863 1771.3L1863.5 1768.5L1864 1765.6L1864.5 1762.8L1865 1759.9L1865.5 1757L1866 1754.1L1866.5 1751.1L1867 1748.2L1867.5 1745.2L1868 1742.2L1868.5 1739.2L1869 1736.2L1869.5 1733.2L1870 1730.2L1870.5 1727.2L1871 1724.3L1871.5 1721.3L1872 1718.4L1872.5 1715.5L1873 1712.6L1873.5 1709.7L1874 1706.9L1874.5 1704.1L1875 1701.3L1875.5 1698.6L1876 1695.9L1876.5 1693.3L1877 1690.7L1877.5 1688.1L1878 1685.5L1878.5 1682.9L1879 1680.3L1879.5 1677.7L1880 1675.2L1880.5 1672.7L1881 1670.2" stroke-width="5.5"/>
<path d="M1881 1670.2L1881.5 1667.8L1882 1665.3L1882.5 1662.9L1883 1660.6L1883.5 1658.3L1884 1656L1884.5 1653.8L1885 1651.6L1885.5 1649.5L1886 1647.4L1886.5 1645.4L1887 1643.4L1887.5 1641.4L1888 1639.4L1888.5 1637.5L1889 1635.5L1889.5 1633.6L1890 1631.6L1890.5 1629.8L1891 1627.9L1891.5 1626.1" stroke-width="6"/>
<path d="M1891.5 1626.1L1892 1624.3L1892.5 1622.6L1893 1620.9L1893.5 1619.3L1894 1617.8" stroke-width="6.5"/>
<path d="M1894 1617.8L1894.5 1616.3L1895 1614.9L1895.5 1613.5L1896 1612.3" stroke-width="7"/>
<path d="M1896 1612.3L1896.5 1611.1L1897 1610L1897.5 1609L1898 1607.9L1898.5 1606.9" stroke-width="7.5"/>
<path d="M1898.5 1606.9L1899 1605.9L1899.5 1604.9L1900 1604L1900.5 1603.1L1901 1602.2" stroke-width="8"/>
<path d="M1901 1602.2L1902 1600.5L1903 1599" stroke-width="8.5"/>
<path d="M1903 1599L1904 1597.6" stroke-width="9"/>
<path d="M1904 1597.6L1905 1596.3L1906 1595.2" stroke-width="9.5"/>
<path d="M1906 1595.2L1907 1594.2" stroke-width="10"/>
<path d="M1907 1594.2L1908 1593.3" stroke-width="10.5"/>
<path d="M1908 1593.3L1909 1592.5" stroke-width="11"/>
<path d="M1909 1592.5L1910 1591.7L1911 1591.2" stroke-width="11.5"/>
<path d="M1911 1591.2L1912 1591" stroke-width="12"/>
<path d="M1912 1591L1913 1591.2L1914 1591.6L1915 1592.3" stroke-width="12.5"/>
<path d="M1915 1592.3L1916 1593.2L1917 1594.4L1918 1595.7L1919 1597.3L1920 1598.9L1920.5 1599.8" stroke-width="12"/>
<path d="M1920.5 1599.8L1921 1600.8L1921.5 1601.7L1922 1602.7L1922.5 1603.7L1923 1604.7L1923.5 1605.8L1924 1606.8L1924.5 1607.9L1925 1609L1925.5 1610L1926 1611.1L1926.5 1612.2" stroke-width="11.5"/>
<path d="M1926.5 1612.2L1927 1613.3L1927.5 1614.4L1928 1615.4L1928.5 1616.5L1929 1617.5L1929.5 1618.6L1930 1619.6L1930.5 1620.6L1931 1621.6L1931.5 1622.6L1932 1623.6L1932.5 1624.6L1933 1625.7L1933.5 1626.8L1934 1627.8L1934.5 1629L1935 1630.1L1935.5 1631.2L1936 1632.4L1936.5 1633.6L1937 1634.7" stroke-width="11"/>
<path d="M1937 1634.7L1937.5 1635.9L1938 1637.2L1938.5 1638.4L1939 1639.6L1939.5 1640.9L1940 1642.2L1940.5 1643.4L1941 1644.7L1941.5 1646L1942 1647.3L1942.5 1648.6L1943 1649.9L1943.5 1651.3L1944 1652.6L1944.5 1653.9L1945 1655.3" stroke-width="10.5"/>
<path d="M1945 1655.3L1945.5 1656.6L1946 1658L1946.5 1659.4L1947 1660.7L1947.5 1662.1L1948 1663.5L1948.5 1664.9L1949 1666.2L1949.5 1667.6L1950 1669" stroke-width="10"/>
<path d="M1950 1669L1950.5 1670.4L1951 1671.7L1951.5 1673.1L1952 1674.5L1952.5 1676L1953 1677.4L1953.5 1678.9L1954 1680.4L1954.5 1681.9L1955 1683.4" stroke-width="9.5"/>
<path d="M1955 1683.4L1955.5 1684.9L1956 1686.4L1956.5 1687.9L1957 1689.5L1957.5 1691L1958 1692.5L1958.5 1694.1" stroke-width="9"/>
<path d="M1958.5 1694.1L1959 1695.6L1959.5 1697.2L1960 1698.7L1960.5 1700.2L1961 1701.7" stroke-width="8.5"/>
<path d="M1961 1701.7L1961.5 1703.2L1962 1704.7L1962.5 1706.2L1963 1707.7L1963.5 1709.2" stroke-width="8"/>
<path d="M1963.5 1709.2L1964 1710.7L1964.5 1712.2L1965 1713.7L1965.5 1715.2L1966 1716.7" stroke-width="7.5"/>
<path d="M1966 1716.7L1966.5 1718.2L1967 1719.7L1967.5 1721.2L1968 1722.7L1968.5 1724.2L1969 1725.7L1969.5 1727.2L1970 1728.7L1970.5 1730.2L1971 1731.7L1971.5 1733.2L1972 1734.7L1972.5 1736.2L1973 1737.7L1973.5 1739.2" stroke-width="7"/>
<path d="M1973.5 1739.2L1974 1740.7L1974.5 1742.2L1975 1743.7L1975.5 1745.2L1976 1746.7L1976.5 1748.2L1977 1749.7L1977.5 1751.2L1978 1752.7L1978.5 1754.2L1979 1755.7L1979.5 1757.2L1980 1758.7L1980.5 1760.2L1981 1761.7L1981.5 1763.2" stroke-width="6.5"/>
<path d="M1981.5 1763.2L1982 1764.7L1982.5 1766.2L1983 1767.7L1983.5 1769.1L1984 1770.6L1984.5 1772.1L1985 1773.6L1985.5 1775L1986 1776.5L1986.5 1778L1987 1779.4L1987.5 1780.9L1988 1782.3L1988.5 1783.8L1989 1785.2L1989.5 1786.7L1990 1788.1L1990.5 1789.6L1991 1791.1L1991.5 1792.5L1992 1794L1992.5 1795.5L1993 1796.9L1993.5 1798.4L1994 1799.9L1994.5 1801.4L1995 1802.9L1995.5 1804.4" stroke-width="6"/>
<path d="M1995.5 1804.4L1996 1805.9L1996.5 1807.4L1997 1808.9L1997.5 1810.4L1998 1812L1998.5 1813.5L1999 1815.1L1999.5 1816.6L2000 1818.2L2000.5 1819.8L2001 1821.4L2001.5 1823L2002 1824.6L2002.5 1826.3L2003 1828L2003.5 1829.6L2004 1831.4L2004.5 1833.1L2005 1834.8L2005.5 1836.6L2006 1838.4L2006.5 1840.2L2007 1842L2007.5 1843.8L2008 1845.6L2008.5 1847.4L2009 1849.2L2009.5 1851L2010 1852.8L2010.5 1854.5L2011 1856.3L2011.5 1858.1L2012 1859.8L2012.5 1861.6L2013 1863.3L2013.5 1865L2014 1866.7L2014.5 1868.5L2015 1870.2L2015.5 1871.9L2016 1873.6L2016.5 1875.3L2017 1877L2017.5 1878.7L2018 1880.4L2018.5 1882.1L2019 1883.8L2019.5 1885.5L2020 1887.2L2020.5 1888.9L2021 1890.6L2021.5 1892.2L2022 1893.9L2022.5 1895.5L2023 1897.2L2023.5 1898.8L2024 1900.4L2024.5 1902.1L2025 1903.7L2025.5 1905.3L2026 1906.9L2026.5 1908.5L2027 1910.1L2027.5 1911.7L2028 1913.2L2028.5 1914.8L2029 1916.4" stroke-width="5.5"/>
<path d="M2029 1916.4L2029.5 1918L2030 1919.6L2030.5 1921.2L2031 1922.7L2031.5 1924.3L2032 1925.9L2032.5 1927.5L2033 1929.1L2033.5 1930.7L2034 1932.3L2034.5 1933.9L2035 1935.6L2035.5 1937.2L2035.9 1938.8L2036.4 1940.4L2036.9 1942L2037.4 1943.6L2037.9 1945.2L2038.4 1946.9L2038.9 1948.5L2039.4 1950.1L2039.9 1951.7L2040.4 1953.3L2040.9 1954.8L2041.4 1956.4L2041.9 1958L2042.4 1959.5L2042.9 1961.1L2043.4 1962.6L2043.9 1964.2L2044.4 1965.7L2044.9 1967.3L2045.4 1968.8L2045.9 1970.4L2046.4 1971.9L2046.9 1973.4L2047.4 1975L2047.9 1976.5L2048.4 1978L2048.9 1979.5L2049.4 1981L2049.9 1982.5L2050.4 1983.9L2050.9 1985.4L2051.4 1986.8L2051.9 1988.3L2052.4 1989.7L2052.9 1991.1L2053.4 1992.5L2053.9 1993.9L2054.4 1995.2L2054.9 1996.6L2055.4 1997.9L2055.9 1999.3L2056.4 2000.6L2056.9 2001.9L2057.4 2003.2L2057.9 2004.5L2058.4 2005.8L2058.9 2007.1L2059.4 2008.3L2059.9 2009.6L2060.4 2010.9L2060.9 2012.1L2061.4 2013.4L2061.9 2014.6L2062.4 2015.9L2062.9 2017.1L2063.4 2018.4L2063.9 2019.6L2064.4 2020.9L2064.9 2022.1L2065.4 2023.4L2065.9 2024.6L2066.4 2025.9L2066.9 2027.1L2067.4 2028.3L2067.9 2029.6L2068.4 2030.8L2068.9 2032L2069.4 2033.2L2069.9 2034.4L2070.4 2035.6L2070.9 2036.7L2071.4 2037.9L2071.9 2039L2072.4 2040.2L2072.9 2041.3L2073.4 2042.4L2073.9 2043.5L2074.4 2044.6L2074.9 2045.7L2075.4 2046.8L2075.9 2048L2076.4 2049.1L2076.9 2050.2L2077.4 2051.3L2077.9 2052.4L2078.4 2053.5L2078.9 2054.6L2079.4 2055.6L2079.9 2056.6L2080.4 2057.6L2080.9 2058.6L2081.4 2059.5L2082.4 2061.1L2083.4 2062.5L2084.4 2063.8L2085.4 2065.1L2086.4 2066.4L2087.4 2067.6L2088.4 2068.8L2089.4 2069.9L2090.4 2070.8L2091.4 2071.7L2092.4 2072.3L2093.4 2072.8L2094.4 2073L2095.4 2073L2096.4 2072.8L2097.4 2072.4L2098.4 2071.9L2099.4 2071.2L2100.4 2070.4L2101.4 2069.5L2102.4 2068.6L2103.4 2067.6L2104.4 2066.6L2105.4 2065.3L2106.4 2063.7L2106.9 2062.8L2107.4 2061.9L2107.9 2060.8L2108.4 2059.8L2108.9 2058.7L2109.4 2057.5L2109.9 2056.3L2110.4 2055L2110.9 2053.7L2111.4 2052.4L2111.9 2051.1L2112.4 2049.7L2112.9 2048.3L2113.4 2046.9L2113.9 2045.5L2114.4 2044.1L2114.9 2042.6L2115.4 2041.1L2115.9 2039.5L2116.4 2037.8L2116.9 2036.1L2117.4 2034.2L2117.9 2032.4L2118.4 2030.5L2118.9 2028.5L2119.4 2026.5L2119.9 2024.4L2120.4 2022.3L2120.9 2020.1L2121.4 2017.9L2121.9 2015.7L2122.4 2013.4L2122.9 2011.1L2123.4 2008.8L2123.9 2006.4L2124.4 2004L2124.9 2001.6L2125.4 1999.1L2125.9 1996.5L2126.4 1993.8L2126.9 1991L2127.4 1988.2L2127.9 1985.3L2128.4 1982.4L2128.9 1979.3L2129.4 1976.3L2129.9 1973.2L2130.4 1970.1L2130.9 1966.9L2131.4 1963.7L2131.9 1960.5L2132.4 1957.3L2132.9 1954L2133.4 1950.8L2133.9 1947.5L2134.4 1944.3L2134.9 1941.1L2135.4 1937.8L2135.9 1934.5L2136.4 1931.1L2136.9 1927.8L2137.4 1924.4L2137.9 1920.9L2138.4 1917.5L2138.9 1914L2139.4 1910.5L2139.9 1907L2140.4 1903.4L2140.9 1899.8L2141.4 1896.3L2141.9 1892.7L2142.4 1889.1L2142.9 1885.5L2143.4 1881.8L2143.9 1878.2L2144.4 1874.6L2144.9 1871L2145.4 1867.3L2145.9 1863.6L2146.4 1859.9L2146.9 1856.2L2147.4 1852.4L2147.9 1848.6L2148.4 1844.8L2148.9 1841L2149.4 1837.2L2149.9 1833.4L2150.4 1829.6L2150.9 1825.7L2151.4 1821.9" stroke-width="5"/>
<path d="M2151.4 1821.9L2151.9 1818.1L2152.4 1814.3L2152.9 1810.6L2153.4 1806.8L2153.9 1803.1L2154.4 1799.4L2154.9 1795.7L2155.4 1792.1L2155.9 1788.5L2156.4 1784.9L2156.9 1781.3L2157.4 1777.6L2157.9 1774L2158.4 1770.4L2158.9 1766.8L2159.4 1763.3L2159.9 1759.7L2160.4 1756.2L2160.9 1752.7L2161.4 1749.2L2161.9 1745.7L2162.4 1742.3L2162.9 1738.8L2163.4 1735.5L2163.9 1732.1" stroke-width="5.5"/>
<path d="M2163.9 1732.1L2164.4 1728.8L2164.9 1725.5L2165.4 1722.3L2165.9 1719L2166.4 1715.8L2166.9 1712.5L2167.4 1709.3L2167.9 1706.1L2168.4 1702.8L2168.9 1699.6L2169.4 1696.5L2169.9 1693.3L2170.4 1690.2L2170.9 1687.1L2171.4 1684.1L2171.9 1681.1L2172.4 1678.2L2172.9 1675.4L2173.4 1672.6L2173.9 1669.9L2174.4 1667.2L2174.9 1664.7L2175.4 1662.2L2175.9 1659.8" stroke-width="6"/>
<path d="M2175.9 1659.8L2176.4 1657.4L2176.9 1655.1L2177.4 1652.8L2177.9 1650.5L2178.4 1648.2L2178.9 1646L2179.4 1643.8L2179.9 1641.6" stroke-width="6.5"/>
<path d="M2179.9 1641.6L2180.4 1639.5L2180.9 1637.5L2181.4 1635.5L2181.9 1633.5L2182.4 1631.6L2182.9 1629.8L2183.4 1628.1L2183.9 1626.4" stroke-width="7"/>
<path d="M2183.9 1626.4L2184.4 1624.7L2184.9 1623.2L2185.4 1621.7L2185.9 1620.3L2186.4 1619L2186.9 1617.6L2187.4 1616.3L2187.9 1615.1L2188.4 1613.8" stroke-width="7.5"/>
<path d="M2188.4 1613.8L2188.9 1612.6L2189.4 1611.4L2189.9 1610.2L2190.4 1609.1L2190.9 1608" stroke-width="8"/>
<path d="M2190.9 1608L2191.4 1606.9L2191.9 1605.9L2192.4 1605" stroke-width="8.5"/>
<path d="M2192.4 1605L2192.9 1604L2193.4 1603.1L2194.4 1601.5" stroke-width="9"/>
<path d="M2194.4 1601.5L2195.4 1600.1" stroke-width="9.5"/>
<path d="M2195.4 1600.1L2196.4 1598.8L2197.4 1597.6" stroke-width="10"/>
<path d="M2197.4 1597.6L2198.4 1596.4" stroke-width="10.5"/>
<path d="M2198.4 1596.4L2199.4 1595.2L2200.4 1594.1" stroke-width="11"/>
<path d="M2200.4 1594.1L2201.4 1593.1" stroke-width="11.5"/>
<path d="M2201.4 1593.1L2202.4 1592.2" stroke-width="12"/>
<path d="M2202.4 1592.2L2203.4 1591.5L2204.4 1591" stroke-width="12.5"/>
<path d="M2204.4 1591L2205.4 1590.7" stroke-width="13"/>
<path d="M2205.4 1590.7L2206.4 1590.6L2207.4 1590.8L2208.4 1591.3" stroke-width="13.5"/>
<path d="M2208.4 1591.3L2209.4 1592.1L2210.4 1593" stroke-width="13"/>
<path d="M2210.4 1593L2211.4 1594L2212.4 1595.2L2213.4 1596.5" stroke-width="12.5"/>
<path d="M2213.4 1596.5L2214.4 1597.8L2215.4 1599.2L2216.4 1600.5" stroke-width="12"/>
<path d="M2216.4 1600.5L2217.4 1601.9L2218.4 1603.6L2218.9 1604.5" stroke-width="11.5"/>
<path d="M2218.9 1604.5L2219.4 1605.4L2219.9 1606.4L2220.4 1607.4L2220.9 1608.4L2221.4 1609.5L2221.9 1610.6L2222.4 1611.7L2222.9 1612.8L2223.4 1613.9L2223.9 1615L2224.4 1616.1L2224.9 1617.2" stroke-width="11"/>
<path d="M2224.9 1617.2L2225.4 1618.3L2225.9 1619.4L2226.4 1620.5L2226.9 1621.5L2227.4 1622.6L2227.9 1623.6L2228.4 1624.7L2228.9 1625.7L2229.4 1626.8L2229.9 1627.9L2230.4 1628.9L2230.9 1630L2231.4 1631.1L2231.9 1632.2L2232.4 1633.3L2232.9 1634.4L2233.4 1635.5L2233.9 1636.6" stroke-width="10.5"/>
<path d="M2233.9 1636.6L2234.4 1637.8L2234.9 1638.9L2235.4 1640.1L2235.9 1641.2L2236.4 1642.4L2236.9 1643.6L2237.4 1644.8L2237.9 1646L2238.4 1647.2L2238.9 1648.5L2239.4 1649.7L2239.9 1651L2240.4 1652.3L2240.9 1653.6L2241.4 1654.9L2241.9 1656.2L2242.4 1657.5" stroke-width="10"/>
<path d="M2242.4 1657.5L2242.9 1658.9L2243.4 1660.2L2243.9 1661.5L2244.4 1662.9L2244.9 1664.2L2245.4 1665.5L2245.9 1666.9L2246.4 1668.2L2246.9 1669.6L2247.4 1670.9L2247.9 1672.3L2248.4 1673.6" stroke-width="9.5"/>
<path d="M2248.4 1673.6L2248.9 1674.9L2249.4 1676.3L2249.9 1677.6L2250.4 1678.9L2250.9 1680.3L2251.4 1681.6L2251.9 1683L2252.4 1684.3" stroke-width="9"/>
<path d="M2252.4 1684.3L2252.9 1685.7L2253.4 1687.1L2253.9 1688.5L2254.4 1690L2254.9 1691.4L2255.4 1692.9L2255.9 1694.4L2256.4 1695.9L2256.9 1697.5" stroke-width="8.5"/>
<path d="M2256.9 1697.5L2257.4 1699.1L2257.9 1700.7L2258.4 1702.4L2258.9 1704.1L2259.4 1705.8L2259.9 1707.6L2260.4 1709.4L2260.9 1711.2" stroke-width="8"/>
<path d="M2260.9 1711.2L2261.4 1713.1L2261.9 1715L2262.4 1716.9L2262.9 1718.8" stroke-width="7.5"/>
</g>
</g>
<path class="ax" d="M177.6 1559.8H2302.5V2099.6H177.6ZM218 1559.8V1536.6M218 2099.6V2122.8M558.76 1559.8V1536.6M558.76 2099.6V2122.8M899.52 1559.8V1536.6M899.52 2099.6V2122.8M1240.28 1559.8V1536.6M1240.28 2099.6V2122.8M1581.04 1559.8V1536.6M1581.04 2099.6V2122.8M1921.8 1559.8V1536.6M1921.8 2099.6V2122.8M2262.56 1559.8V1536.6M2262.56 2099.6V2122.8M177.6 1691H154.4M2302.5 1691H2325.7M177.6 1832.7H154.4M2302.5 1832.7H2325.7M177.6 1973.5H154.4M2302.5 1973.5H2325.7"/>
<text class="tk" text-anchor="end" transform="translate(134.8 1711) scale(1 1.04)">0.5</text>
<text class="tk" text-anchor="end" transform="translate(134.8 1852.7) scale(1 1.04)">0</text>
<text class="tk" text-anchor="end" transform="translate(134.8 1993.5) scale(1 1.04)">-0.5</text>
<text class="tk" text-anchor="middle" transform="translate(218 2192.6) scale(1 1.04)">0</text>
<text class="tk" text-anchor="middle" transform="translate(558.76 2192.6) scale(1 1.04)">2</text>
<text class="tk" text-anchor="middle" transform="translate(899.52 2192.6) scale(1 1.04)">4</text>
<text class="tk" text-anchor="middle" transform="translate(1240.28 2192.6) scale(1 1.04)">6</text>
<text class="tk" text-anchor="middle" transform="translate(1581.04 2192.6) scale(1 1.04)">8</text>
<text class="tk" text-anchor="middle" transform="translate(1921.8 2192.6) scale(1 1.04)">10</text>
<text class="tk" text-anchor="middle" transform="translate(2262.56 2192.6) scale(1 1.04)">12</text>
</g>
<g>
<rect class="lb" x="1677" y="181.6" width="648.5" height="69"/>
<line x1="1691.6" y1="216.3" x2="1828.8" y2="216.3" stroke="#D95319" stroke-width="4.8"/>
<text class="lg" x="1839.6" y="234.4" textLength="472.6" lengthAdjust="spacing" xml:space="preserve">Vg wihtout Algorithm</text>
</g>
<g>
<rect class="lb" x="1687" y="570.2" width="579.7" height="68.6"/>
<line x1="1701.4" y1="604" x2="1839.4" y2="604" stroke="#4DBEEE" stroke-width="4.8"/>
<text class="lg" x="1851.6" y="623.3" textLength="401.6" lengthAdjust="spacing" xml:space="preserve">Vg with Algorithm</text>
</g>
<g>
<rect class="lb" x="173.9" y="1293.9" width="1018.3" height="126.5"/>
<line x1="187.8" y1="1328.2" x2="326.5" y2="1328.2" stroke="#77AC30" stroke-width="4.8"/>
<text class="lg" x="337.4" y="1347.3" textLength="839.2" lengthAdjust="spacing" xml:space="preserve">Angular Frequency without  Algorithm</text>
<line x1="187.8" y1="1386.5" x2="326.5" y2="1386.5" stroke="#14A0FA" stroke-width="4.8"/>
<text class="lg" x="337.4" y="1405.3" textLength="756.6" lengthAdjust="spacing" xml:space="preserve">Angular Frequency with Algorithm</text>
</g>
<g>
<rect class="lb" x="183.7" y="1967" width="652.2" height="127.3"/>
<line x1="197.6" y1="2001.2" x2="336" y2="2001.2" stroke="#77AC30" stroke-width="4.8"/>
<text class="lg" x="347" y="2020" textLength="474.2" lengthAdjust="spacing" xml:space="preserve">Vq without Algorithm</text>
<line x1="197.6" y1="2060" x2="336" y2="2060" stroke="#0072BD" stroke-width="4.8"/>
<text class="lg" x="347" y="2078" textLength="404.8" lengthAdjust="spacing" xml:space="preserve">Vq with Algorithm</text>
</g>
<text class="xl" text-anchor="middle" x="1240.8" y="2264.2">Time (seconds)</text>
</svg>
</body>
</html>
